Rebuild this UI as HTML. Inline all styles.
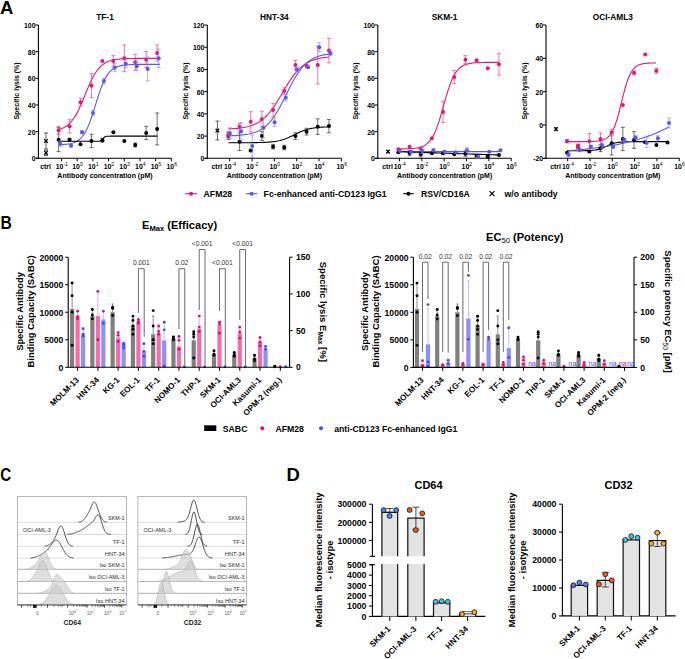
<!DOCTYPE html>
<html><head><meta charset="utf-8"><style>
html,body{margin:0;padding:0;background:#fff;}
body{width:685px;height:659px;overflow:hidden;}
svg{display:block;font-family:"Liberation Sans",sans-serif;}
</style></head><body>
<svg width="685" height="659" viewBox="0 0 685 659">
<rect x="0" y="0" width="685" height="659" fill="#fff"/>
<text x="0" y="13.5" font-size="18.5" font-weight="bold" text-anchor="start" fill="#000">A</text>
<text x="0.6" y="228.5" font-size="18.5" font-weight="bold" text-anchor="start" fill="#000" textLength="11.3" lengthAdjust="spacingAndGlyphs">B</text>
<text x="0.3" y="481" font-size="18.5" font-weight="bold" text-anchor="start" fill="#000" textLength="10.9" lengthAdjust="spacingAndGlyphs">C</text>
<text x="286.5" y="480.8" font-size="18.5" font-weight="bold" text-anchor="start" fill="#000">D</text>
<line x1="38.4" y1="25" x2="38.4" y2="158.8" stroke="#000" stroke-width="1.1"/>
<line x1="35.9" y1="158.3" x2="171.6" y2="158.3" stroke="#000" stroke-width="1.1"/>
<line x1="35.4" y1="158.3" x2="38.4" y2="158.3" stroke="#000" stroke-width="1"/>
<text x="35.5" y="161.2" font-size="6.9" font-weight="bold" text-anchor="end" fill="#000">0</text>
<line x1="35.4" y1="131.64" x2="38.4" y2="131.64" stroke="#000" stroke-width="1"/>
<text x="35.5" y="134.54" font-size="6.9" font-weight="bold" text-anchor="end" fill="#000">20</text>
<line x1="35.4" y1="104.98" x2="38.4" y2="104.98" stroke="#000" stroke-width="1"/>
<text x="35.5" y="107.88" font-size="6.9" font-weight="bold" text-anchor="end" fill="#000">40</text>
<line x1="35.4" y1="78.32" x2="38.4" y2="78.32" stroke="#000" stroke-width="1"/>
<text x="35.5" y="81.22" font-size="6.9" font-weight="bold" text-anchor="end" fill="#000">60</text>
<line x1="35.4" y1="51.66" x2="38.4" y2="51.66" stroke="#000" stroke-width="1"/>
<text x="35.5" y="54.56" font-size="6.9" font-weight="bold" text-anchor="end" fill="#000">80</text>
<line x1="35.4" y1="25" x2="38.4" y2="25" stroke="#000" stroke-width="1"/>
<text x="35.5" y="27.9" font-size="6.9" font-weight="bold" text-anchor="end" fill="#000">100</text>
<line x1="61.5" y1="158.3" x2="61.5" y2="161.3" stroke="#000" stroke-width="1"/>
<text x="61.8" y="168.6" font-size="6.9" font-weight="bold" text-anchor="middle">10<tspan font-size="5.0" dy="-2.7" font-weight="normal">-1</tspan></text>
<line x1="77.2" y1="158.3" x2="77.2" y2="161.3" stroke="#000" stroke-width="1"/>
<text x="77.5" y="168.6" font-size="6.9" font-weight="bold" text-anchor="middle">10<tspan font-size="5.0" dy="-2.7" font-weight="normal">0</tspan></text>
<line x1="92.9" y1="158.3" x2="92.9" y2="161.3" stroke="#000" stroke-width="1"/>
<text x="93.2" y="168.6" font-size="6.9" font-weight="bold" text-anchor="middle">10<tspan font-size="5.0" dy="-2.7" font-weight="normal">1</tspan></text>
<line x1="108.6" y1="158.3" x2="108.6" y2="161.3" stroke="#000" stroke-width="1"/>
<text x="108.9" y="168.6" font-size="6.9" font-weight="bold" text-anchor="middle">10<tspan font-size="5.0" dy="-2.7" font-weight="normal">2</tspan></text>
<line x1="124.3" y1="158.3" x2="124.3" y2="161.3" stroke="#000" stroke-width="1"/>
<text x="124.6" y="168.6" font-size="6.9" font-weight="bold" text-anchor="middle">10<tspan font-size="5.0" dy="-2.7" font-weight="normal">3</tspan></text>
<line x1="140" y1="158.3" x2="140" y2="161.3" stroke="#000" stroke-width="1"/>
<text x="140.3" y="168.6" font-size="6.9" font-weight="bold" text-anchor="middle">10<tspan font-size="5.0" dy="-2.7" font-weight="normal">4</tspan></text>
<line x1="155.7" y1="158.3" x2="155.7" y2="161.3" stroke="#000" stroke-width="1"/>
<text x="156" y="168.6" font-size="6.9" font-weight="bold" text-anchor="middle">10<tspan font-size="5.0" dy="-2.7" font-weight="normal">5</tspan></text>
<line x1="171.4" y1="158.3" x2="171.4" y2="161.3" stroke="#000" stroke-width="1"/>
<text x="171.7" y="168.6" font-size="6.9" font-weight="bold" text-anchor="middle">10<tspan font-size="5.0" dy="-2.7" font-weight="normal">6</tspan></text>
<text x="45.5" y="168.6" font-size="6.9" font-weight="bold" text-anchor="middle" fill="#000">ctrl</text>
<text x="105" y="177.5" font-size="7" font-weight="bold" text-anchor="middle" fill="#000">Antibody concentration (pM)</text>
<text x="18.9" y="91" font-size="7" font-weight="bold" text-anchor="middle" fill="#000" transform="rotate(-90 18.9 91)">Specific lysis (%)</text>
<text x="105" y="20.2" font-size="8.3" font-weight="bold" text-anchor="middle" fill="#000">TF-1</text>
<path d="M58.6,129.54 L59.84,129.18 L61.07,128.76 L62.31,128.26 L63.55,127.69 L64.78,127.02 L66.02,126.26 L67.25,125.37 L68.49,124.36 L69.73,123.2 L70.96,121.89 L72.2,120.41 L73.44,118.75 L74.67,116.9 L75.91,114.86 L77.14,112.62 L78.38,110.21 L79.62,107.62 L80.85,104.88 L82.09,102.02 L83.33,99.07 L84.56,96.06 L85.8,93.03 L87.03,90.03 L88.27,87.1 L89.51,84.27 L90.74,81.58 L91.98,79.04 L93.22,76.67 L94.45,74.5 L95.69,72.51 L96.92,70.72 L98.16,69.11 L99.4,67.68 L100.63,66.41 L101.87,65.3 L103.11,64.32 L104.34,63.47 L105.58,62.74 L106.81,62.1 L108.05,61.55 L109.29,61.08 L110.52,60.67 L111.76,60.33 L113,60.03 L114.23,59.77 L115.47,59.56 L116.7,59.37 L117.94,59.21 L119.18,59.08 L120.41,58.97 L121.65,58.87 L122.88,58.79 L124.12,58.72 L125.36,58.66 L126.59,58.61 L127.83,58.56 L129.07,58.53 L130.3,58.5 L131.54,58.47 L132.78,58.45 L134.01,58.43 L135.25,58.41 L136.48,58.4 L137.72,58.39 L138.96,58.38 L140.19,58.37 L141.43,58.36 L142.67,58.36 L143.9,58.35 L145.14,58.35 L146.37,58.35 L147.61,58.34 L148.85,58.34 L150.08,58.34 L151.32,58.34 L152.56,58.33 L153.79,58.33 L155.03,58.33 L156.26,58.33 L157.5,58.33" stroke="#e5157a" stroke-width="1.1" fill="none"/>
<path d="M60,144.71 L61.25,144.65 L62.5,144.58 L63.75,144.5 L65,144.39 L66.25,144.26 L67.5,144.11 L68.75,143.92 L70,143.69 L71.25,143.41 L72.5,143.07 L73.75,142.66 L75,142.16 L76.25,141.56 L77.5,140.83 L78.75,139.97 L80,138.93 L81.25,137.71 L82.5,136.26 L83.75,134.57 L85,132.6 L86.25,130.34 L87.5,127.77 L88.75,124.89 L90,121.7 L91.25,118.23 L92.5,114.52 L93.75,110.61 L95,106.6 L96.25,102.54 L97.5,98.52 L98.75,94.62 L100,90.92 L101.25,87.46 L102.5,84.28 L103.75,81.41 L105,78.85 L106.25,76.61 L107.5,74.65 L108.75,72.97 L110,71.53 L111.25,70.32 L112.5,69.29 L113.75,68.43 L115,67.71 L116.25,67.11 L117.5,66.62 L118.75,66.21 L120,65.87 L121.25,65.59 L122.5,65.37 L123.75,65.18 L125,65.02 L126.25,64.9 L127.5,64.79 L128.75,64.71 L130,64.64 L131.25,64.58 L132.5,64.53 L133.75,64.5 L135,64.46 L136.25,64.44 L137.5,64.42 L138.75,64.4 L140,64.39 L141.25,64.37 L142.5,64.37 L143.75,64.36 L145,64.35 L146.25,64.35 L147.5,64.34 L148.75,64.34 L150,64.34 L151.25,64.33 L152.5,64.33 L153.75,64.33 L155,64.33 L156.25,64.33 L157.5,64.33 L158.75,64.33 L160,64.33" stroke="#5757ee" stroke-width="1.1" fill="none"/>
<path d="M58.6,141.24 L59.84,141.24 L61.07,141.24 L62.31,141.24 L63.55,141.24 L64.78,141.24 L66.02,141.24 L67.25,141.24 L68.49,141.24 L69.73,141.24 L70.96,141.24 L72.2,141.24 L73.44,141.24 L74.67,141.24 L75.91,141.24 L77.14,141.24 L78.38,141.24 L79.62,141.24 L80.85,141.24 L82.09,141.24 L83.33,141.24 L84.56,141.24 L85.8,141.24 L87.03,141.24 L88.27,141.24 L89.51,141.24 L90.74,141.24 L91.98,141.24 L93.22,141.24 L94.45,141.24 L95.69,141.24 L96.92,141.23 L98.16,141.2 L99.4,141.12 L100.63,140.84 L101.87,140.04 L103.11,138.57 L104.34,137.18 L105.58,136.5 L106.81,136.27 L108.05,136.2 L109.29,136.18 L110.52,136.17 L111.76,136.17 L113,136.17 L114.23,136.17 L115.47,136.17 L116.7,136.17 L117.94,136.17 L119.18,136.17 L120.41,136.17 L121.65,136.17 L122.88,136.17 L124.12,136.17 L125.36,136.17 L126.59,136.17 L127.83,136.17 L129.07,136.17 L130.3,136.17 L131.54,136.17 L132.78,136.17 L134.01,136.17 L135.25,136.17 L136.48,136.17 L137.72,136.17 L138.96,136.17 L140.19,136.17 L141.43,136.17 L142.67,136.17 L143.9,136.17 L145.14,136.17 L146.37,136.17 L147.61,136.17 L148.85,136.17 L150.08,136.17 L151.32,136.17 L152.56,136.17 L153.79,136.17 L155.03,136.17 L156.26,136.17 L157.5,136.17" stroke="#000" stroke-width="1.1" fill="none"/>
<line x1="46" y1="148.97" x2="46" y2="132.97" stroke="#222" stroke-width="0.7"/>
<line x1="44" y1="148.97" x2="48" y2="148.97" stroke="#222" stroke-width="0.7"/>
<line x1="44" y1="132.97" x2="48" y2="132.97" stroke="#222" stroke-width="0.7"/>
<path d="M44.2,139.17 L47.8,142.77 M44.2,142.77 L47.8,139.17" stroke="#000" stroke-width="1.2" fill="none"/>
<line x1="46" y1="155.63" x2="46" y2="150.3" stroke="#222" stroke-width="0.7"/>
<line x1="44" y1="155.63" x2="48" y2="155.63" stroke="#222" stroke-width="0.7"/>
<line x1="44" y1="150.3" x2="48" y2="150.3" stroke="#222" stroke-width="0.7"/>
<path d="M44.2,151.17 L47.8,154.77 M44.2,154.77 L47.8,151.17" stroke="#000" stroke-width="1.2" fill="none"/>
<line x1="58.6" y1="151.64" x2="58.6" y2="127.64" stroke="#333" stroke-width="0.7"/>
<line x1="56.6" y1="151.64" x2="60.6" y2="151.64" stroke="#333" stroke-width="0.7"/>
<line x1="56.6" y1="127.64" x2="60.6" y2="127.64" stroke="#333" stroke-width="0.7"/>
<circle cx="58.6" cy="139.64" r="2" fill="#000" stroke="none" stroke-width="0"/>
<line x1="69.55" y1="140.97" x2="69.55" y2="138.31" stroke="#333" stroke-width="0.7"/>
<line x1="67.55" y1="140.97" x2="71.55" y2="140.97" stroke="#333" stroke-width="0.7"/>
<line x1="67.55" y1="138.31" x2="71.55" y2="138.31" stroke="#333" stroke-width="0.7"/>
<circle cx="69.55" cy="139.64" r="2" fill="#000" stroke="none" stroke-width="0"/>
<circle cx="80.5" cy="144.3" r="2" fill="#000" stroke="none" stroke-width="0"/>
<line x1="91.45" y1="147.64" x2="91.45" y2="134.31" stroke="#333" stroke-width="0.7"/>
<line x1="89.45" y1="147.64" x2="93.45" y2="147.64" stroke="#333" stroke-width="0.7"/>
<line x1="89.45" y1="134.31" x2="93.45" y2="134.31" stroke="#333" stroke-width="0.7"/>
<circle cx="91.45" cy="140.97" r="2" fill="#000" stroke="none" stroke-width="0"/>
<line x1="102.4" y1="142.3" x2="102.4" y2="138.31" stroke="#333" stroke-width="0.7"/>
<line x1="100.4" y1="142.3" x2="104.4" y2="142.3" stroke="#333" stroke-width="0.7"/>
<line x1="100.4" y1="138.31" x2="104.4" y2="138.31" stroke="#333" stroke-width="0.7"/>
<circle cx="102.4" cy="140.3" r="2" fill="#000" stroke="none" stroke-width="0"/>
<circle cx="113.35" cy="132.31" r="2" fill="#000" stroke="none" stroke-width="0"/>
<circle cx="124.3" cy="140.97" r="2" fill="#000" stroke="none" stroke-width="0"/>
<line x1="135.25" y1="146.97" x2="135.25" y2="142.97" stroke="#333" stroke-width="0.7"/>
<line x1="133.25" y1="146.97" x2="137.25" y2="146.97" stroke="#333" stroke-width="0.7"/>
<line x1="133.25" y1="142.97" x2="137.25" y2="142.97" stroke="#333" stroke-width="0.7"/>
<circle cx="135.25" cy="144.97" r="2" fill="#000" stroke="none" stroke-width="0"/>
<line x1="146.2" y1="139.64" x2="146.2" y2="126.31" stroke="#333" stroke-width="0.7"/>
<line x1="144.2" y1="139.64" x2="148.2" y2="139.64" stroke="#333" stroke-width="0.7"/>
<line x1="144.2" y1="126.31" x2="148.2" y2="126.31" stroke="#333" stroke-width="0.7"/>
<circle cx="146.2" cy="132.97" r="2" fill="#000" stroke="none" stroke-width="0"/>
<line x1="157.15" y1="144.97" x2="157.15" y2="112.98" stroke="#333" stroke-width="0.7"/>
<line x1="155.15" y1="144.97" x2="159.15" y2="144.97" stroke="#333" stroke-width="0.7"/>
<line x1="155.15" y1="112.98" x2="159.15" y2="112.98" stroke="#333" stroke-width="0.7"/>
<circle cx="157.15" cy="128.97" r="2" fill="#000" stroke="none" stroke-width="0"/>
<line x1="58.6" y1="134.31" x2="58.6" y2="126.31" stroke="#ec3b8c" stroke-width="0.7"/>
<line x1="56.6" y1="134.31" x2="60.6" y2="134.31" stroke="#ec3b8c" stroke-width="0.7"/>
<line x1="56.6" y1="126.31" x2="60.6" y2="126.31" stroke="#ec3b8c" stroke-width="0.7"/>
<circle cx="58.6" cy="130.31" r="2" fill="#e5157a" stroke="none" stroke-width="0"/>
<line x1="69.55" y1="132.97" x2="69.55" y2="119.64" stroke="#ec3b8c" stroke-width="0.7"/>
<line x1="67.55" y1="132.97" x2="71.55" y2="132.97" stroke="#ec3b8c" stroke-width="0.7"/>
<line x1="67.55" y1="119.64" x2="71.55" y2="119.64" stroke="#ec3b8c" stroke-width="0.7"/>
<circle cx="69.55" cy="126.31" r="2" fill="#e5157a" stroke="none" stroke-width="0"/>
<line x1="80.5" y1="106.31" x2="80.5" y2="98.31" stroke="#ec3b8c" stroke-width="0.7"/>
<line x1="78.5" y1="106.31" x2="82.5" y2="106.31" stroke="#ec3b8c" stroke-width="0.7"/>
<line x1="78.5" y1="98.31" x2="82.5" y2="98.31" stroke="#ec3b8c" stroke-width="0.7"/>
<circle cx="80.5" cy="102.31" r="2" fill="#e5157a" stroke="none" stroke-width="0"/>
<line x1="91.45" y1="97.65" x2="91.45" y2="73.65" stroke="#ec3b8c" stroke-width="0.7"/>
<line x1="89.45" y1="97.65" x2="93.45" y2="97.65" stroke="#ec3b8c" stroke-width="0.7"/>
<line x1="89.45" y1="73.65" x2="93.45" y2="73.65" stroke="#ec3b8c" stroke-width="0.7"/>
<circle cx="91.45" cy="85.65" r="2" fill="#e5157a" stroke="none" stroke-width="0"/>
<circle cx="102.4" cy="60.99" r="2" fill="#e5157a" stroke="none" stroke-width="0"/>
<line x1="113.35" y1="66.32" x2="113.35" y2="55.66" stroke="#ec3b8c" stroke-width="0.7"/>
<line x1="111.35" y1="66.32" x2="115.35" y2="66.32" stroke="#ec3b8c" stroke-width="0.7"/>
<line x1="111.35" y1="55.66" x2="115.35" y2="55.66" stroke="#ec3b8c" stroke-width="0.7"/>
<circle cx="113.35" cy="60.99" r="2" fill="#e5157a" stroke="none" stroke-width="0"/>
<line x1="124.3" y1="71.66" x2="124.3" y2="44.99" stroke="#ec3b8c" stroke-width="0.7"/>
<line x1="122.3" y1="71.66" x2="126.3" y2="71.66" stroke="#ec3b8c" stroke-width="0.7"/>
<line x1="122.3" y1="44.99" x2="126.3" y2="44.99" stroke="#ec3b8c" stroke-width="0.7"/>
<circle cx="124.3" cy="58.33" r="2" fill="#e5157a" stroke="none" stroke-width="0"/>
<line x1="135.25" y1="70.32" x2="135.25" y2="54.33" stroke="#ec3b8c" stroke-width="0.7"/>
<line x1="133.25" y1="70.32" x2="137.25" y2="70.32" stroke="#ec3b8c" stroke-width="0.7"/>
<line x1="133.25" y1="54.33" x2="137.25" y2="54.33" stroke="#ec3b8c" stroke-width="0.7"/>
<circle cx="135.25" cy="62.32" r="2" fill="#e5157a" stroke="none" stroke-width="0"/>
<line x1="146.2" y1="67.66" x2="146.2" y2="51.66" stroke="#ec3b8c" stroke-width="0.7"/>
<line x1="144.2" y1="67.66" x2="148.2" y2="67.66" stroke="#ec3b8c" stroke-width="0.7"/>
<line x1="144.2" y1="51.66" x2="148.2" y2="51.66" stroke="#ec3b8c" stroke-width="0.7"/>
<circle cx="146.2" cy="59.66" r="2" fill="#e5157a" stroke="none" stroke-width="0"/>
<line x1="157.15" y1="60.99" x2="157.15" y2="44.99" stroke="#ec3b8c" stroke-width="0.7"/>
<line x1="155.15" y1="60.99" x2="159.15" y2="60.99" stroke="#ec3b8c" stroke-width="0.7"/>
<line x1="155.15" y1="44.99" x2="159.15" y2="44.99" stroke="#ec3b8c" stroke-width="0.7"/>
<circle cx="157.15" cy="52.99" r="2" fill="#e5157a" stroke="none" stroke-width="0"/>
<line x1="60.1" y1="146.3" x2="60.1" y2="140.97" stroke="#8a8af5" stroke-width="0.7"/>
<line x1="58.1" y1="146.3" x2="62.1" y2="146.3" stroke="#8a8af5" stroke-width="0.7"/>
<line x1="58.1" y1="140.97" x2="62.1" y2="140.97" stroke="#8a8af5" stroke-width="0.7"/>
<circle cx="60.1" cy="143.64" r="2" fill="#5757ee" stroke="none" stroke-width="0"/>
<line x1="71.05" y1="146.97" x2="71.05" y2="144.3" stroke="#8a8af5" stroke-width="0.7"/>
<line x1="69.05" y1="146.97" x2="73.05" y2="146.97" stroke="#8a8af5" stroke-width="0.7"/>
<line x1="69.05" y1="144.3" x2="73.05" y2="144.3" stroke="#8a8af5" stroke-width="0.7"/>
<circle cx="71.05" cy="145.64" r="2" fill="#5757ee" stroke="none" stroke-width="0"/>
<line x1="82" y1="133.64" x2="82" y2="130.97" stroke="#8a8af5" stroke-width="0.7"/>
<line x1="80" y1="133.64" x2="84" y2="133.64" stroke="#8a8af5" stroke-width="0.7"/>
<line x1="80" y1="130.97" x2="84" y2="130.97" stroke="#8a8af5" stroke-width="0.7"/>
<circle cx="82" cy="132.31" r="2" fill="#5757ee" stroke="none" stroke-width="0"/>
<line x1="92.95" y1="115.64" x2="92.95" y2="110.31" stroke="#8a8af5" stroke-width="0.7"/>
<line x1="90.95" y1="115.64" x2="94.95" y2="115.64" stroke="#8a8af5" stroke-width="0.7"/>
<line x1="90.95" y1="110.31" x2="94.95" y2="110.31" stroke="#8a8af5" stroke-width="0.7"/>
<circle cx="92.95" cy="112.98" r="2" fill="#5757ee" stroke="none" stroke-width="0"/>
<line x1="103.9" y1="83.65" x2="103.9" y2="78.32" stroke="#8a8af5" stroke-width="0.7"/>
<line x1="101.9" y1="83.65" x2="105.9" y2="83.65" stroke="#8a8af5" stroke-width="0.7"/>
<line x1="101.9" y1="78.32" x2="105.9" y2="78.32" stroke="#8a8af5" stroke-width="0.7"/>
<circle cx="103.9" cy="80.99" r="2" fill="#5757ee" stroke="none" stroke-width="0"/>
<line x1="114.85" y1="71.66" x2="114.85" y2="63.66" stroke="#8a8af5" stroke-width="0.7"/>
<line x1="112.85" y1="71.66" x2="116.85" y2="71.66" stroke="#8a8af5" stroke-width="0.7"/>
<line x1="112.85" y1="63.66" x2="116.85" y2="63.66" stroke="#8a8af5" stroke-width="0.7"/>
<circle cx="114.85" cy="67.66" r="2" fill="#5757ee" stroke="none" stroke-width="0"/>
<line x1="125.8" y1="67.66" x2="125.8" y2="59.66" stroke="#8a8af5" stroke-width="0.7"/>
<line x1="123.8" y1="67.66" x2="127.8" y2="67.66" stroke="#8a8af5" stroke-width="0.7"/>
<line x1="123.8" y1="59.66" x2="127.8" y2="59.66" stroke="#8a8af5" stroke-width="0.7"/>
<circle cx="125.8" cy="63.66" r="2" fill="#5757ee" stroke="none" stroke-width="0"/>
<line x1="136.75" y1="70.32" x2="136.75" y2="62.32" stroke="#8a8af5" stroke-width="0.7"/>
<line x1="134.75" y1="70.32" x2="138.75" y2="70.32" stroke="#8a8af5" stroke-width="0.7"/>
<line x1="134.75" y1="62.32" x2="138.75" y2="62.32" stroke="#8a8af5" stroke-width="0.7"/>
<circle cx="136.75" cy="66.32" r="2" fill="#5757ee" stroke="none" stroke-width="0"/>
<line x1="147.7" y1="80.99" x2="147.7" y2="56.99" stroke="#8a8af5" stroke-width="0.7"/>
<line x1="145.7" y1="80.99" x2="149.7" y2="80.99" stroke="#8a8af5" stroke-width="0.7"/>
<line x1="145.7" y1="56.99" x2="149.7" y2="56.99" stroke="#8a8af5" stroke-width="0.7"/>
<circle cx="147.7" cy="68.99" r="2" fill="#5757ee" stroke="none" stroke-width="0"/>
<line x1="158.65" y1="67.66" x2="158.65" y2="48.99" stroke="#8a8af5" stroke-width="0.7"/>
<line x1="156.65" y1="67.66" x2="160.65" y2="67.66" stroke="#8a8af5" stroke-width="0.7"/>
<line x1="156.65" y1="48.99" x2="160.65" y2="48.99" stroke="#8a8af5" stroke-width="0.7"/>
<circle cx="158.65" cy="58.33" r="2" fill="#5757ee" stroke="none" stroke-width="0"/>
<line x1="207.3" y1="25" x2="207.3" y2="158.8" stroke="#000" stroke-width="1.1"/>
<line x1="204.8" y1="158.3" x2="341.4" y2="158.3" stroke="#000" stroke-width="1.1"/>
<line x1="204.3" y1="158.3" x2="207.3" y2="158.3" stroke="#000" stroke-width="1"/>
<text x="204.4" y="161.2" font-size="6.9" font-weight="bold" text-anchor="end" fill="#000">0</text>
<line x1="204.3" y1="136.08" x2="207.3" y2="136.08" stroke="#000" stroke-width="1"/>
<text x="204.4" y="138.98" font-size="6.9" font-weight="bold" text-anchor="end" fill="#000">20</text>
<line x1="204.3" y1="113.87" x2="207.3" y2="113.87" stroke="#000" stroke-width="1"/>
<text x="204.4" y="116.77" font-size="6.9" font-weight="bold" text-anchor="end" fill="#000">40</text>
<line x1="204.3" y1="91.65" x2="207.3" y2="91.65" stroke="#000" stroke-width="1"/>
<text x="204.4" y="94.55" font-size="6.9" font-weight="bold" text-anchor="end" fill="#000">60</text>
<line x1="204.3" y1="69.43" x2="207.3" y2="69.43" stroke="#000" stroke-width="1"/>
<text x="204.4" y="72.33" font-size="6.9" font-weight="bold" text-anchor="end" fill="#000">80</text>
<line x1="204.3" y1="47.22" x2="207.3" y2="47.22" stroke="#000" stroke-width="1"/>
<text x="204.4" y="50.12" font-size="6.9" font-weight="bold" text-anchor="end" fill="#000">100</text>
<line x1="204.3" y1="25" x2="207.3" y2="25" stroke="#000" stroke-width="1"/>
<text x="204.4" y="27.9" font-size="6.9" font-weight="bold" text-anchor="end" fill="#000">120</text>
<line x1="229.7" y1="158.3" x2="229.7" y2="161.3" stroke="#000" stroke-width="1"/>
<text x="230" y="168.6" font-size="6.9" font-weight="bold" text-anchor="middle">10<tspan font-size="5.0" dy="-2.7" font-weight="normal">-4</tspan></text>
<line x1="252.04" y1="158.3" x2="252.04" y2="161.3" stroke="#000" stroke-width="1"/>
<text x="252.34" y="168.6" font-size="6.9" font-weight="bold" text-anchor="middle">10<tspan font-size="5.0" dy="-2.7" font-weight="normal">-2</tspan></text>
<line x1="274.38" y1="158.3" x2="274.38" y2="161.3" stroke="#000" stroke-width="1"/>
<text x="274.68" y="168.6" font-size="6.9" font-weight="bold" text-anchor="middle">10<tspan font-size="5.0" dy="-2.7" font-weight="normal">0</tspan></text>
<line x1="296.72" y1="158.3" x2="296.72" y2="161.3" stroke="#000" stroke-width="1"/>
<text x="297.02" y="168.6" font-size="6.9" font-weight="bold" text-anchor="middle">10<tspan font-size="5.0" dy="-2.7" font-weight="normal">2</tspan></text>
<line x1="319.06" y1="158.3" x2="319.06" y2="161.3" stroke="#000" stroke-width="1"/>
<text x="319.36" y="168.6" font-size="6.9" font-weight="bold" text-anchor="middle">10<tspan font-size="5.0" dy="-2.7" font-weight="normal">4</tspan></text>
<line x1="341.4" y1="158.3" x2="341.4" y2="161.3" stroke="#000" stroke-width="1"/>
<text x="341.7" y="168.6" font-size="6.9" font-weight="bold" text-anchor="middle">10<tspan font-size="5.0" dy="-2.7" font-weight="normal">6</tspan></text>
<text x="216.9" y="168.6" font-size="6.9" font-weight="bold" text-anchor="middle" fill="#000">ctrl</text>
<text x="274.35" y="177.5" font-size="7" font-weight="bold" text-anchor="middle" fill="#000">Antibody concentration (pM)</text>
<text x="187.8" y="91" font-size="7" font-weight="bold" text-anchor="middle" fill="#000" transform="rotate(-90 187.8 91)">Specific lysis (%)</text>
<text x="274.35" y="20.2" font-size="8.3" font-weight="bold" text-anchor="middle" fill="#000">HNT-34</text>
<path d="M228.4,128.94 L229.66,128.88 L230.91,128.81 L232.17,128.74 L233.43,128.65 L234.69,128.56 L235.94,128.45 L237.2,128.34 L238.46,128.21 L239.72,128.06 L240.97,127.89 L242.23,127.71 L243.49,127.5 L244.75,127.27 L246,127.02 L247.26,126.73 L248.52,126.41 L249.78,126.06 L251.03,125.66 L252.29,125.22 L253.55,124.74 L254.81,124.2 L256.06,123.61 L257.32,122.95 L258.58,122.23 L259.84,121.44 L261.1,120.57 L262.35,119.62 L263.61,118.59 L264.87,117.46 L266.12,116.25 L267.38,114.94 L268.64,113.54 L269.9,112.04 L271.15,110.45 L272.41,108.76 L273.67,106.99 L274.93,105.13 L276.19,103.2 L277.44,101.21 L278.7,99.16 L279.96,97.06 L281.22,94.94 L282.47,92.81 L283.73,90.67 L284.99,88.55 L286.25,86.46 L287.5,84.4 L288.76,82.41 L290.02,80.47 L291.27,78.61 L292.53,76.84 L293.79,75.15 L295.05,73.55 L296.31,72.05 L297.56,70.64 L298.82,69.33 L300.08,68.11 L301.33,66.98 L302.59,65.95 L303.85,64.99 L305.11,64.12 L306.37,63.33 L307.62,62.6 L308.88,61.94 L310.14,61.35 L311.39,60.81 L312.65,60.32 L313.91,59.88 L315.17,59.48 L316.43,59.12 L317.68,58.8 L318.94,58.52 L320.2,58.26 L321.45,58.03 L322.71,57.82 L323.97,57.64 L325.23,57.47 L326.49,57.32 L327.74,57.19 L329,57.07" stroke="#e5157a" stroke-width="1.1" fill="none"/>
<path d="M229.9,135.73 L231.16,135.69 L232.41,135.64 L233.67,135.58 L234.93,135.51 L236.19,135.44 L237.44,135.36 L238.7,135.26 L239.96,135.16 L241.22,135.04 L242.47,134.91 L243.73,134.76 L244.99,134.59 L246.25,134.4 L247.5,134.19 L248.76,133.95 L250.02,133.68 L251.28,133.37 L252.53,133.04 L253.79,132.66 L255.05,132.24 L256.31,131.76 L257.56,131.24 L258.82,130.65 L260.08,130 L261.34,129.27 L262.6,128.47 L263.85,127.58 L265.11,126.61 L266.37,125.53 L267.62,124.36 L268.88,123.08 L270.14,121.68 L271.4,120.17 L272.65,118.55 L273.91,116.8 L275.17,114.94 L276.43,112.96 L277.69,110.87 L278.94,108.68 L280.2,106.39 L281.46,104.02 L282.72,101.59 L283.97,99.1 L285.23,96.58 L286.49,94.05 L287.75,91.52 L289,89 L290.26,86.53 L291.52,84.12 L292.77,81.77 L294.03,79.51 L295.29,77.35 L296.55,75.29 L297.81,73.35 L299.06,71.52 L300.32,69.81 L301.58,68.22 L302.83,66.74 L304.09,65.38 L305.35,64.13 L306.61,62.99 L307.87,61.95 L309.12,61 L310.38,60.14 L311.64,59.36 L312.89,58.66 L314.15,58.02 L315.41,57.46 L316.67,56.95 L317.93,56.49 L319.18,56.08 L320.44,55.71 L321.7,55.39 L322.95,55.09 L324.21,54.83 L325.47,54.6 L326.73,54.4 L327.99,54.21 L329.24,54.05 L330.5,53.91" stroke="#5757ee" stroke-width="1.1" fill="none"/>
<path d="M228.4,142.74 L229.66,142.74 L230.91,142.74 L232.17,142.74 L233.43,142.74 L234.69,142.74 L235.94,142.74 L237.2,142.73 L238.46,142.73 L239.72,142.73 L240.97,142.73 L242.23,142.72 L243.49,142.72 L244.75,142.71 L246,142.71 L247.26,142.7 L248.52,142.69 L249.78,142.68 L251.03,142.67 L252.29,142.66 L253.55,142.65 L254.81,142.63 L256.06,142.61 L257.32,142.59 L258.58,142.56 L259.84,142.53 L261.1,142.49 L262.35,142.45 L263.61,142.4 L264.87,142.35 L266.12,142.28 L267.38,142.2 L268.64,142.12 L269.9,142.02 L271.15,141.9 L272.41,141.76 L273.67,141.61 L274.93,141.43 L276.19,141.23 L277.44,141.01 L278.7,140.75 L279.96,140.46 L281.22,140.14 L282.47,139.78 L283.73,139.38 L284.99,138.95 L286.25,138.48 L287.5,137.98 L288.76,137.44 L290.02,136.87 L291.27,136.28 L292.53,135.67 L293.79,135.05 L295.05,134.42 L296.31,133.8 L297.56,133.19 L298.82,132.59 L300.08,132.02 L301.33,131.48 L302.59,130.97 L303.85,130.5 L305.11,130.06 L306.37,129.66 L307.62,129.3 L308.88,128.97 L310.14,128.68 L311.39,128.41 L312.65,128.18 L313.91,127.98 L315.17,127.8 L316.43,127.64 L317.68,127.51 L318.94,127.39 L320.2,127.29 L321.45,127.2 L322.71,127.12 L323.97,127.05 L325.23,126.99 L326.49,126.94 L327.74,126.9 L329,126.86" stroke="#000" stroke-width="1.1" fill="none"/>
<line x1="217.4" y1="139.97" x2="217.4" y2="121.09" stroke="#222" stroke-width="0.7"/>
<line x1="215.4" y1="139.97" x2="219.4" y2="139.97" stroke="#222" stroke-width="0.7"/>
<line x1="215.4" y1="121.09" x2="219.4" y2="121.09" stroke="#222" stroke-width="0.7"/>
<path d="M215.6,128.73 L219.2,132.33 M215.6,132.33 L219.2,128.73" stroke="#000" stroke-width="1.2" fill="none"/>
<line x1="228.4" y1="139.42" x2="228.4" y2="132.75" stroke="#333" stroke-width="0.7"/>
<line x1="226.4" y1="139.42" x2="230.4" y2="139.42" stroke="#333" stroke-width="0.7"/>
<line x1="226.4" y1="132.75" x2="230.4" y2="132.75" stroke="#333" stroke-width="0.7"/>
<circle cx="228.4" cy="136.08" r="2" fill="#000" stroke="none" stroke-width="0"/>
<line x1="239.57" y1="150.52" x2="239.57" y2="132.75" stroke="#333" stroke-width="0.7"/>
<line x1="237.57" y1="150.52" x2="241.57" y2="150.52" stroke="#333" stroke-width="0.7"/>
<line x1="237.57" y1="132.75" x2="241.57" y2="132.75" stroke="#333" stroke-width="0.7"/>
<circle cx="239.57" cy="141.64" r="2" fill="#000" stroke="none" stroke-width="0"/>
<line x1="250.74" y1="151.64" x2="250.74" y2="149.41" stroke="#333" stroke-width="0.7"/>
<line x1="248.74" y1="151.64" x2="252.74" y2="151.64" stroke="#333" stroke-width="0.7"/>
<line x1="248.74" y1="149.41" x2="252.74" y2="149.41" stroke="#333" stroke-width="0.7"/>
<circle cx="250.74" cy="150.52" r="2" fill="#000" stroke="none" stroke-width="0"/>
<line x1="261.91" y1="140.53" x2="261.91" y2="131.64" stroke="#333" stroke-width="0.7"/>
<line x1="259.91" y1="140.53" x2="263.91" y2="140.53" stroke="#333" stroke-width="0.7"/>
<line x1="259.91" y1="131.64" x2="263.91" y2="131.64" stroke="#333" stroke-width="0.7"/>
<circle cx="261.91" cy="136.08" r="2" fill="#000" stroke="none" stroke-width="0"/>
<line x1="273.08" y1="148.86" x2="273.08" y2="144.41" stroke="#333" stroke-width="0.7"/>
<line x1="271.08" y1="148.86" x2="275.08" y2="148.86" stroke="#333" stroke-width="0.7"/>
<line x1="271.08" y1="144.41" x2="275.08" y2="144.41" stroke="#333" stroke-width="0.7"/>
<circle cx="273.08" cy="146.64" r="2" fill="#000" stroke="none" stroke-width="0"/>
<line x1="284.25" y1="149.75" x2="284.25" y2="145.3" stroke="#333" stroke-width="0.7"/>
<line x1="282.25" y1="149.75" x2="286.25" y2="149.75" stroke="#333" stroke-width="0.7"/>
<line x1="282.25" y1="145.3" x2="286.25" y2="145.3" stroke="#333" stroke-width="0.7"/>
<circle cx="284.25" cy="147.52" r="2" fill="#000" stroke="none" stroke-width="0"/>
<line x1="295.42" y1="139.42" x2="295.42" y2="132.75" stroke="#333" stroke-width="0.7"/>
<line x1="293.42" y1="139.42" x2="297.42" y2="139.42" stroke="#333" stroke-width="0.7"/>
<line x1="293.42" y1="132.75" x2="297.42" y2="132.75" stroke="#333" stroke-width="0.7"/>
<circle cx="295.42" cy="136.08" r="2" fill="#000" stroke="none" stroke-width="0"/>
<line x1="306.59" y1="134.97" x2="306.59" y2="128.31" stroke="#333" stroke-width="0.7"/>
<line x1="304.59" y1="134.97" x2="308.59" y2="134.97" stroke="#333" stroke-width="0.7"/>
<line x1="304.59" y1="128.31" x2="308.59" y2="128.31" stroke="#333" stroke-width="0.7"/>
<circle cx="306.59" cy="131.64" r="2" fill="#000" stroke="none" stroke-width="0"/>
<line x1="317.76" y1="134.42" x2="317.76" y2="118.87" stroke="#333" stroke-width="0.7"/>
<line x1="315.76" y1="134.42" x2="319.76" y2="134.42" stroke="#333" stroke-width="0.7"/>
<line x1="315.76" y1="118.87" x2="319.76" y2="118.87" stroke="#333" stroke-width="0.7"/>
<circle cx="317.76" cy="126.64" r="2" fill="#000" stroke="none" stroke-width="0"/>
<line x1="328.93" y1="132.75" x2="328.93" y2="119.42" stroke="#333" stroke-width="0.7"/>
<line x1="326.93" y1="132.75" x2="330.93" y2="132.75" stroke="#333" stroke-width="0.7"/>
<line x1="326.93" y1="119.42" x2="330.93" y2="119.42" stroke="#333" stroke-width="0.7"/>
<circle cx="328.93" cy="126.09" r="2" fill="#000" stroke="none" stroke-width="0"/>
<line x1="228.4" y1="138.31" x2="228.4" y2="131.64" stroke="#ec3b8c" stroke-width="0.7"/>
<line x1="226.4" y1="138.31" x2="230.4" y2="138.31" stroke="#ec3b8c" stroke-width="0.7"/>
<line x1="226.4" y1="131.64" x2="230.4" y2="131.64" stroke="#ec3b8c" stroke-width="0.7"/>
<circle cx="228.4" cy="134.97" r="2" fill="#e5157a" stroke="none" stroke-width="0"/>
<line x1="239.57" y1="130.2" x2="239.57" y2="123.53" stroke="#ec3b8c" stroke-width="0.7"/>
<line x1="237.57" y1="130.2" x2="241.57" y2="130.2" stroke="#ec3b8c" stroke-width="0.7"/>
<line x1="237.57" y1="123.53" x2="241.57" y2="123.53" stroke="#ec3b8c" stroke-width="0.7"/>
<circle cx="239.57" cy="126.86" r="2" fill="#e5157a" stroke="none" stroke-width="0"/>
<line x1="250.74" y1="131.75" x2="250.74" y2="111.76" stroke="#ec3b8c" stroke-width="0.7"/>
<line x1="248.74" y1="131.75" x2="252.74" y2="131.75" stroke="#ec3b8c" stroke-width="0.7"/>
<line x1="248.74" y1="111.76" x2="252.74" y2="111.76" stroke="#ec3b8c" stroke-width="0.7"/>
<circle cx="250.74" cy="121.75" r="2" fill="#e5157a" stroke="none" stroke-width="0"/>
<line x1="261.91" y1="126.75" x2="261.91" y2="111.2" stroke="#ec3b8c" stroke-width="0.7"/>
<line x1="259.91" y1="126.75" x2="263.91" y2="126.75" stroke="#ec3b8c" stroke-width="0.7"/>
<line x1="259.91" y1="111.2" x2="263.91" y2="111.2" stroke="#ec3b8c" stroke-width="0.7"/>
<circle cx="261.91" cy="118.98" r="2" fill="#e5157a" stroke="none" stroke-width="0"/>
<line x1="273.08" y1="116.75" x2="273.08" y2="103.42" stroke="#ec3b8c" stroke-width="0.7"/>
<line x1="271.08" y1="116.75" x2="275.08" y2="116.75" stroke="#ec3b8c" stroke-width="0.7"/>
<line x1="271.08" y1="103.42" x2="275.08" y2="103.42" stroke="#ec3b8c" stroke-width="0.7"/>
<circle cx="273.08" cy="110.09" r="2" fill="#e5157a" stroke="none" stroke-width="0"/>
<line x1="284.25" y1="94.43" x2="284.25" y2="87.76" stroke="#ec3b8c" stroke-width="0.7"/>
<line x1="282.25" y1="94.43" x2="286.25" y2="94.43" stroke="#ec3b8c" stroke-width="0.7"/>
<line x1="282.25" y1="87.76" x2="286.25" y2="87.76" stroke="#ec3b8c" stroke-width="0.7"/>
<circle cx="284.25" cy="91.09" r="2" fill="#e5157a" stroke="none" stroke-width="0"/>
<line x1="295.42" y1="69.32" x2="295.42" y2="60.44" stroke="#ec3b8c" stroke-width="0.7"/>
<line x1="293.42" y1="69.32" x2="297.42" y2="69.32" stroke="#ec3b8c" stroke-width="0.7"/>
<line x1="293.42" y1="60.44" x2="297.42" y2="60.44" stroke="#ec3b8c" stroke-width="0.7"/>
<circle cx="295.42" cy="64.88" r="2" fill="#e5157a" stroke="none" stroke-width="0"/>
<line x1="306.59" y1="67.21" x2="306.59" y2="64.99" stroke="#ec3b8c" stroke-width="0.7"/>
<line x1="304.59" y1="67.21" x2="308.59" y2="67.21" stroke="#ec3b8c" stroke-width="0.7"/>
<line x1="304.59" y1="64.99" x2="308.59" y2="64.99" stroke="#ec3b8c" stroke-width="0.7"/>
<circle cx="306.59" cy="66.1" r="2" fill="#e5157a" stroke="none" stroke-width="0"/>
<line x1="317.76" y1="83.87" x2="317.76" y2="46.11" stroke="#ec3b8c" stroke-width="0.7"/>
<line x1="315.76" y1="83.87" x2="319.76" y2="83.87" stroke="#ec3b8c" stroke-width="0.7"/>
<line x1="315.76" y1="46.11" x2="319.76" y2="46.11" stroke="#ec3b8c" stroke-width="0.7"/>
<circle cx="317.76" cy="64.99" r="2" fill="#e5157a" stroke="none" stroke-width="0"/>
<line x1="328.93" y1="62.77" x2="328.93" y2="38.33" stroke="#ec3b8c" stroke-width="0.7"/>
<line x1="326.93" y1="62.77" x2="330.93" y2="62.77" stroke="#ec3b8c" stroke-width="0.7"/>
<line x1="326.93" y1="38.33" x2="330.93" y2="38.33" stroke="#ec3b8c" stroke-width="0.7"/>
<circle cx="328.93" cy="50.55" r="2" fill="#e5157a" stroke="none" stroke-width="0"/>
<line x1="229.9" y1="138.86" x2="229.9" y2="127.75" stroke="#8a8af5" stroke-width="0.7"/>
<line x1="227.9" y1="138.86" x2="231.9" y2="138.86" stroke="#8a8af5" stroke-width="0.7"/>
<line x1="227.9" y1="127.75" x2="231.9" y2="127.75" stroke="#8a8af5" stroke-width="0.7"/>
<circle cx="229.9" cy="133.31" r="2" fill="#5757ee" stroke="none" stroke-width="0"/>
<line x1="241.07" y1="140.19" x2="241.07" y2="122.42" stroke="#8a8af5" stroke-width="0.7"/>
<line x1="239.07" y1="140.19" x2="243.07" y2="140.19" stroke="#8a8af5" stroke-width="0.7"/>
<line x1="239.07" y1="122.42" x2="243.07" y2="122.42" stroke="#8a8af5" stroke-width="0.7"/>
<circle cx="241.07" cy="131.31" r="2" fill="#5757ee" stroke="none" stroke-width="0"/>
<line x1="252.24" y1="157.19" x2="252.24" y2="134.97" stroke="#8a8af5" stroke-width="0.7"/>
<line x1="250.24" y1="157.19" x2="254.24" y2="157.19" stroke="#8a8af5" stroke-width="0.7"/>
<line x1="250.24" y1="134.97" x2="254.24" y2="134.97" stroke="#8a8af5" stroke-width="0.7"/>
<circle cx="252.24" cy="146.08" r="2" fill="#5757ee" stroke="none" stroke-width="0"/>
<line x1="263.41" y1="137.75" x2="263.41" y2="117.75" stroke="#8a8af5" stroke-width="0.7"/>
<line x1="261.41" y1="137.75" x2="265.41" y2="137.75" stroke="#8a8af5" stroke-width="0.7"/>
<line x1="261.41" y1="117.75" x2="265.41" y2="117.75" stroke="#8a8af5" stroke-width="0.7"/>
<circle cx="263.41" cy="127.75" r="2" fill="#5757ee" stroke="none" stroke-width="0"/>
<line x1="274.58" y1="126.64" x2="274.58" y2="117.75" stroke="#8a8af5" stroke-width="0.7"/>
<line x1="272.58" y1="126.64" x2="276.58" y2="126.64" stroke="#8a8af5" stroke-width="0.7"/>
<line x1="272.58" y1="117.75" x2="276.58" y2="117.75" stroke="#8a8af5" stroke-width="0.7"/>
<circle cx="274.58" cy="122.2" r="2" fill="#5757ee" stroke="none" stroke-width="0"/>
<line x1="285.75" y1="101.09" x2="285.75" y2="94.43" stroke="#8a8af5" stroke-width="0.7"/>
<line x1="283.75" y1="101.09" x2="287.75" y2="101.09" stroke="#8a8af5" stroke-width="0.7"/>
<line x1="283.75" y1="94.43" x2="287.75" y2="94.43" stroke="#8a8af5" stroke-width="0.7"/>
<circle cx="285.75" cy="97.76" r="2" fill="#5757ee" stroke="none" stroke-width="0"/>
<line x1="296.92" y1="71.66" x2="296.92" y2="67.21" stroke="#8a8af5" stroke-width="0.7"/>
<line x1="294.92" y1="71.66" x2="298.92" y2="71.66" stroke="#8a8af5" stroke-width="0.7"/>
<line x1="294.92" y1="67.21" x2="298.92" y2="67.21" stroke="#8a8af5" stroke-width="0.7"/>
<circle cx="296.92" cy="69.43" r="2" fill="#5757ee" stroke="none" stroke-width="0"/>
<line x1="308.09" y1="68.32" x2="308.09" y2="66.1" stroke="#8a8af5" stroke-width="0.7"/>
<line x1="306.09" y1="68.32" x2="310.09" y2="68.32" stroke="#8a8af5" stroke-width="0.7"/>
<line x1="306.09" y1="66.1" x2="310.09" y2="66.1" stroke="#8a8af5" stroke-width="0.7"/>
<circle cx="308.09" cy="67.21" r="2" fill="#5757ee" stroke="none" stroke-width="0"/>
<line x1="319.26" y1="51.66" x2="319.26" y2="42.77" stroke="#8a8af5" stroke-width="0.7"/>
<line x1="317.26" y1="51.66" x2="321.26" y2="51.66" stroke="#8a8af5" stroke-width="0.7"/>
<line x1="317.26" y1="42.77" x2="321.26" y2="42.77" stroke="#8a8af5" stroke-width="0.7"/>
<circle cx="319.26" cy="47.22" r="2" fill="#5757ee" stroke="none" stroke-width="0"/>
<line x1="330.43" y1="55.55" x2="330.43" y2="51.1" stroke="#8a8af5" stroke-width="0.7"/>
<line x1="328.43" y1="55.55" x2="332.43" y2="55.55" stroke="#8a8af5" stroke-width="0.7"/>
<line x1="328.43" y1="51.1" x2="332.43" y2="51.1" stroke="#8a8af5" stroke-width="0.7"/>
<circle cx="330.43" cy="53.33" r="2" fill="#5757ee" stroke="none" stroke-width="0"/>
<line x1="377.8" y1="25" x2="377.8" y2="158.8" stroke="#000" stroke-width="1.1"/>
<line x1="375.3" y1="158.3" x2="511.4" y2="158.3" stroke="#000" stroke-width="1.1"/>
<line x1="374.8" y1="158.3" x2="377.8" y2="158.3" stroke="#000" stroke-width="1"/>
<text x="374.9" y="161.2" font-size="6.9" font-weight="bold" text-anchor="end" fill="#000">0</text>
<line x1="374.8" y1="131.64" x2="377.8" y2="131.64" stroke="#000" stroke-width="1"/>
<text x="374.9" y="134.54" font-size="6.9" font-weight="bold" text-anchor="end" fill="#000">20</text>
<line x1="374.8" y1="104.98" x2="377.8" y2="104.98" stroke="#000" stroke-width="1"/>
<text x="374.9" y="107.88" font-size="6.9" font-weight="bold" text-anchor="end" fill="#000">40</text>
<line x1="374.8" y1="78.32" x2="377.8" y2="78.32" stroke="#000" stroke-width="1"/>
<text x="374.9" y="81.22" font-size="6.9" font-weight="bold" text-anchor="end" fill="#000">60</text>
<line x1="374.8" y1="51.66" x2="377.8" y2="51.66" stroke="#000" stroke-width="1"/>
<text x="374.9" y="54.56" font-size="6.9" font-weight="bold" text-anchor="end" fill="#000">80</text>
<line x1="374.8" y1="25" x2="377.8" y2="25" stroke="#000" stroke-width="1"/>
<text x="374.9" y="27.9" font-size="6.9" font-weight="bold" text-anchor="end" fill="#000">100</text>
<line x1="399.5" y1="158.3" x2="399.5" y2="161.3" stroke="#000" stroke-width="1"/>
<text x="399.8" y="168.6" font-size="6.9" font-weight="bold" text-anchor="middle">10<tspan font-size="5.0" dy="-2.7" font-weight="normal">-4</tspan></text>
<line x1="421.84" y1="158.3" x2="421.84" y2="161.3" stroke="#000" stroke-width="1"/>
<text x="422.14" y="168.6" font-size="6.9" font-weight="bold" text-anchor="middle">10<tspan font-size="5.0" dy="-2.7" font-weight="normal">-2</tspan></text>
<line x1="444.18" y1="158.3" x2="444.18" y2="161.3" stroke="#000" stroke-width="1"/>
<text x="444.48" y="168.6" font-size="6.9" font-weight="bold" text-anchor="middle">10<tspan font-size="5.0" dy="-2.7" font-weight="normal">0</tspan></text>
<line x1="466.52" y1="158.3" x2="466.52" y2="161.3" stroke="#000" stroke-width="1"/>
<text x="466.82" y="168.6" font-size="6.9" font-weight="bold" text-anchor="middle">10<tspan font-size="5.0" dy="-2.7" font-weight="normal">2</tspan></text>
<line x1="488.86" y1="158.3" x2="488.86" y2="161.3" stroke="#000" stroke-width="1"/>
<text x="489.16" y="168.6" font-size="6.9" font-weight="bold" text-anchor="middle">10<tspan font-size="5.0" dy="-2.7" font-weight="normal">4</tspan></text>
<line x1="511.2" y1="158.3" x2="511.2" y2="161.3" stroke="#000" stroke-width="1"/>
<text x="511.5" y="168.6" font-size="6.9" font-weight="bold" text-anchor="middle">10<tspan font-size="5.0" dy="-2.7" font-weight="normal">6</tspan></text>
<text x="387.5" y="168.6" font-size="6.9" font-weight="bold" text-anchor="middle" fill="#000">ctrl</text>
<text x="444.6" y="177.5" font-size="7" font-weight="bold" text-anchor="middle" fill="#000">Antibody concentration (pM)</text>
<text x="358.3" y="91" font-size="7" font-weight="bold" text-anchor="middle" fill="#000" transform="rotate(-90 358.3 91)">Specific lysis (%)</text>
<text x="444.6" y="20.2" font-size="8.3" font-weight="bold" text-anchor="middle" fill="#000">SKM-1</text>
<path d="M398.4,148.92 L399.66,148.91 L400.91,148.89 L402.17,148.88 L403.43,148.85 L404.69,148.83 L405.94,148.8 L407.2,148.76 L408.46,148.71 L409.72,148.65 L410.97,148.57 L412.23,148.48 L413.49,148.37 L414.75,148.23 L416,148.06 L417.26,147.86 L418.52,147.61 L419.78,147.3 L421.03,146.92 L422.29,146.46 L423.55,145.91 L424.81,145.23 L426.06,144.41 L427.32,143.43 L428.58,142.26 L429.84,140.85 L431.09,139.19 L432.35,137.25 L433.61,134.98 L434.87,132.37 L436.12,129.41 L437.38,126.1 L438.64,122.44 L439.9,118.48 L441.15,114.26 L442.41,109.87 L443.67,105.4 L444.93,100.92 L446.19,96.55 L447.44,92.36 L448.7,88.43 L449.96,84.81 L451.21,81.53 L452.47,78.61 L453.73,76.04 L454.99,73.82 L456.25,71.9 L457.5,70.27 L458.76,68.9 L460.02,67.74 L461.27,66.78 L462.53,65.98 L463.79,65.32 L465.05,64.77 L466.31,64.33 L467.56,63.96 L468.82,63.66 L470.08,63.41 L471.33,63.21 L472.59,63.04 L473.85,62.91 L475.11,62.8 L476.37,62.71 L477.62,62.64 L478.88,62.58 L480.14,62.53 L481.39,62.49 L482.65,62.46 L483.91,62.44 L485.17,62.42 L486.43,62.4 L487.68,62.38 L488.94,62.37 L490.2,62.36 L491.45,62.36 L492.71,62.35 L493.97,62.35 L495.23,62.34 L496.49,62.34 L497.74,62.34 L499,62.33" stroke="#e5157a" stroke-width="1.1" fill="none"/>
<path d="M399.9,151.64 L401.16,151.64 L402.41,151.64 L403.67,151.64 L404.93,151.64 L406.19,151.64 L407.44,151.64 L408.7,151.64 L409.96,151.64 L411.22,151.64 L412.47,151.64 L413.73,151.64 L414.99,151.64 L416.25,151.64 L417.5,151.64 L418.76,151.64 L420.02,151.64 L421.28,151.64 L422.53,151.64 L423.79,151.64 L425.05,151.64 L426.31,151.64 L427.56,151.64 L428.82,151.64 L430.08,151.64 L431.34,151.64 L432.59,151.64 L433.85,151.64 L435.11,151.64 L436.37,151.64 L437.62,151.64 L438.88,151.64 L440.14,151.64 L441.4,151.64 L442.65,151.64 L443.91,151.64 L445.17,151.64 L446.43,151.64 L447.69,151.64 L448.94,151.64 L450.2,151.64 L451.46,151.64 L452.71,151.64 L453.97,151.64 L455.23,151.64 L456.49,151.64 L457.75,151.64 L459,151.64 L460.26,151.64 L461.52,151.64 L462.77,151.64 L464.03,151.64 L465.29,151.64 L466.55,151.64 L467.81,151.64 L469.06,151.64 L470.32,151.64 L471.58,151.64 L472.83,151.64 L474.09,151.64 L475.35,151.64 L476.61,151.64 L477.87,151.64 L479.12,151.64 L480.38,151.64 L481.64,151.64 L482.89,151.64 L484.15,151.64 L485.41,151.64 L486.67,151.64 L487.93,151.64 L489.18,151.64 L490.44,151.64 L491.7,151.64 L492.95,151.64 L494.21,151.64 L495.47,151.64 L496.73,151.64 L497.99,151.64 L499.24,151.64 L500.5,151.64" stroke="#5757ee" stroke-width="1.1" fill="none"/>
<path d="M398.4,151.64 L399.66,151.68 L400.91,151.72 L402.17,151.76 L403.43,151.8 L404.69,151.84 L405.94,151.88 L407.2,151.93 L408.46,151.97 L409.72,152.01 L410.97,152.05 L412.23,152.09 L413.49,152.13 L414.75,152.18 L416,152.22 L417.26,152.26 L418.52,152.3 L419.78,152.34 L421.03,152.38 L422.29,152.43 L423.55,152.47 L424.81,152.51 L426.06,152.55 L427.32,152.59 L428.58,152.63 L429.84,152.68 L431.09,152.72 L432.35,152.76 L433.61,152.8 L434.87,152.84 L436.12,152.88 L437.38,152.93 L438.64,152.97 L439.9,153.01 L441.15,153.05 L442.41,153.09 L443.67,153.13 L444.93,153.18 L446.19,153.22 L447.44,153.26 L448.7,153.3 L449.96,153.34 L451.21,153.38 L452.47,153.43 L453.73,153.47 L454.99,153.51 L456.25,153.55 L457.5,153.59 L458.76,153.63 L460.02,153.68 L461.27,153.72 L462.53,153.76 L463.79,153.8 L465.05,153.84 L466.31,153.88 L467.56,153.93 L468.82,153.97 L470.08,154.01 L471.33,154.05 L472.59,154.09 L473.85,154.13 L475.11,154.18 L476.37,154.22 L477.62,154.26 L478.88,154.3 L480.14,154.34 L481.39,154.38 L482.65,154.43 L483.91,154.47 L485.17,154.51 L486.43,154.55 L487.68,154.59 L488.94,154.63 L490.2,154.68 L491.45,154.72 L492.71,154.76 L493.97,154.8 L495.23,154.84 L496.49,154.88 L497.74,154.93 L499,154.97" stroke="#000" stroke-width="1.1" fill="none"/>
<line x1="388" y1="152.97" x2="388" y2="150.3" stroke="#222" stroke-width="0.7"/>
<line x1="386" y1="152.97" x2="390" y2="152.97" stroke="#222" stroke-width="0.7"/>
<line x1="386" y1="150.3" x2="390" y2="150.3" stroke="#222" stroke-width="0.7"/>
<path d="M386.2,149.84 L389.8,153.44 M386.2,153.44 L389.8,149.84" stroke="#000" stroke-width="1.2" fill="none"/>
<circle cx="398.4" cy="152.3" r="2" fill="#000" stroke="none" stroke-width="0"/>
<line x1="409.57" y1="155.63" x2="409.57" y2="150.3" stroke="#333" stroke-width="0.7"/>
<line x1="407.57" y1="155.63" x2="411.57" y2="155.63" stroke="#333" stroke-width="0.7"/>
<line x1="407.57" y1="150.3" x2="411.57" y2="150.3" stroke="#333" stroke-width="0.7"/>
<circle cx="409.57" cy="152.97" r="2" fill="#000" stroke="none" stroke-width="0"/>
<line x1="420.74" y1="156.97" x2="420.74" y2="151.64" stroke="#333" stroke-width="0.7"/>
<line x1="418.74" y1="156.97" x2="422.74" y2="156.97" stroke="#333" stroke-width="0.7"/>
<line x1="418.74" y1="151.64" x2="422.74" y2="151.64" stroke="#333" stroke-width="0.7"/>
<circle cx="420.74" cy="154.3" r="2" fill="#000" stroke="none" stroke-width="0"/>
<circle cx="431.91" cy="153.23" r="2" fill="#000" stroke="none" stroke-width="0"/>
<line x1="443.08" y1="154.57" x2="443.08" y2="151.9" stroke="#333" stroke-width="0.7"/>
<line x1="441.08" y1="154.57" x2="445.08" y2="154.57" stroke="#333" stroke-width="0.7"/>
<line x1="441.08" y1="151.9" x2="445.08" y2="151.9" stroke="#333" stroke-width="0.7"/>
<circle cx="443.08" cy="153.23" r="2" fill="#000" stroke="none" stroke-width="0"/>
<circle cx="454.25" cy="154.3" r="2" fill="#000" stroke="none" stroke-width="0"/>
<line x1="465.42" y1="156.3" x2="465.42" y2="150.97" stroke="#333" stroke-width="0.7"/>
<line x1="463.42" y1="156.3" x2="467.42" y2="156.3" stroke="#333" stroke-width="0.7"/>
<line x1="463.42" y1="150.97" x2="467.42" y2="150.97" stroke="#333" stroke-width="0.7"/>
<circle cx="465.42" cy="153.63" r="2" fill="#000" stroke="none" stroke-width="0"/>
<line x1="476.59" y1="156.97" x2="476.59" y2="154.3" stroke="#333" stroke-width="0.7"/>
<line x1="474.59" y1="156.97" x2="478.59" y2="156.97" stroke="#333" stroke-width="0.7"/>
<line x1="474.59" y1="154.3" x2="478.59" y2="154.3" stroke="#333" stroke-width="0.7"/>
<circle cx="476.59" cy="155.63" r="2" fill="#000" stroke="none" stroke-width="0"/>
<line x1="487.76" y1="157.63" x2="487.76" y2="154.97" stroke="#333" stroke-width="0.7"/>
<line x1="485.76" y1="157.63" x2="489.76" y2="157.63" stroke="#333" stroke-width="0.7"/>
<line x1="485.76" y1="154.97" x2="489.76" y2="154.97" stroke="#333" stroke-width="0.7"/>
<circle cx="487.76" cy="156.3" r="2" fill="#000" stroke="none" stroke-width="0"/>
<circle cx="498.93" cy="154.97" r="2" fill="#000" stroke="none" stroke-width="0"/>
<circle cx="398.4" cy="149.24" r="2" fill="#e5157a" stroke="none" stroke-width="0"/>
<circle cx="409.57" cy="146.84" r="2" fill="#e5157a" stroke="none" stroke-width="0"/>
<line x1="420.74" y1="149.9" x2="420.74" y2="147.24" stroke="#ec3b8c" stroke-width="0.7"/>
<line x1="418.74" y1="149.9" x2="422.74" y2="149.9" stroke="#ec3b8c" stroke-width="0.7"/>
<line x1="418.74" y1="147.24" x2="422.74" y2="147.24" stroke="#ec3b8c" stroke-width="0.7"/>
<circle cx="420.74" cy="148.57" r="2" fill="#e5157a" stroke="none" stroke-width="0"/>
<circle cx="431.91" cy="138.31" r="2" fill="#e5157a" stroke="none" stroke-width="0"/>
<line x1="443.08" y1="122.58" x2="443.08" y2="101.25" stroke="#ec3b8c" stroke-width="0.7"/>
<line x1="441.08" y1="122.58" x2="445.08" y2="122.58" stroke="#ec3b8c" stroke-width="0.7"/>
<line x1="441.08" y1="101.25" x2="445.08" y2="101.25" stroke="#ec3b8c" stroke-width="0.7"/>
<circle cx="443.08" cy="111.91" r="2" fill="#e5157a" stroke="none" stroke-width="0"/>
<line x1="454.25" y1="83.65" x2="454.25" y2="70.32" stroke="#ec3b8c" stroke-width="0.7"/>
<line x1="452.25" y1="83.65" x2="456.25" y2="83.65" stroke="#ec3b8c" stroke-width="0.7"/>
<line x1="452.25" y1="70.32" x2="456.25" y2="70.32" stroke="#ec3b8c" stroke-width="0.7"/>
<circle cx="454.25" cy="76.99" r="2" fill="#e5157a" stroke="none" stroke-width="0"/>
<line x1="465.42" y1="63.66" x2="465.42" y2="55.66" stroke="#ec3b8c" stroke-width="0.7"/>
<line x1="463.42" y1="63.66" x2="467.42" y2="63.66" stroke="#ec3b8c" stroke-width="0.7"/>
<line x1="463.42" y1="55.66" x2="467.42" y2="55.66" stroke="#ec3b8c" stroke-width="0.7"/>
<circle cx="465.42" cy="59.66" r="2" fill="#e5157a" stroke="none" stroke-width="0"/>
<circle cx="476.59" cy="60.32" r="2" fill="#e5157a" stroke="none" stroke-width="0"/>
<circle cx="487.76" cy="68.32" r="2" fill="#e5157a" stroke="none" stroke-width="0"/>
<line x1="498.93" y1="74.99" x2="498.93" y2="53.66" stroke="#ec3b8c" stroke-width="0.7"/>
<line x1="496.93" y1="74.99" x2="500.93" y2="74.99" stroke="#ec3b8c" stroke-width="0.7"/>
<line x1="496.93" y1="53.66" x2="500.93" y2="53.66" stroke="#ec3b8c" stroke-width="0.7"/>
<circle cx="498.93" cy="64.32" r="2" fill="#e5157a" stroke="none" stroke-width="0"/>
<circle cx="399.9" cy="150.97" r="2" fill="#5757ee" stroke="none" stroke-width="0"/>
<line x1="411.07" y1="152.97" x2="411.07" y2="150.3" stroke="#8a8af5" stroke-width="0.7"/>
<line x1="409.07" y1="152.97" x2="413.07" y2="152.97" stroke="#8a8af5" stroke-width="0.7"/>
<line x1="409.07" y1="150.3" x2="413.07" y2="150.3" stroke="#8a8af5" stroke-width="0.7"/>
<circle cx="411.07" cy="151.64" r="2" fill="#5757ee" stroke="none" stroke-width="0"/>
<line x1="422.24" y1="153.63" x2="422.24" y2="148.3" stroke="#8a8af5" stroke-width="0.7"/>
<line x1="420.24" y1="153.63" x2="424.24" y2="153.63" stroke="#8a8af5" stroke-width="0.7"/>
<line x1="420.24" y1="148.3" x2="424.24" y2="148.3" stroke="#8a8af5" stroke-width="0.7"/>
<circle cx="422.24" cy="150.97" r="2" fill="#5757ee" stroke="none" stroke-width="0"/>
<line x1="433.41" y1="151.64" x2="433.41" y2="148.97" stroke="#8a8af5" stroke-width="0.7"/>
<line x1="431.41" y1="151.64" x2="435.41" y2="151.64" stroke="#8a8af5" stroke-width="0.7"/>
<line x1="431.41" y1="148.97" x2="435.41" y2="148.97" stroke="#8a8af5" stroke-width="0.7"/>
<circle cx="433.41" cy="150.3" r="2" fill="#5757ee" stroke="none" stroke-width="0"/>
<line x1="444.58" y1="152.97" x2="444.58" y2="150.3" stroke="#8a8af5" stroke-width="0.7"/>
<line x1="442.58" y1="152.97" x2="446.58" y2="152.97" stroke="#8a8af5" stroke-width="0.7"/>
<line x1="442.58" y1="150.3" x2="446.58" y2="150.3" stroke="#8a8af5" stroke-width="0.7"/>
<circle cx="444.58" cy="151.64" r="2" fill="#5757ee" stroke="none" stroke-width="0"/>
<circle cx="455.75" cy="152.3" r="2" fill="#5757ee" stroke="none" stroke-width="0"/>
<line x1="466.92" y1="152.97" x2="466.92" y2="147.64" stroke="#8a8af5" stroke-width="0.7"/>
<line x1="464.92" y1="152.97" x2="468.92" y2="152.97" stroke="#8a8af5" stroke-width="0.7"/>
<line x1="464.92" y1="147.64" x2="468.92" y2="147.64" stroke="#8a8af5" stroke-width="0.7"/>
<circle cx="466.92" cy="150.3" r="2" fill="#5757ee" stroke="none" stroke-width="0"/>
<line x1="478.09" y1="158.3" x2="478.09" y2="155.63" stroke="#8a8af5" stroke-width="0.7"/>
<line x1="476.09" y1="158.3" x2="480.09" y2="158.3" stroke="#8a8af5" stroke-width="0.7"/>
<line x1="476.09" y1="155.63" x2="480.09" y2="155.63" stroke="#8a8af5" stroke-width="0.7"/>
<circle cx="478.09" cy="156.97" r="2" fill="#5757ee" stroke="none" stroke-width="0"/>
<circle cx="489.26" cy="151.64" r="2" fill="#5757ee" stroke="none" stroke-width="0"/>
<circle cx="500.43" cy="150.3" r="2" fill="#5757ee" stroke="none" stroke-width="0"/>
<line x1="546" y1="25" x2="546" y2="158.8" stroke="#000" stroke-width="1.1"/>
<line x1="543.5" y1="158.3" x2="679.6" y2="158.3" stroke="#000" stroke-width="1.1"/>
<line x1="543" y1="158.3" x2="546" y2="158.3" stroke="#000" stroke-width="1"/>
<text x="543.1" y="161.2" font-size="6.9" font-weight="bold" text-anchor="end" fill="#000">-20</text>
<line x1="543" y1="124.98" x2="546" y2="124.98" stroke="#000" stroke-width="1"/>
<text x="543.1" y="127.88" font-size="6.9" font-weight="bold" text-anchor="end" fill="#000">0</text>
<line x1="543" y1="91.65" x2="546" y2="91.65" stroke="#000" stroke-width="1"/>
<text x="543.1" y="94.55" font-size="6.9" font-weight="bold" text-anchor="end" fill="#000">20</text>
<line x1="543" y1="58.33" x2="546" y2="58.33" stroke="#000" stroke-width="1"/>
<text x="543.1" y="61.23" font-size="6.9" font-weight="bold" text-anchor="end" fill="#000">40</text>
<line x1="543" y1="25" x2="546" y2="25" stroke="#000" stroke-width="1"/>
<text x="543.1" y="27.9" font-size="6.9" font-weight="bold" text-anchor="end" fill="#000">60</text>
<line x1="567.7" y1="158.3" x2="567.7" y2="161.3" stroke="#000" stroke-width="1"/>
<text x="568" y="168.6" font-size="6.9" font-weight="bold" text-anchor="middle">10<tspan font-size="5.0" dy="-2.7" font-weight="normal">-4</tspan></text>
<line x1="590" y1="158.3" x2="590" y2="161.3" stroke="#000" stroke-width="1"/>
<text x="590.3" y="168.6" font-size="6.9" font-weight="bold" text-anchor="middle">10<tspan font-size="5.0" dy="-2.7" font-weight="normal">-2</tspan></text>
<line x1="612.3" y1="158.3" x2="612.3" y2="161.3" stroke="#000" stroke-width="1"/>
<text x="612.6" y="168.6" font-size="6.9" font-weight="bold" text-anchor="middle">10<tspan font-size="5.0" dy="-2.7" font-weight="normal">0</tspan></text>
<line x1="634.6" y1="158.3" x2="634.6" y2="161.3" stroke="#000" stroke-width="1"/>
<text x="634.9" y="168.6" font-size="6.9" font-weight="bold" text-anchor="middle">10<tspan font-size="5.0" dy="-2.7" font-weight="normal">2</tspan></text>
<line x1="656.9" y1="158.3" x2="656.9" y2="161.3" stroke="#000" stroke-width="1"/>
<text x="657.2" y="168.6" font-size="6.9" font-weight="bold" text-anchor="middle">10<tspan font-size="5.0" dy="-2.7" font-weight="normal">4</tspan></text>
<line x1="679.2" y1="158.3" x2="679.2" y2="161.3" stroke="#000" stroke-width="1"/>
<text x="679.5" y="168.6" font-size="6.9" font-weight="bold" text-anchor="middle">10<tspan font-size="5.0" dy="-2.7" font-weight="normal">6</tspan></text>
<text x="555.5" y="168.6" font-size="6.9" font-weight="bold" text-anchor="middle" fill="#000">ctrl</text>
<text x="612.8" y="177.5" font-size="7" font-weight="bold" text-anchor="middle" fill="#000">Antibody concentration (pM)</text>
<text x="526.5" y="91" font-size="7" font-weight="bold" text-anchor="middle" fill="#000" transform="rotate(-90 526.5 91)">Specific lysis (%)</text>
<text x="612.8" y="20.2" font-size="8.3" font-weight="bold" text-anchor="middle" fill="#000">OCI-AML3</text>
<path d="M567,141.64 L568.11,141.64 L569.22,141.64 L570.33,141.64 L571.44,141.63 L572.55,141.63 L573.66,141.63 L574.77,141.63 L575.88,141.63 L576.99,141.63 L578.1,141.63 L579.21,141.62 L580.32,141.62 L581.43,141.62 L582.54,141.61 L583.65,141.61 L584.76,141.6 L585.87,141.59 L586.98,141.57 L588.09,141.56 L589.2,141.54 L590.31,141.51 L591.42,141.48 L592.53,141.44 L593.64,141.39 L594.75,141.32 L595.86,141.24 L596.97,141.14 L598.08,141.01 L599.19,140.85 L600.3,140.65 L601.41,140.4 L602.52,140.09 L603.63,139.71 L604.74,139.22 L605.85,138.63 L606.96,137.89 L608.07,136.98 L609.18,135.87 L610.29,134.53 L611.4,132.9 L612.51,130.96 L613.62,128.66 L614.73,125.99 L615.84,122.92 L616.95,119.47 L618.06,115.65 L619.17,111.52 L620.28,107.16 L621.39,102.68 L622.5,98.18 L623.61,93.79 L624.72,89.61 L625.83,85.73 L626.94,82.19 L628.05,79.05 L629.16,76.3 L630.27,73.93 L631.38,71.92 L632.49,70.23 L633.6,68.83 L634.71,67.68 L635.82,66.74 L636.93,65.97 L638.04,65.35 L639.15,64.84 L640.26,64.44 L641.37,64.11 L642.48,63.85 L643.59,63.65 L644.7,63.48 L645.81,63.35 L646.92,63.24 L648.03,63.15 L649.14,63.09 L650.25,63.03 L651.36,62.99 L652.47,62.96 L653.58,62.93 L654.69,62.91 L655.8,62.89" stroke="#e5157a" stroke-width="1.1" fill="none"/>
<path d="M567,150.8 L568.26,150.8 L569.51,150.8 L570.77,150.8 L572.02,150.79 L573.28,150.79 L574.54,150.79 L575.79,150.79 L577.05,150.78 L578.31,150.77 L579.56,150.77 L580.82,150.76 L582.08,150.74 L583.33,150.73 L584.59,150.7 L585.84,150.67 L587.1,150.64 L588.36,150.59 L589.61,150.53 L590.87,150.45 L592.12,150.35 L593.38,150.23 L594.64,150.07 L595.89,149.88 L597.15,149.64 L598.41,149.35 L599.66,149 L600.92,148.6 L602.17,148.14 L603.43,147.62 L604.69,147.07 L605.94,146.48 L607.2,145.89 L608.46,145.31 L609.71,144.76 L610.97,144.25 L612.23,143.79 L613.48,143.39 L614.74,143.06 L615.99,142.77 L617.25,142.54 L618.51,142.35 L619.76,142.2 L621.02,142.08 L622.27,141.98 L623.53,141.9 L624.79,141.84 L626.04,141.8 L627.3,141.76 L628.56,141.73 L629.81,141.71 L631.07,141.7 L632.33,141.68 L633.58,141.67 L634.84,141.66 L636.09,141.66 L637.35,141.65 L638.61,141.65 L639.86,141.65 L641.12,141.64 L642.38,141.64 L643.63,141.64 L644.89,141.64 L646.14,141.64 L647.4,141.64 L648.66,141.64 L649.91,141.64 L651.17,141.64 L652.42,141.64 L653.68,141.64 L654.94,141.64 L656.19,141.64 L657.45,141.64 L658.71,141.64 L659.96,141.64 L661.22,141.64 L662.48,141.64 L663.73,141.64 L664.99,141.64 L666.24,141.64 L667.5,141.64" stroke="#000" stroke-width="1.1" fill="none"/>
<path d="M568.5,150.69 L569.76,150.59 L571.01,150.49 L572.27,150.39 L573.52,150.28 L574.78,150.18 L576.04,150.07 L577.29,149.95 L578.55,149.84 L579.81,149.72 L581.06,149.6 L582.32,149.48 L583.58,149.35 L584.83,149.22 L586.09,149.08 L587.34,148.95 L588.6,148.81 L589.86,148.66 L591.11,148.52 L592.37,148.37 L593.62,148.21 L594.88,148.05 L596.14,147.89 L597.39,147.72 L598.65,147.55 L599.91,147.38 L601.16,147.2 L602.42,147.02 L603.67,146.83 L604.93,146.63 L606.19,146.44 L607.44,146.24 L608.7,146.03 L609.96,145.82 L611.21,145.6 L612.47,145.38 L613.73,145.15 L614.98,144.91 L616.24,144.67 L617.49,144.43 L618.75,144.18 L620.01,143.92 L621.26,143.65 L622.52,143.38 L623.77,143.1 L625.03,142.82 L626.29,142.53 L627.54,142.23 L628.8,141.92 L630.06,141.61 L631.31,141.29 L632.57,140.96 L633.83,140.62 L635.08,140.28 L636.34,139.92 L637.59,139.56 L638.85,139.19 L640.11,138.81 L641.36,138.42 L642.62,138.02 L643.88,137.61 L645.13,137.19 L646.39,136.76 L647.64,136.31 L648.9,135.86 L650.16,135.4 L651.41,134.93 L652.67,134.44 L653.92,133.94 L655.18,133.43 L656.44,132.91 L657.69,132.37 L658.95,131.82 L660.21,131.26 L661.46,130.68 L662.72,130.09 L663.98,129.49 L665.23,128.87 L666.49,128.23 L667.74,127.58 L669,126.91" stroke="#5757ee" stroke-width="1.1" fill="none"/>
<line x1="556" y1="130.81" x2="556" y2="127.47" stroke="#222" stroke-width="0.7"/>
<line x1="554" y1="130.81" x2="558" y2="130.81" stroke="#222" stroke-width="0.7"/>
<line x1="554" y1="127.47" x2="558" y2="127.47" stroke="#222" stroke-width="0.7"/>
<path d="M554.2,127.34 L557.8,130.94 M554.2,130.94 L557.8,127.34" stroke="#000" stroke-width="1.2" fill="none"/>
<circle cx="567" cy="152.63" r="2" fill="#000" stroke="none" stroke-width="0"/>
<line x1="578.17" y1="148.3" x2="578.17" y2="144.97" stroke="#333" stroke-width="0.7"/>
<line x1="576.17" y1="148.3" x2="580.17" y2="148.3" stroke="#333" stroke-width="0.7"/>
<line x1="576.17" y1="144.97" x2="580.17" y2="144.97" stroke="#333" stroke-width="0.7"/>
<circle cx="578.17" cy="146.64" r="2" fill="#000" stroke="none" stroke-width="0"/>
<circle cx="589.34" cy="151.47" r="2" fill="#000" stroke="none" stroke-width="0"/>
<line x1="600.51" y1="151.64" x2="600.51" y2="144.97" stroke="#333" stroke-width="0.7"/>
<line x1="598.51" y1="151.64" x2="602.51" y2="151.64" stroke="#333" stroke-width="0.7"/>
<line x1="598.51" y1="144.97" x2="602.51" y2="144.97" stroke="#333" stroke-width="0.7"/>
<circle cx="600.51" cy="148.3" r="2" fill="#000" stroke="none" stroke-width="0"/>
<line x1="611.68" y1="154.97" x2="611.68" y2="131.64" stroke="#333" stroke-width="0.7"/>
<line x1="609.68" y1="154.97" x2="613.68" y2="154.97" stroke="#333" stroke-width="0.7"/>
<line x1="609.68" y1="131.64" x2="613.68" y2="131.64" stroke="#333" stroke-width="0.7"/>
<circle cx="611.68" cy="143.3" r="2" fill="#000" stroke="none" stroke-width="0"/>
<line x1="622.85" y1="150.64" x2="622.85" y2="127.31" stroke="#333" stroke-width="0.7"/>
<line x1="620.85" y1="150.64" x2="624.85" y2="150.64" stroke="#333" stroke-width="0.7"/>
<line x1="620.85" y1="127.31" x2="624.85" y2="127.31" stroke="#333" stroke-width="0.7"/>
<circle cx="622.85" cy="138.97" r="2" fill="#000" stroke="none" stroke-width="0"/>
<line x1="634.02" y1="148.3" x2="634.02" y2="131.64" stroke="#333" stroke-width="0.7"/>
<line x1="632.02" y1="148.3" x2="636.02" y2="148.3" stroke="#333" stroke-width="0.7"/>
<line x1="632.02" y1="131.64" x2="636.02" y2="131.64" stroke="#333" stroke-width="0.7"/>
<circle cx="634.02" cy="139.97" r="2" fill="#000" stroke="none" stroke-width="0"/>
<circle cx="645.19" cy="142.14" r="2" fill="#000" stroke="none" stroke-width="0"/>
<circle cx="656.36" cy="144.97" r="2" fill="#000" stroke="none" stroke-width="0"/>
<circle cx="667.53" cy="142.47" r="2" fill="#000" stroke="none" stroke-width="0"/>
<line x1="567" y1="142.8" x2="567" y2="139.47" stroke="#ec3b8c" stroke-width="0.7"/>
<line x1="565" y1="142.8" x2="569" y2="142.8" stroke="#ec3b8c" stroke-width="0.7"/>
<line x1="565" y1="139.47" x2="569" y2="139.47" stroke="#ec3b8c" stroke-width="0.7"/>
<circle cx="567" cy="141.14" r="2" fill="#e5157a" stroke="none" stroke-width="0"/>
<line x1="578.17" y1="147.3" x2="578.17" y2="143.97" stroke="#ec3b8c" stroke-width="0.7"/>
<line x1="576.17" y1="147.3" x2="580.17" y2="147.3" stroke="#ec3b8c" stroke-width="0.7"/>
<line x1="576.17" y1="143.97" x2="580.17" y2="143.97" stroke="#ec3b8c" stroke-width="0.7"/>
<circle cx="578.17" cy="145.64" r="2" fill="#e5157a" stroke="none" stroke-width="0"/>
<line x1="589.34" y1="148.64" x2="589.34" y2="133.64" stroke="#ec3b8c" stroke-width="0.7"/>
<line x1="587.34" y1="148.64" x2="591.34" y2="148.64" stroke="#ec3b8c" stroke-width="0.7"/>
<line x1="587.34" y1="133.64" x2="591.34" y2="133.64" stroke="#ec3b8c" stroke-width="0.7"/>
<circle cx="589.34" cy="141.14" r="2" fill="#e5157a" stroke="none" stroke-width="0"/>
<line x1="600.51" y1="144.8" x2="600.51" y2="133.14" stroke="#ec3b8c" stroke-width="0.7"/>
<line x1="598.51" y1="144.8" x2="602.51" y2="144.8" stroke="#ec3b8c" stroke-width="0.7"/>
<line x1="598.51" y1="133.14" x2="602.51" y2="133.14" stroke="#ec3b8c" stroke-width="0.7"/>
<circle cx="600.51" cy="138.97" r="2" fill="#e5157a" stroke="none" stroke-width="0"/>
<line x1="611.68" y1="135.81" x2="611.68" y2="129.14" stroke="#ec3b8c" stroke-width="0.7"/>
<line x1="609.68" y1="135.81" x2="613.68" y2="135.81" stroke="#ec3b8c" stroke-width="0.7"/>
<line x1="609.68" y1="129.14" x2="613.68" y2="129.14" stroke="#ec3b8c" stroke-width="0.7"/>
<circle cx="611.68" cy="132.47" r="2" fill="#e5157a" stroke="none" stroke-width="0"/>
<circle cx="622.85" cy="104.98" r="2" fill="#e5157a" stroke="none" stroke-width="0"/>
<line x1="634.02" y1="74.32" x2="634.02" y2="70.99" stroke="#ec3b8c" stroke-width="0.7"/>
<line x1="632.02" y1="74.32" x2="636.02" y2="74.32" stroke="#ec3b8c" stroke-width="0.7"/>
<line x1="632.02" y1="70.99" x2="636.02" y2="70.99" stroke="#ec3b8c" stroke-width="0.7"/>
<circle cx="634.02" cy="72.65" r="2" fill="#e5157a" stroke="none" stroke-width="0"/>
<circle cx="645.19" cy="54.49" r="2" fill="#e5157a" stroke="none" stroke-width="0"/>
<line x1="656.36" y1="73.15" x2="656.36" y2="68.16" stroke="#ec3b8c" stroke-width="0.7"/>
<line x1="654.36" y1="73.15" x2="658.36" y2="73.15" stroke="#ec3b8c" stroke-width="0.7"/>
<line x1="654.36" y1="68.16" x2="658.36" y2="68.16" stroke="#ec3b8c" stroke-width="0.7"/>
<circle cx="656.36" cy="70.66" r="2" fill="#e5157a" stroke="none" stroke-width="0"/>
<line x1="568.5" y1="156.3" x2="568.5" y2="152.97" stroke="#8a8af5" stroke-width="0.7"/>
<line x1="566.5" y1="156.3" x2="570.5" y2="156.3" stroke="#8a8af5" stroke-width="0.7"/>
<line x1="566.5" y1="152.97" x2="570.5" y2="152.97" stroke="#8a8af5" stroke-width="0.7"/>
<circle cx="568.5" cy="154.63" r="2" fill="#5757ee" stroke="none" stroke-width="0"/>
<line x1="579.67" y1="151.64" x2="579.67" y2="148.3" stroke="#8a8af5" stroke-width="0.7"/>
<line x1="577.67" y1="151.64" x2="581.67" y2="151.64" stroke="#8a8af5" stroke-width="0.7"/>
<line x1="577.67" y1="148.3" x2="581.67" y2="148.3" stroke="#8a8af5" stroke-width="0.7"/>
<circle cx="579.67" cy="149.97" r="2" fill="#5757ee" stroke="none" stroke-width="0"/>
<line x1="590.84" y1="148.3" x2="590.84" y2="144.97" stroke="#8a8af5" stroke-width="0.7"/>
<line x1="588.84" y1="148.3" x2="592.84" y2="148.3" stroke="#8a8af5" stroke-width="0.7"/>
<line x1="588.84" y1="144.97" x2="592.84" y2="144.97" stroke="#8a8af5" stroke-width="0.7"/>
<circle cx="590.84" cy="146.64" r="2" fill="#5757ee" stroke="none" stroke-width="0"/>
<line x1="602.01" y1="148.3" x2="602.01" y2="141.64" stroke="#8a8af5" stroke-width="0.7"/>
<line x1="600.01" y1="148.3" x2="604.01" y2="148.3" stroke="#8a8af5" stroke-width="0.7"/>
<line x1="600.01" y1="141.64" x2="604.01" y2="141.64" stroke="#8a8af5" stroke-width="0.7"/>
<circle cx="602.01" cy="144.97" r="2" fill="#5757ee" stroke="none" stroke-width="0"/>
<line x1="613.18" y1="148.3" x2="613.18" y2="144.97" stroke="#8a8af5" stroke-width="0.7"/>
<line x1="611.18" y1="148.3" x2="615.18" y2="148.3" stroke="#8a8af5" stroke-width="0.7"/>
<line x1="611.18" y1="144.97" x2="615.18" y2="144.97" stroke="#8a8af5" stroke-width="0.7"/>
<circle cx="613.18" cy="146.64" r="2" fill="#5757ee" stroke="none" stroke-width="0"/>
<line x1="624.35" y1="141.64" x2="624.35" y2="138.31" stroke="#8a8af5" stroke-width="0.7"/>
<line x1="622.35" y1="141.64" x2="626.35" y2="141.64" stroke="#8a8af5" stroke-width="0.7"/>
<line x1="622.35" y1="138.31" x2="626.35" y2="138.31" stroke="#8a8af5" stroke-width="0.7"/>
<circle cx="624.35" cy="139.97" r="2" fill="#5757ee" stroke="none" stroke-width="0"/>
<line x1="635.52" y1="139.14" x2="635.52" y2="135.81" stroke="#8a8af5" stroke-width="0.7"/>
<line x1="633.52" y1="139.14" x2="637.52" y2="139.14" stroke="#8a8af5" stroke-width="0.7"/>
<line x1="633.52" y1="135.81" x2="637.52" y2="135.81" stroke="#8a8af5" stroke-width="0.7"/>
<circle cx="635.52" cy="137.47" r="2" fill="#5757ee" stroke="none" stroke-width="0"/>
<line x1="646.69" y1="147.64" x2="646.69" y2="137.64" stroke="#8a8af5" stroke-width="0.7"/>
<line x1="644.69" y1="147.64" x2="648.69" y2="147.64" stroke="#8a8af5" stroke-width="0.7"/>
<line x1="644.69" y1="137.64" x2="648.69" y2="137.64" stroke="#8a8af5" stroke-width="0.7"/>
<circle cx="646.69" cy="142.64" r="2" fill="#5757ee" stroke="none" stroke-width="0"/>
<line x1="657.86" y1="140.8" x2="657.86" y2="135.81" stroke="#8a8af5" stroke-width="0.7"/>
<line x1="655.86" y1="140.8" x2="659.86" y2="140.8" stroke="#8a8af5" stroke-width="0.7"/>
<line x1="655.86" y1="135.81" x2="659.86" y2="135.81" stroke="#8a8af5" stroke-width="0.7"/>
<circle cx="657.86" cy="138.31" r="2" fill="#5757ee" stroke="none" stroke-width="0"/>
<line x1="669.03" y1="127.97" x2="669.03" y2="117.98" stroke="#8a8af5" stroke-width="0.7"/>
<line x1="667.03" y1="127.97" x2="671.03" y2="127.97" stroke="#8a8af5" stroke-width="0.7"/>
<line x1="667.03" y1="117.98" x2="671.03" y2="117.98" stroke="#8a8af5" stroke-width="0.7"/>
<circle cx="669.03" cy="122.98" r="2" fill="#5757ee" stroke="none" stroke-width="0"/>
<line x1="185.2" y1="193.7" x2="197" y2="193.7" stroke="#e5157a" stroke-width="1.1"/>
<circle cx="191.1" cy="193.7" r="2" fill="#e5157a" stroke="none" stroke-width="0"/>
<text x="203.6" y="197" font-size="8.7" font-weight="bold" text-anchor="start" fill="#000">AFM28</text>
<line x1="245.9" y1="193.7" x2="257.3" y2="193.7" stroke="#5757ee" stroke-width="1.1"/>
<circle cx="251.6" cy="193.7" r="2" fill="#5757ee" stroke="none" stroke-width="0"/>
<text x="263.6" y="197" font-size="8.7" font-weight="bold" text-anchor="start" fill="#000">Fc-enhanced anti-CD123 IgG1</text>
<line x1="403.3" y1="193.7" x2="413.6" y2="193.7" stroke="#000" stroke-width="1.1"/>
<circle cx="408.45" cy="193.7" r="2" fill="#000" stroke="none" stroke-width="0"/>
<text x="421" y="197" font-size="8.7" font-weight="bold" text-anchor="start" fill="#000">RSV/CD16A</text>
<path d="M489.5,191.2 L494.5,196.2 M489.5,196.2 L494.5,191.2" stroke="#000" stroke-width="1.2" fill="none"/>
<text x="504.6" y="197" font-size="8.7" font-weight="bold" text-anchor="start" fill="#000">w/o antibody</text>
<rect x="70" y="308.95" width="4.2" height="58.35" fill="#7f7f7f" stroke="none" stroke-width="0"/>
<line x1="72.1" y1="282.52" x2="72.1" y2="308.95" stroke="#444" stroke-width="0.6"/>
<line x1="70.9" y1="282.52" x2="73.3" y2="282.52" stroke="#444" stroke-width="0.6"/>
<circle cx="72.1" cy="283.07" r="1.45" fill="#000" stroke="none" stroke-width="0"/>
<circle cx="72.1" cy="295.74" r="1.45" fill="#000" stroke="none" stroke-width="0"/>
<circle cx="72.1" cy="312.25" r="1.45" fill="#000" stroke="none" stroke-width="0"/>
<circle cx="72.1" cy="345.28" r="1.45" fill="#000" stroke="none" stroke-width="0"/>
<rect x="75.5" y="316.1" width="4.2" height="51.2" fill="#f76aae" stroke="none" stroke-width="0"/>
<line x1="77.6" y1="311.15" x2="77.6" y2="316.1" stroke="#f76aae" stroke-width="0.6"/>
<line x1="76.4" y1="311.15" x2="78.8" y2="311.15" stroke="#f76aae" stroke-width="0.6"/>
<circle cx="77.6" cy="311.15" r="1.45" fill="#e8097a" stroke="none" stroke-width="0"/>
<circle cx="77.6" cy="316.65" r="1.45" fill="#e8097a" stroke="none" stroke-width="0"/>
<circle cx="77.6" cy="318.86" r="1.45" fill="#e8097a" stroke="none" stroke-width="0"/>
<rect x="81" y="334.82" width="4.2" height="32.48" fill="#8f8ff7" stroke="none" stroke-width="0"/>
<line x1="83.1" y1="328.76" x2="83.1" y2="334.82" stroke="#8f8ff7" stroke-width="0.6"/>
<line x1="81.9" y1="328.76" x2="84.3" y2="328.76" stroke="#8f8ff7" stroke-width="0.6"/>
<circle cx="83.1" cy="328.76" r="1.45" fill="#4a4af2" stroke="none" stroke-width="0"/>
<circle cx="83.1" cy="334.27" r="1.45" fill="#4a4af2" stroke="none" stroke-width="0"/>
<circle cx="83.1" cy="335.92" r="1.45" fill="#4a4af2" stroke="none" stroke-width="0"/>
<line x1="77.6" y1="367.3" x2="77.6" y2="370.8" stroke="#000" stroke-width="1"/>
<text x="79.4" y="380.5" font-size="8.2" font-weight="bold" text-anchor="end" fill="#000" transform="rotate(-45 79.4 380.5)">MOLM-13</text>
<rect x="90.27" y="316.1" width="4.2" height="51.2" fill="#7f7f7f" stroke="none" stroke-width="0"/>
<line x1="92.37" y1="309.5" x2="92.37" y2="316.1" stroke="#444" stroke-width="0.6"/>
<line x1="91.17" y1="309.5" x2="93.57" y2="309.5" stroke="#444" stroke-width="0.6"/>
<circle cx="92.37" cy="309.5" r="1.45" fill="#000" stroke="none" stroke-width="0"/>
<circle cx="92.37" cy="315" r="1.45" fill="#000" stroke="none" stroke-width="0"/>
<circle cx="92.37" cy="318.86" r="1.45" fill="#000" stroke="none" stroke-width="0"/>
<rect x="95.77" y="316.1" width="4.2" height="51.2" fill="#f76aae" stroke="none" stroke-width="0"/>
<line x1="97.87" y1="291.33" x2="97.87" y2="316.1" stroke="#f76aae" stroke-width="0.6"/>
<line x1="96.67" y1="291.33" x2="99.07" y2="291.33" stroke="#f76aae" stroke-width="0.6"/>
<circle cx="97.87" cy="291.33" r="1.45" fill="#e8097a" stroke="none" stroke-width="0"/>
<circle cx="97.87" cy="339.77" r="1.45" fill="#e8097a" stroke="none" stroke-width="0"/>
<rect x="101.27" y="319.41" width="4.2" height="47.89" fill="#8f8ff7" stroke="none" stroke-width="0"/>
<line x1="103.37" y1="311.15" x2="103.37" y2="319.41" stroke="#8f8ff7" stroke-width="0.6"/>
<line x1="102.17" y1="311.15" x2="104.57" y2="311.15" stroke="#8f8ff7" stroke-width="0.6"/>
<circle cx="103.37" cy="311.15" r="1.45" fill="#4a4af2" stroke="none" stroke-width="0"/>
<circle cx="103.37" cy="323.26" r="1.45" fill="#4a4af2" stroke="none" stroke-width="0"/>
<line x1="97.87" y1="367.3" x2="97.87" y2="370.8" stroke="#000" stroke-width="1"/>
<text x="99.67" y="380.5" font-size="8.2" font-weight="bold" text-anchor="end" fill="#000" transform="rotate(-45 99.67 380.5)">HNT-34</text>
<rect x="110.54" y="312.25" width="4.2" height="55.05" fill="#7f7f7f" stroke="none" stroke-width="0"/>
<line x1="112.64" y1="303.99" x2="112.64" y2="312.25" stroke="#444" stroke-width="0.6"/>
<line x1="111.44" y1="303.99" x2="113.84" y2="303.99" stroke="#444" stroke-width="0.6"/>
<circle cx="112.64" cy="307.3" r="1.45" fill="#000" stroke="none" stroke-width="0"/>
<circle cx="112.64" cy="308.4" r="1.45" fill="#000" stroke="none" stroke-width="0"/>
<circle cx="112.64" cy="315.55" r="1.45" fill="#000" stroke="none" stroke-width="0"/>
<rect x="116.04" y="337.57" width="4.2" height="29.73" fill="#f76aae" stroke="none" stroke-width="0"/>
<line x1="118.14" y1="333.17" x2="118.14" y2="337.57" stroke="#f76aae" stroke-width="0.6"/>
<line x1="116.94" y1="333.17" x2="119.34" y2="333.17" stroke="#f76aae" stroke-width="0.6"/>
<circle cx="118.14" cy="332.62" r="1.45" fill="#e8097a" stroke="none" stroke-width="0"/>
<circle cx="118.14" cy="335.37" r="1.45" fill="#e8097a" stroke="none" stroke-width="0"/>
<circle cx="118.14" cy="341.43" r="1.45" fill="#e8097a" stroke="none" stroke-width="0"/>
<rect x="121.54" y="343.08" width="4.2" height="24.22" fill="#8f8ff7" stroke="none" stroke-width="0"/>
<circle cx="123.64" cy="343.08" r="1.45" fill="#4a4af2" stroke="none" stroke-width="0"/>
<circle cx="123.64" cy="345.28" r="1.45" fill="#4a4af2" stroke="none" stroke-width="0"/>
<circle cx="123.64" cy="348.03" r="1.45" fill="#4a4af2" stroke="none" stroke-width="0"/>
<line x1="118.14" y1="367.3" x2="118.14" y2="370.8" stroke="#000" stroke-width="1"/>
<text x="119.94" y="380.5" font-size="8.2" font-weight="bold" text-anchor="end" fill="#000" transform="rotate(-45 119.94 380.5)">KG-1</text>
<rect x="130.81" y="325.46" width="4.2" height="41.84" fill="#7f7f7f" stroke="none" stroke-width="0"/>
<line x1="132.91" y1="317.75" x2="132.91" y2="325.46" stroke="#444" stroke-width="0.6"/>
<line x1="131.71" y1="317.75" x2="134.11" y2="317.75" stroke="#444" stroke-width="0.6"/>
<circle cx="132.91" cy="316.1" r="1.45" fill="#000" stroke="none" stroke-width="0"/>
<circle cx="132.91" cy="320.51" r="1.45" fill="#000" stroke="none" stroke-width="0"/>
<circle cx="132.91" cy="326.01" r="1.45" fill="#000" stroke="none" stroke-width="0"/>
<circle cx="132.91" cy="329.32" r="1.45" fill="#000" stroke="none" stroke-width="0"/>
<circle cx="132.91" cy="334.27" r="1.45" fill="#000" stroke="none" stroke-width="0"/>
<rect x="136.31" y="321.61" width="4.2" height="45.69" fill="#f76aae" stroke="none" stroke-width="0"/>
<line x1="138.41" y1="319.96" x2="138.41" y2="321.61" stroke="#f76aae" stroke-width="0.6"/>
<line x1="137.21" y1="319.96" x2="139.61" y2="319.96" stroke="#f76aae" stroke-width="0.6"/>
<circle cx="138.41" cy="319.41" r="1.45" fill="#e8097a" stroke="none" stroke-width="0"/>
<circle cx="138.41" cy="321.61" r="1.45" fill="#e8097a" stroke="none" stroke-width="0"/>
<circle cx="138.41" cy="323.26" r="1.45" fill="#e8097a" stroke="none" stroke-width="0"/>
<rect x="141.81" y="351.34" width="4.2" height="15.96" fill="#8f8ff7" stroke="none" stroke-width="0"/>
<line x1="143.91" y1="343.08" x2="143.91" y2="351.34" stroke="#8f8ff7" stroke-width="0.6"/>
<line x1="142.71" y1="343.08" x2="145.11" y2="343.08" stroke="#8f8ff7" stroke-width="0.6"/>
<circle cx="143.91" cy="343.63" r="1.45" fill="#4a4af2" stroke="none" stroke-width="0"/>
<circle cx="143.91" cy="351.34" r="1.45" fill="#4a4af2" stroke="none" stroke-width="0"/>
<circle cx="143.91" cy="356.29" r="1.45" fill="#4a4af2" stroke="none" stroke-width="0"/>
<line x1="138.41" y1="367.3" x2="138.41" y2="370.8" stroke="#000" stroke-width="1"/>
<text x="140.21" y="380.5" font-size="8.2" font-weight="bold" text-anchor="end" fill="#000" transform="rotate(-45 140.21 380.5)">EOL-1</text>
<rect x="151.08" y="334.27" width="4.2" height="33.03" fill="#7f7f7f" stroke="none" stroke-width="0"/>
<line x1="153.18" y1="316.1" x2="153.18" y2="334.27" stroke="#444" stroke-width="0.6"/>
<line x1="151.98" y1="316.1" x2="154.38" y2="316.1" stroke="#444" stroke-width="0.6"/>
<circle cx="153.18" cy="310.6" r="1.45" fill="#000" stroke="none" stroke-width="0"/>
<circle cx="153.18" cy="326.01" r="1.45" fill="#000" stroke="none" stroke-width="0"/>
<circle cx="153.18" cy="339.77" r="1.45" fill="#000" stroke="none" stroke-width="0"/>
<circle cx="153.18" cy="343.63" r="1.45" fill="#000" stroke="none" stroke-width="0"/>
<rect x="156.58" y="333.17" width="4.2" height="34.13" fill="#f76aae" stroke="none" stroke-width="0"/>
<line x1="158.68" y1="327.66" x2="158.68" y2="333.17" stroke="#f76aae" stroke-width="0.6"/>
<line x1="157.48" y1="327.66" x2="159.88" y2="327.66" stroke="#f76aae" stroke-width="0.6"/>
<circle cx="158.68" cy="326.01" r="1.45" fill="#e8097a" stroke="none" stroke-width="0"/>
<circle cx="158.68" cy="331.52" r="1.45" fill="#e8097a" stroke="none" stroke-width="0"/>
<circle cx="158.68" cy="334.27" r="1.45" fill="#e8097a" stroke="none" stroke-width="0"/>
<rect x="162.08" y="340.33" width="4.2" height="26.97" fill="#8f8ff7" stroke="none" stroke-width="0"/>
<line x1="164.18" y1="322.16" x2="164.18" y2="340.33" stroke="#8f8ff7" stroke-width="0.6"/>
<line x1="162.98" y1="322.16" x2="165.38" y2="322.16" stroke="#8f8ff7" stroke-width="0.6"/>
<circle cx="164.18" cy="322.16" r="1.45" fill="#4a4af2" stroke="none" stroke-width="0"/>
<circle cx="164.18" cy="329.87" r="1.45" fill="#4a4af2" stroke="none" stroke-width="0"/>
<circle cx="164.18" cy="366.2" r="1.45" fill="#4a4af2" stroke="none" stroke-width="0"/>
<line x1="158.68" y1="367.3" x2="158.68" y2="370.8" stroke="#000" stroke-width="1"/>
<text x="160.48" y="380.5" font-size="8.2" font-weight="bold" text-anchor="end" fill="#000" transform="rotate(-45 160.48 380.5)">TF-1</text>
<rect x="171.35" y="338.67" width="4.2" height="28.63" fill="#7f7f7f" stroke="none" stroke-width="0"/>
<line x1="173.45" y1="336.47" x2="173.45" y2="338.67" stroke="#444" stroke-width="0.6"/>
<line x1="172.25" y1="336.47" x2="174.65" y2="336.47" stroke="#444" stroke-width="0.6"/>
<circle cx="173.45" cy="337.02" r="1.45" fill="#000" stroke="none" stroke-width="0"/>
<circle cx="173.45" cy="338.67" r="1.45" fill="#000" stroke="none" stroke-width="0"/>
<circle cx="173.45" cy="339.77" r="1.45" fill="#000" stroke="none" stroke-width="0"/>
<rect x="176.85" y="346.38" width="4.2" height="20.92" fill="#f76aae" stroke="none" stroke-width="0"/>
<line x1="178.95" y1="338.12" x2="178.95" y2="346.38" stroke="#f76aae" stroke-width="0.6"/>
<line x1="177.75" y1="338.12" x2="180.15" y2="338.12" stroke="#f76aae" stroke-width="0.6"/>
<circle cx="178.95" cy="336.47" r="1.45" fill="#e8097a" stroke="none" stroke-width="0"/>
<circle cx="178.95" cy="340.33" r="1.45" fill="#e8097a" stroke="none" stroke-width="0"/>
<circle cx="178.95" cy="349.13" r="1.45" fill="#e8097a" stroke="none" stroke-width="0"/>
<circle cx="184.45" cy="366.75" r="1.45" fill="#4a4af2" stroke="none" stroke-width="0"/>
<line x1="178.95" y1="367.3" x2="178.95" y2="370.8" stroke="#000" stroke-width="1"/>
<text x="180.75" y="380.5" font-size="8.2" font-weight="bold" text-anchor="end" fill="#000" transform="rotate(-45 180.75 380.5)">NOMO-1</text>
<rect x="191.62" y="340.33" width="4.2" height="26.97" fill="#7f7f7f" stroke="none" stroke-width="0"/>
<line x1="193.72" y1="330.42" x2="193.72" y2="340.33" stroke="#444" stroke-width="0.6"/>
<line x1="192.52" y1="330.42" x2="194.92" y2="330.42" stroke="#444" stroke-width="0.6"/>
<circle cx="193.72" cy="332.07" r="1.45" fill="#000" stroke="none" stroke-width="0"/>
<circle cx="193.72" cy="334.27" r="1.45" fill="#000" stroke="none" stroke-width="0"/>
<circle cx="193.72" cy="337.02" r="1.45" fill="#000" stroke="none" stroke-width="0"/>
<circle cx="193.72" cy="357.94" r="1.45" fill="#000" stroke="none" stroke-width="0"/>
<rect x="197.12" y="328.76" width="4.2" height="38.54" fill="#f76aae" stroke="none" stroke-width="0"/>
<line x1="199.22" y1="316.65" x2="199.22" y2="328.76" stroke="#f76aae" stroke-width="0.6"/>
<line x1="198.02" y1="316.65" x2="200.42" y2="316.65" stroke="#f76aae" stroke-width="0.6"/>
<circle cx="199.22" cy="316.1" r="1.45" fill="#e8097a" stroke="none" stroke-width="0"/>
<circle cx="199.22" cy="327.11" r="1.45" fill="#e8097a" stroke="none" stroke-width="0"/>
<circle cx="199.22" cy="331.52" r="1.45" fill="#e8097a" stroke="none" stroke-width="0"/>
<circle cx="204.72" cy="366.75" r="1.45" fill="#4a4af2" stroke="none" stroke-width="0"/>
<line x1="199.22" y1="367.3" x2="199.22" y2="370.8" stroke="#000" stroke-width="1"/>
<text x="201.02" y="380.5" font-size="8.2" font-weight="bold" text-anchor="end" fill="#000" transform="rotate(-45 201.02 380.5)">THP-1</text>
<rect x="211.89" y="354.09" width="4.2" height="13.21" fill="#7f7f7f" stroke="none" stroke-width="0"/>
<line x1="213.99" y1="351.34" x2="213.99" y2="354.09" stroke="#444" stroke-width="0.6"/>
<line x1="212.79" y1="351.34" x2="215.19" y2="351.34" stroke="#444" stroke-width="0.6"/>
<circle cx="213.99" cy="350.79" r="1.45" fill="#000" stroke="none" stroke-width="0"/>
<circle cx="213.99" cy="354.09" r="1.45" fill="#000" stroke="none" stroke-width="0"/>
<circle cx="213.99" cy="355.19" r="1.45" fill="#000" stroke="none" stroke-width="0"/>
<rect x="217.39" y="325.46" width="4.2" height="41.84" fill="#f76aae" stroke="none" stroke-width="0"/>
<line x1="219.49" y1="321.61" x2="219.49" y2="325.46" stroke="#f76aae" stroke-width="0.6"/>
<line x1="218.29" y1="321.61" x2="220.69" y2="321.61" stroke="#f76aae" stroke-width="0.6"/>
<circle cx="219.49" cy="322.16" r="1.45" fill="#e8097a" stroke="none" stroke-width="0"/>
<circle cx="219.49" cy="324.36" r="1.45" fill="#e8097a" stroke="none" stroke-width="0"/>
<circle cx="219.49" cy="333.17" r="1.45" fill="#e8097a" stroke="none" stroke-width="0"/>
<circle cx="224.99" cy="366.75" r="1.45" fill="#4a4af2" stroke="none" stroke-width="0"/>
<line x1="219.49" y1="367.3" x2="219.49" y2="370.8" stroke="#000" stroke-width="1"/>
<text x="221.29" y="380.5" font-size="8.2" font-weight="bold" text-anchor="end" fill="#000" transform="rotate(-45 221.29 380.5)">SKM-1</text>
<rect x="232.16" y="354.64" width="4.2" height="12.66" fill="#7f7f7f" stroke="none" stroke-width="0"/>
<line x1="234.26" y1="352.99" x2="234.26" y2="354.64" stroke="#444" stroke-width="0.6"/>
<line x1="233.06" y1="352.99" x2="235.46" y2="352.99" stroke="#444" stroke-width="0.6"/>
<circle cx="234.26" cy="352.44" r="1.45" fill="#000" stroke="none" stroke-width="0"/>
<circle cx="234.26" cy="354.64" r="1.45" fill="#000" stroke="none" stroke-width="0"/>
<circle cx="234.26" cy="356.29" r="1.45" fill="#000" stroke="none" stroke-width="0"/>
<rect x="237.66" y="333.17" width="4.2" height="34.13" fill="#f76aae" stroke="none" stroke-width="0"/>
<line x1="239.76" y1="326.56" x2="239.76" y2="333.17" stroke="#f76aae" stroke-width="0.6"/>
<line x1="238.56" y1="326.56" x2="240.96" y2="326.56" stroke="#f76aae" stroke-width="0.6"/>
<circle cx="239.76" cy="327.11" r="1.45" fill="#e8097a" stroke="none" stroke-width="0"/>
<circle cx="239.76" cy="332.07" r="1.45" fill="#e8097a" stroke="none" stroke-width="0"/>
<circle cx="239.76" cy="338.12" r="1.45" fill="#e8097a" stroke="none" stroke-width="0"/>
<circle cx="245.26" cy="366.75" r="1.45" fill="#4a4af2" stroke="none" stroke-width="0"/>
<line x1="239.76" y1="367.3" x2="239.76" y2="370.8" stroke="#000" stroke-width="1"/>
<text x="241.56" y="380.5" font-size="8.2" font-weight="bold" text-anchor="end" fill="#000" transform="rotate(-45 241.56 380.5)">OCI-AML3</text>
<rect x="252.43" y="358.22" width="4.2" height="9.08" fill="#7f7f7f" stroke="none" stroke-width="0"/>
<line x1="254.53" y1="356.29" x2="254.53" y2="358.22" stroke="#444" stroke-width="0.6"/>
<line x1="253.33" y1="356.29" x2="255.73" y2="356.29" stroke="#444" stroke-width="0.6"/>
<circle cx="254.53" cy="355.19" r="1.45" fill="#000" stroke="none" stroke-width="0"/>
<circle cx="254.53" cy="359.04" r="1.45" fill="#000" stroke="none" stroke-width="0"/>
<circle cx="254.53" cy="360.69" r="1.45" fill="#000" stroke="none" stroke-width="0"/>
<rect x="257.93" y="341.98" width="4.2" height="25.32" fill="#f76aae" stroke="none" stroke-width="0"/>
<line x1="260.03" y1="338.12" x2="260.03" y2="341.98" stroke="#f76aae" stroke-width="0.6"/>
<line x1="258.83" y1="338.12" x2="261.23" y2="338.12" stroke="#f76aae" stroke-width="0.6"/>
<circle cx="260.03" cy="337.57" r="1.45" fill="#e8097a" stroke="none" stroke-width="0"/>
<circle cx="260.03" cy="341.98" r="1.45" fill="#e8097a" stroke="none" stroke-width="0"/>
<circle cx="260.03" cy="345.83" r="1.45" fill="#e8097a" stroke="none" stroke-width="0"/>
<rect x="263.43" y="349.13" width="4.2" height="18.17" fill="#8f8ff7" stroke="none" stroke-width="0"/>
<line x1="265.53" y1="346.38" x2="265.53" y2="349.13" stroke="#8f8ff7" stroke-width="0.6"/>
<line x1="264.33" y1="346.38" x2="266.73" y2="346.38" stroke="#8f8ff7" stroke-width="0.6"/>
<circle cx="265.53" cy="346.38" r="1.45" fill="#4a4af2" stroke="none" stroke-width="0"/>
<circle cx="265.53" cy="349.13" r="1.45" fill="#4a4af2" stroke="none" stroke-width="0"/>
<line x1="260.03" y1="367.3" x2="260.03" y2="370.8" stroke="#000" stroke-width="1"/>
<text x="261.83" y="380.5" font-size="8.2" font-weight="bold" text-anchor="end" fill="#000" transform="rotate(-45 261.83 380.5)">Kasumi-1</text>
<rect x="272.7" y="366.75" width="4.2" height="0.55" fill="#7f7f7f" stroke="none" stroke-width="0"/>
<line x1="274.8" y1="366.2" x2="274.8" y2="366.75" stroke="#444" stroke-width="0.6"/>
<line x1="273.6" y1="366.2" x2="276" y2="366.2" stroke="#444" stroke-width="0.6"/>
<circle cx="274.8" cy="366.2" r="1.45" fill="#000" stroke="none" stroke-width="0"/>
<circle cx="274.8" cy="366.75" r="1.45" fill="#000" stroke="none" stroke-width="0"/>
<rect x="278.2" y="367.02" width="4.2" height="0.28" fill="#f76aae" stroke="none" stroke-width="0"/>
<circle cx="280.3" cy="366.75" r="1.45" fill="#e8097a" stroke="none" stroke-width="0"/>
<circle cx="285.8" cy="366.75" r="1.45" fill="#4a4af2" stroke="none" stroke-width="0"/>
<line x1="280.3" y1="367.3" x2="280.3" y2="370.8" stroke="#000" stroke-width="1"/>
<text x="282.1" y="380.5" font-size="8.2" font-weight="bold" text-anchor="end" fill="#000" transform="rotate(-45 282.1 380.5)">OPM-2 (neg.)</text>
<line x1="68.2" y1="257.2" x2="68.2" y2="367.85" stroke="#000" stroke-width="1.1"/>
<line x1="68.2" y1="367.3" x2="289.6" y2="367.3" stroke="#000" stroke-width="1.1"/>
<line x1="289.6" y1="257.2" x2="289.6" y2="367.85" stroke="#000" stroke-width="1.1"/>
<line x1="65.2" y1="367.3" x2="68.2" y2="367.3" stroke="#000" stroke-width="1"/>
<text x="63.3" y="370.6" font-size="8.6" font-weight="bold" text-anchor="end" fill="#000">0</text>
<line x1="65.2" y1="339.77" x2="68.2" y2="339.77" stroke="#000" stroke-width="1"/>
<text x="63.3" y="343.07" font-size="8.6" font-weight="bold" text-anchor="end" fill="#000">5000</text>
<line x1="65.2" y1="312.25" x2="68.2" y2="312.25" stroke="#000" stroke-width="1"/>
<text x="63.3" y="315.55" font-size="8.6" font-weight="bold" text-anchor="end" fill="#000">10000</text>
<line x1="65.2" y1="284.73" x2="68.2" y2="284.73" stroke="#000" stroke-width="1"/>
<text x="63.3" y="288.03" font-size="8.6" font-weight="bold" text-anchor="end" fill="#000">15000</text>
<line x1="65.2" y1="257.2" x2="68.2" y2="257.2" stroke="#000" stroke-width="1"/>
<text x="63.3" y="260.5" font-size="8.6" font-weight="bold" text-anchor="end" fill="#000">20000</text>
<line x1="289.6" y1="367.3" x2="292.6" y2="367.3" stroke="#000" stroke-width="1"/>
<text x="295.9" y="370.4" font-size="8.6" font-weight="bold" text-anchor="start" fill="#000">0</text>
<line x1="289.6" y1="330.6" x2="292.6" y2="330.6" stroke="#000" stroke-width="1"/>
<text x="295.9" y="333.7" font-size="8.6" font-weight="bold" text-anchor="start" fill="#000">50</text>
<line x1="289.6" y1="293.9" x2="292.6" y2="293.9" stroke="#000" stroke-width="1"/>
<text x="295.9" y="297" font-size="8.6" font-weight="bold" text-anchor="start" fill="#000">100</text>
<line x1="289.6" y1="257.2" x2="292.6" y2="257.2" stroke="#000" stroke-width="1"/>
<text x="295.9" y="260.3" font-size="8.6" font-weight="bold" text-anchor="start" fill="#000">150</text>
<path d="M138.41,313 L138.41,268.7 L144.21,268.7 L144.21,336.8" stroke="#3a3a3a" stroke-width="0.75" fill="none"/>
<text x="141.31" y="265.4" font-size="6.7" font-weight="normal" text-anchor="middle" fill="#333">0.001</text>
<path d="M178.95,329 L178.95,268.7 L184.75,268.7 L184.75,365" stroke="#3a3a3a" stroke-width="0.75" fill="none"/>
<text x="181.85" y="265.4" font-size="6.7" font-weight="normal" text-anchor="middle" fill="#333">0.02</text>
<path d="M199.22,310 L199.22,249.5 L205.02,249.5 L205.02,365" stroke="#3a3a3a" stroke-width="0.75" fill="none"/>
<text x="202.12" y="246" font-size="6.7" font-weight="normal" text-anchor="middle" fill="#333">&lt;0.001</text>
<path d="M219.49,311 L219.49,268.7 L225.29,268.7 L225.29,365" stroke="#3a3a3a" stroke-width="0.75" fill="none"/>
<text x="222.39" y="265.4" font-size="6.7" font-weight="normal" text-anchor="middle" fill="#333">&lt;0.001</text>
<path d="M239.76,320 L239.76,249.5 L245.56,249.5 L245.56,365" stroke="#3a3a3a" stroke-width="0.75" fill="none"/>
<text x="242.66" y="246" font-size="6.7" font-weight="normal" text-anchor="middle" fill="#333">&lt;0.001</text>
<text font-size="9.4" font-weight="bold" text-anchor="middle" transform="translate(23 311.45) rotate(-90)"><tspan x="0" y="0">Specific Antibody</tspan><tspan x="0" y="10.5">Binding Capacity (SABC)</tspan></text>
<text x="142" y="229" font-size="11.1" font-weight="bold">E<tspan font-size="7.6" dy="2.2">Max</tspan><tspan dy="-2.2"> (Efficacy)</tspan></text>
<text font-size="9.6" font-weight="bold" transform="translate(320.2 311.8) rotate(90)" text-anchor="middle">Specific lysis E<tspan font-size="6.6" dy="1.8">Max</tspan><tspan dy="-1.8"> [%]</tspan></text>
<rect x="414.9" y="308.99" width="4.2" height="58.41" fill="#7f7f7f" stroke="none" stroke-width="0"/>
<line x1="417" y1="282.55" x2="417" y2="308.99" stroke="#444" stroke-width="0.6"/>
<line x1="415.8" y1="282.55" x2="418.2" y2="282.55" stroke="#444" stroke-width="0.6"/>
<circle cx="417" cy="283.1" r="1.45" fill="#000" stroke="none" stroke-width="0"/>
<circle cx="417" cy="295.77" r="1.45" fill="#000" stroke="none" stroke-width="0"/>
<circle cx="417" cy="312.3" r="1.45" fill="#000" stroke="none" stroke-width="0"/>
<circle cx="417" cy="345.36" r="1.45" fill="#000" stroke="none" stroke-width="0"/>
<rect x="420.4" y="364.09" width="4.2" height="3.31" fill="#f76aae" stroke="none" stroke-width="0"/>
<circle cx="422.5" cy="360.79" r="1.45" fill="#e8097a" stroke="none" stroke-width="0"/>
<circle cx="422.5" cy="365.75" r="1.45" fill="#e8097a" stroke="none" stroke-width="0"/>
<circle cx="422.5" cy="366.3" r="1.45" fill="#e8097a" stroke="none" stroke-width="0"/>
<rect x="425.9" y="344.26" width="4.2" height="23.14" fill="#8f8ff7" stroke="none" stroke-width="0"/>
<line x1="428" y1="308.99" x2="428" y2="344.26" stroke="#8f8ff7" stroke-width="0.6"/>
<line x1="426.8" y1="308.99" x2="429.2" y2="308.99" stroke="#8f8ff7" stroke-width="0.6"/>
<circle cx="428" cy="304.59" r="1.45" fill="#4a4af2" stroke="none" stroke-width="0"/>
<circle cx="428" cy="361.89" r="1.45" fill="#4a4af2" stroke="none" stroke-width="0"/>
<circle cx="428" cy="366.3" r="1.45" fill="#4a4af2" stroke="none" stroke-width="0"/>
<line x1="422.5" y1="367.4" x2="422.5" y2="370.9" stroke="#000" stroke-width="1"/>
<text x="424.3" y="380.6" font-size="8.2" font-weight="bold" text-anchor="end" fill="#000" transform="rotate(-45 424.3 380.6)">MOLM-13</text>
<rect x="435.1" y="316.16" width="4.2" height="51.24" fill="#7f7f7f" stroke="none" stroke-width="0"/>
<line x1="437.2" y1="309.54" x2="437.2" y2="316.16" stroke="#444" stroke-width="0.6"/>
<line x1="436" y1="309.54" x2="438.4" y2="309.54" stroke="#444" stroke-width="0.6"/>
<circle cx="437.2" cy="309.54" r="1.45" fill="#000" stroke="none" stroke-width="0"/>
<circle cx="437.2" cy="315.06" r="1.45" fill="#000" stroke="none" stroke-width="0"/>
<circle cx="437.2" cy="318.91" r="1.45" fill="#000" stroke="none" stroke-width="0"/>
<rect x="440.6" y="364.64" width="4.2" height="2.75" fill="#f76aae" stroke="none" stroke-width="0"/>
<circle cx="442.7" cy="364.64" r="1.45" fill="#e8097a" stroke="none" stroke-width="0"/>
<circle cx="442.7" cy="365.2" r="1.45" fill="#e8097a" stroke="none" stroke-width="0"/>
<rect x="446.1" y="362.99" width="4.2" height="4.41" fill="#8f8ff7" stroke="none" stroke-width="0"/>
<line x1="448.2" y1="360.24" x2="448.2" y2="362.99" stroke="#8f8ff7" stroke-width="0.6"/>
<line x1="447" y1="360.24" x2="449.4" y2="360.24" stroke="#8f8ff7" stroke-width="0.6"/>
<circle cx="448.2" cy="360.24" r="1.45" fill="#4a4af2" stroke="none" stroke-width="0"/>
<circle cx="448.2" cy="363.54" r="1.45" fill="#4a4af2" stroke="none" stroke-width="0"/>
<line x1="442.7" y1="367.4" x2="442.7" y2="370.9" stroke="#000" stroke-width="1"/>
<text x="444.5" y="380.6" font-size="8.2" font-weight="bold" text-anchor="end" fill="#000" transform="rotate(-45 444.5 380.6)">HNT-34</text>
<rect x="455.3" y="312.3" width="4.2" height="55.1" fill="#7f7f7f" stroke="none" stroke-width="0"/>
<line x1="457.4" y1="304.03" x2="457.4" y2="312.3" stroke="#444" stroke-width="0.6"/>
<line x1="456.2" y1="304.03" x2="458.6" y2="304.03" stroke="#444" stroke-width="0.6"/>
<circle cx="457.4" cy="307.34" r="1.45" fill="#000" stroke="none" stroke-width="0"/>
<circle cx="457.4" cy="308.44" r="1.45" fill="#000" stroke="none" stroke-width="0"/>
<circle cx="457.4" cy="315.61" r="1.45" fill="#000" stroke="none" stroke-width="0"/>
<rect x="460.8" y="364.64" width="4.2" height="2.75" fill="#f76aae" stroke="none" stroke-width="0"/>
<circle cx="462.9" cy="363.54" r="1.45" fill="#e8097a" stroke="none" stroke-width="0"/>
<circle cx="462.9" cy="364.64" r="1.45" fill="#e8097a" stroke="none" stroke-width="0"/>
<rect x="466.3" y="318.36" width="4.2" height="49.04" fill="#8f8ff7" stroke="none" stroke-width="0"/>
<line x1="468.4" y1="280.89" x2="468.4" y2="318.36" stroke="#8f8ff7" stroke-width="0.6"/>
<line x1="467.2" y1="280.89" x2="469.6" y2="280.89" stroke="#8f8ff7" stroke-width="0.6"/>
<circle cx="468.4" cy="275.38" r="1.45" fill="#4a4af2" stroke="none" stroke-width="0"/>
<circle cx="468.4" cy="339.3" r="1.45" fill="#4a4af2" stroke="none" stroke-width="0"/>
<line x1="462.9" y1="367.4" x2="462.9" y2="370.9" stroke="#000" stroke-width="1"/>
<text x="464.7" y="380.6" font-size="8.2" font-weight="bold" text-anchor="end" fill="#000" transform="rotate(-45 464.7 380.6)">KG-1</text>
<rect x="475.5" y="325.52" width="4.2" height="41.88" fill="#7f7f7f" stroke="none" stroke-width="0"/>
<line x1="477.6" y1="317.81" x2="477.6" y2="325.52" stroke="#444" stroke-width="0.6"/>
<line x1="476.4" y1="317.81" x2="478.8" y2="317.81" stroke="#444" stroke-width="0.6"/>
<circle cx="477.6" cy="316.16" r="1.45" fill="#000" stroke="none" stroke-width="0"/>
<circle cx="477.6" cy="320.56" r="1.45" fill="#000" stroke="none" stroke-width="0"/>
<circle cx="477.6" cy="326.07" r="1.45" fill="#000" stroke="none" stroke-width="0"/>
<circle cx="477.6" cy="329.38" r="1.45" fill="#000" stroke="none" stroke-width="0"/>
<circle cx="477.6" cy="334.34" r="1.45" fill="#000" stroke="none" stroke-width="0"/>
<rect x="481" y="364.64" width="4.2" height="2.75" fill="#f76aae" stroke="none" stroke-width="0"/>
<circle cx="483.1" cy="364.09" r="1.45" fill="#e8097a" stroke="none" stroke-width="0"/>
<circle cx="483.1" cy="364.64" r="1.45" fill="#e8097a" stroke="none" stroke-width="0"/>
<rect x="486.5" y="339.85" width="4.2" height="27.55" fill="#8f8ff7" stroke="none" stroke-width="0"/>
<line x1="488.6" y1="337.09" x2="488.6" y2="339.85" stroke="#8f8ff7" stroke-width="0.6"/>
<line x1="487.4" y1="337.09" x2="489.8" y2="337.09" stroke="#8f8ff7" stroke-width="0.6"/>
<circle cx="488.6" cy="337.09" r="1.45" fill="#4a4af2" stroke="none" stroke-width="0"/>
<circle cx="488.6" cy="339.3" r="1.45" fill="#4a4af2" stroke="none" stroke-width="0"/>
<line x1="483.1" y1="367.4" x2="483.1" y2="370.9" stroke="#000" stroke-width="1"/>
<text x="484.9" y="380.6" font-size="8.2" font-weight="bold" text-anchor="end" fill="#000" transform="rotate(-45 484.9 380.6)">EOL-1</text>
<rect x="495.7" y="334.34" width="4.2" height="33.06" fill="#7f7f7f" stroke="none" stroke-width="0"/>
<line x1="497.8" y1="316.16" x2="497.8" y2="334.34" stroke="#444" stroke-width="0.6"/>
<line x1="496.6" y1="316.16" x2="499" y2="316.16" stroke="#444" stroke-width="0.6"/>
<circle cx="497.8" cy="310.65" r="1.45" fill="#000" stroke="none" stroke-width="0"/>
<circle cx="497.8" cy="326.07" r="1.45" fill="#000" stroke="none" stroke-width="0"/>
<circle cx="497.8" cy="339.85" r="1.45" fill="#000" stroke="none" stroke-width="0"/>
<circle cx="497.8" cy="343.71" r="1.45" fill="#000" stroke="none" stroke-width="0"/>
<rect x="501.2" y="364.09" width="4.2" height="3.31" fill="#f76aae" stroke="none" stroke-width="0"/>
<circle cx="503.3" cy="362.44" r="1.45" fill="#e8097a" stroke="none" stroke-width="0"/>
<circle cx="503.3" cy="364.64" r="1.45" fill="#e8097a" stroke="none" stroke-width="0"/>
<rect x="506.7" y="348.12" width="4.2" height="19.28" fill="#8f8ff7" stroke="none" stroke-width="0"/>
<line x1="508.8" y1="328.83" x2="508.8" y2="348.12" stroke="#8f8ff7" stroke-width="0.6"/>
<line x1="507.6" y1="328.83" x2="510" y2="328.83" stroke="#8f8ff7" stroke-width="0.6"/>
<circle cx="508.8" cy="327.73" r="1.45" fill="#4a4af2" stroke="none" stroke-width="0"/>
<circle cx="508.8" cy="357.48" r="1.45" fill="#4a4af2" stroke="none" stroke-width="0"/>
<line x1="503.3" y1="367.4" x2="503.3" y2="370.9" stroke="#000" stroke-width="1"/>
<text x="505.1" y="380.6" font-size="8.2" font-weight="bold" text-anchor="end" fill="#000" transform="rotate(-45 505.1 380.6)">TF-1</text>
<rect x="515.9" y="338.75" width="4.2" height="28.65" fill="#7f7f7f" stroke="none" stroke-width="0"/>
<line x1="518" y1="336.54" x2="518" y2="338.75" stroke="#444" stroke-width="0.6"/>
<line x1="516.8" y1="336.54" x2="519.2" y2="336.54" stroke="#444" stroke-width="0.6"/>
<circle cx="518" cy="337.09" r="1.45" fill="#000" stroke="none" stroke-width="0"/>
<circle cx="518" cy="338.75" r="1.45" fill="#000" stroke="none" stroke-width="0"/>
<circle cx="518" cy="339.85" r="1.45" fill="#000" stroke="none" stroke-width="0"/>
<rect x="521.4" y="362.44" width="4.2" height="4.96" fill="#f76aae" stroke="none" stroke-width="0"/>
<line x1="523.5" y1="358.58" x2="523.5" y2="362.44" stroke="#f76aae" stroke-width="0.6"/>
<line x1="522.3" y1="358.58" x2="524.7" y2="358.58" stroke="#f76aae" stroke-width="0.6"/>
<circle cx="523.5" cy="356.93" r="1.45" fill="#e8097a" stroke="none" stroke-width="0"/>
<circle cx="523.5" cy="360.24" r="1.45" fill="#e8097a" stroke="none" stroke-width="0"/>
<circle cx="523.5" cy="364.09" r="1.45" fill="#e8097a" stroke="none" stroke-width="0"/>
<line x1="523.5" y1="367.4" x2="523.5" y2="370.9" stroke="#000" stroke-width="1"/>
<text x="525.3" y="380.6" font-size="8.2" font-weight="bold" text-anchor="end" fill="#000" transform="rotate(-45 525.3 380.6)">NOMO-1</text>
<rect x="536.1" y="340.4" width="4.2" height="27" fill="#7f7f7f" stroke="none" stroke-width="0"/>
<line x1="538.2" y1="330.48" x2="538.2" y2="340.4" stroke="#444" stroke-width="0.6"/>
<line x1="537" y1="330.48" x2="539.4" y2="330.48" stroke="#444" stroke-width="0.6"/>
<circle cx="538.2" cy="332.14" r="1.45" fill="#000" stroke="none" stroke-width="0"/>
<circle cx="538.2" cy="334.34" r="1.45" fill="#000" stroke="none" stroke-width="0"/>
<circle cx="538.2" cy="337.09" r="1.45" fill="#000" stroke="none" stroke-width="0"/>
<circle cx="538.2" cy="358.03" r="1.45" fill="#000" stroke="none" stroke-width="0"/>
<rect x="541.6" y="362.99" width="4.2" height="4.41" fill="#f76aae" stroke="none" stroke-width="0"/>
<line x1="543.7" y1="360.79" x2="543.7" y2="362.99" stroke="#f76aae" stroke-width="0.6"/>
<line x1="542.5" y1="360.79" x2="544.9" y2="360.79" stroke="#f76aae" stroke-width="0.6"/>
<circle cx="543.7" cy="360.24" r="1.45" fill="#e8097a" stroke="none" stroke-width="0"/>
<circle cx="543.7" cy="363.54" r="1.45" fill="#e8097a" stroke="none" stroke-width="0"/>
<line x1="543.7" y1="367.4" x2="543.7" y2="370.9" stroke="#000" stroke-width="1"/>
<text x="545.5" y="380.6" font-size="8.2" font-weight="bold" text-anchor="end" fill="#000" transform="rotate(-45 545.5 380.6)">THP-1</text>
<rect x="556.3" y="354.18" width="4.2" height="13.22" fill="#7f7f7f" stroke="none" stroke-width="0"/>
<line x1="558.4" y1="351.42" x2="558.4" y2="354.18" stroke="#444" stroke-width="0.6"/>
<line x1="557.2" y1="351.42" x2="559.6" y2="351.42" stroke="#444" stroke-width="0.6"/>
<circle cx="558.4" cy="350.87" r="1.45" fill="#000" stroke="none" stroke-width="0"/>
<circle cx="558.4" cy="354.18" r="1.45" fill="#000" stroke="none" stroke-width="0"/>
<circle cx="558.4" cy="355.28" r="1.45" fill="#000" stroke="none" stroke-width="0"/>
<rect x="561.8" y="366.57" width="4.2" height="0.83" fill="#f76aae" stroke="none" stroke-width="0"/>
<circle cx="563.9" cy="366.3" r="1.45" fill="#e8097a" stroke="none" stroke-width="0"/>
<line x1="563.9" y1="367.4" x2="563.9" y2="370.9" stroke="#000" stroke-width="1"/>
<text x="565.7" y="380.6" font-size="8.2" font-weight="bold" text-anchor="end" fill="#000" transform="rotate(-45 565.7 380.6)">SKM-1</text>
<rect x="576.5" y="354.73" width="4.2" height="12.67" fill="#7f7f7f" stroke="none" stroke-width="0"/>
<line x1="578.6" y1="353.07" x2="578.6" y2="354.73" stroke="#444" stroke-width="0.6"/>
<line x1="577.4" y1="353.07" x2="579.8" y2="353.07" stroke="#444" stroke-width="0.6"/>
<circle cx="578.6" cy="352.52" r="1.45" fill="#000" stroke="none" stroke-width="0"/>
<circle cx="578.6" cy="354.73" r="1.45" fill="#000" stroke="none" stroke-width="0"/>
<circle cx="578.6" cy="356.38" r="1.45" fill="#000" stroke="none" stroke-width="0"/>
<rect x="582" y="364.09" width="4.2" height="3.31" fill="#f76aae" stroke="none" stroke-width="0"/>
<circle cx="584.1" cy="362.44" r="1.45" fill="#e8097a" stroke="none" stroke-width="0"/>
<circle cx="584.1" cy="364.64" r="1.45" fill="#e8097a" stroke="none" stroke-width="0"/>
<line x1="584.1" y1="367.4" x2="584.1" y2="370.9" stroke="#000" stroke-width="1"/>
<text x="585.9" y="380.6" font-size="8.2" font-weight="bold" text-anchor="end" fill="#000" transform="rotate(-45 585.9 380.6)">OCI-AML3</text>
<rect x="596.7" y="358.31" width="4.2" height="9.09" fill="#7f7f7f" stroke="none" stroke-width="0"/>
<line x1="598.8" y1="356.38" x2="598.8" y2="358.31" stroke="#444" stroke-width="0.6"/>
<line x1="597.6" y1="356.38" x2="600" y2="356.38" stroke="#444" stroke-width="0.6"/>
<circle cx="598.8" cy="355.28" r="1.45" fill="#000" stroke="none" stroke-width="0"/>
<circle cx="598.8" cy="359.13" r="1.45" fill="#000" stroke="none" stroke-width="0"/>
<circle cx="598.8" cy="360.79" r="1.45" fill="#000" stroke="none" stroke-width="0"/>
<rect x="602.2" y="362.99" width="4.2" height="4.41" fill="#f76aae" stroke="none" stroke-width="0"/>
<circle cx="604.3" cy="360.79" r="1.45" fill="#e8097a" stroke="none" stroke-width="0"/>
<circle cx="604.3" cy="364.09" r="1.45" fill="#e8097a" stroke="none" stroke-width="0"/>
<line x1="604.3" y1="367.4" x2="604.3" y2="370.9" stroke="#000" stroke-width="1"/>
<text x="606.1" y="380.6" font-size="8.2" font-weight="bold" text-anchor="end" fill="#000" transform="rotate(-45 606.1 380.6)">Kasumi-1</text>
<rect x="616.9" y="366.85" width="4.2" height="0.55" fill="#7f7f7f" stroke="none" stroke-width="0"/>
<line x1="619" y1="366.3" x2="619" y2="366.85" stroke="#444" stroke-width="0.6"/>
<line x1="617.8" y1="366.3" x2="620.2" y2="366.3" stroke="#444" stroke-width="0.6"/>
<circle cx="619" cy="366.3" r="1.45" fill="#000" stroke="none" stroke-width="0"/>
<circle cx="619" cy="366.85" r="1.45" fill="#000" stroke="none" stroke-width="0"/>
<rect x="622.4" y="367.12" width="4.2" height="0.28" fill="#f76aae" stroke="none" stroke-width="0"/>
<line x1="624.5" y1="367.4" x2="624.5" y2="370.9" stroke="#000" stroke-width="1"/>
<text x="626.3" y="380.6" font-size="8.2" font-weight="bold" text-anchor="end" fill="#000" transform="rotate(-45 626.3 380.6)">OPM-2 (neg.)</text>
<line x1="413.4" y1="257.2" x2="413.4" y2="367.95" stroke="#000" stroke-width="1.1"/>
<line x1="413.4" y1="367.4" x2="634" y2="367.4" stroke="#000" stroke-width="1.1"/>
<line x1="634" y1="257.2" x2="634" y2="367.95" stroke="#000" stroke-width="1.1"/>
<line x1="410.4" y1="367.4" x2="413.4" y2="367.4" stroke="#000" stroke-width="1"/>
<text x="408.5" y="370.7" font-size="8.6" font-weight="bold" text-anchor="end" fill="#000">0</text>
<line x1="410.4" y1="339.85" x2="413.4" y2="339.85" stroke="#000" stroke-width="1"/>
<text x="408.5" y="343.15" font-size="8.6" font-weight="bold" text-anchor="end" fill="#000">5000</text>
<line x1="410.4" y1="312.3" x2="413.4" y2="312.3" stroke="#000" stroke-width="1"/>
<text x="408.5" y="315.6" font-size="8.6" font-weight="bold" text-anchor="end" fill="#000">10000</text>
<line x1="410.4" y1="284.75" x2="413.4" y2="284.75" stroke="#000" stroke-width="1"/>
<text x="408.5" y="288.05" font-size="8.6" font-weight="bold" text-anchor="end" fill="#000">15000</text>
<line x1="410.4" y1="257.2" x2="413.4" y2="257.2" stroke="#000" stroke-width="1"/>
<text x="408.5" y="260.5" font-size="8.6" font-weight="bold" text-anchor="end" fill="#000">20000</text>
<line x1="634" y1="367.4" x2="637" y2="367.4" stroke="#000" stroke-width="1"/>
<text x="640.3" y="370.5" font-size="8.6" font-weight="bold" text-anchor="start" fill="#000">0</text>
<line x1="634" y1="339.85" x2="637" y2="339.85" stroke="#000" stroke-width="1"/>
<text x="640.3" y="342.95" font-size="8.6" font-weight="bold" text-anchor="start" fill="#000">50</text>
<line x1="634" y1="312.3" x2="637" y2="312.3" stroke="#000" stroke-width="1"/>
<text x="640.3" y="315.4" font-size="8.6" font-weight="bold" text-anchor="start" fill="#000">100</text>
<line x1="634" y1="284.75" x2="637" y2="284.75" stroke="#000" stroke-width="1"/>
<text x="640.3" y="287.85" font-size="8.6" font-weight="bold" text-anchor="start" fill="#000">150</text>
<line x1="634" y1="257.2" x2="637" y2="257.2" stroke="#000" stroke-width="1"/>
<text x="640.3" y="260.3" font-size="8.6" font-weight="bold" text-anchor="start" fill="#000">200</text>
<path d="M422.5,352 L422.5,262.2 L428,262.2 L428,299" stroke="#3a3a3a" stroke-width="0.75" fill="none"/>
<text x="425.25" y="258.8" font-size="6.7" font-weight="normal" text-anchor="middle" fill="#333">0.02</text>
<path d="M442.7,352 L442.7,262.2 L448.2,262.2 L448.2,352.6" stroke="#3a3a3a" stroke-width="0.75" fill="none"/>
<text x="445.45" y="258.8" font-size="6.7" font-weight="normal" text-anchor="middle" fill="#333">0.02</text>
<path d="M462.9,352 L462.9,262.2 L468.4,262.2 L468.4,271.7" stroke="#3a3a3a" stroke-width="0.75" fill="none"/>
<text x="465.65" y="258.8" font-size="6.7" font-weight="normal" text-anchor="middle" fill="#333">0.02</text>
<path d="M483.1,352 L483.1,262.2 L488.6,262.2 L488.6,330" stroke="#3a3a3a" stroke-width="0.75" fill="none"/>
<text x="485.85" y="258.8" font-size="6.7" font-weight="normal" text-anchor="middle" fill="#333">0.02</text>
<path d="M503.3,352 L503.3,262.2 L508.8,262.2 L508.8,319.8" stroke="#3a3a3a" stroke-width="0.75" fill="none"/>
<text x="506.05" y="258.8" font-size="6.7" font-weight="normal" text-anchor="middle" fill="#333">0.02</text>
<text font-size="9.4" font-weight="bold" text-anchor="middle" transform="translate(368.2 311.5) rotate(-90)"><tspan x="0" y="0">Specific Antibody</tspan><tspan x="0" y="10.5">Binding Capacity (SABC)</tspan></text>
<text x="532" y="365.9" font-size="6.8" font-weight="normal" text-anchor="middle" fill="#4a4af2">na</text>
<text x="552.2" y="365.9" font-size="6.8" font-weight="normal" text-anchor="middle" fill="#4a4af2">na</text>
<text x="572.4" y="365.9" font-size="6.8" font-weight="normal" text-anchor="middle" fill="#4a4af2">na</text>
<text x="592.6" y="365.9" font-size="6.8" font-weight="normal" text-anchor="middle" fill="#4a4af2">na</text>
<text x="612.8" y="365.9" font-size="6.8" font-weight="normal" text-anchor="middle" fill="#4a4af2">na</text>
<text x="622.7" y="365.9" font-size="6.8" font-weight="normal" text-anchor="middle" fill="#e8097a">na</text>
<text x="630.7" y="365.9" font-size="6.8" font-weight="normal" text-anchor="middle" fill="#4a4af2">na</text>
<text x="486" y="241.2" font-size="11.1" font-weight="bold">EC<tspan font-size="7.6" dy="2.2" font-weight="normal">50</tspan><tspan dy="-2.2"> (Potency)</tspan></text>
<text font-size="9.6" font-weight="bold" transform="translate(664.8 311.5) rotate(90)" text-anchor="middle">Specific potency EC<tspan font-size="6.6" dy="1.8" font-weight="normal">50</tspan><tspan dy="-1.8"> [pM]</tspan></text>
<rect x="204.2" y="425.3" width="12.1" height="5.7" fill="#000" stroke="none" stroke-width="0"/>
<text x="222.8" y="431.8" font-size="8.7" font-weight="bold" text-anchor="start" fill="#000">SABC</text>
<circle cx="262.3" cy="428.3" r="2" fill="#e8097a" stroke="none" stroke-width="0"/>
<text x="275.4" y="431.8" font-size="8.7" font-weight="bold" text-anchor="start" fill="#000">AFM28</text>
<circle cx="321" cy="428.3" r="2" fill="#4a4af2" stroke="none" stroke-width="0"/>
<text x="334.2" y="431.8" font-size="8.7" font-weight="bold" text-anchor="start" fill="#000">anti-CD123 Fc-enhanced IgG1</text>
<rect x="17.4" y="496.5" width="109.1" height="108.4" fill="#fff" stroke="#9a9a9a" stroke-width="0.7"/>
<line x1="17.4" y1="522.3" x2="126.5" y2="522.3" stroke="#c4c4c4" stroke-width="0.6"/>
<line x1="17.4" y1="534.5" x2="126.5" y2="534.5" stroke="#c4c4c4" stroke-width="0.6"/>
<line x1="17.4" y1="546.3" x2="126.5" y2="546.3" stroke="#c4c4c4" stroke-width="0.6"/>
<line x1="17.4" y1="558.1" x2="126.5" y2="558.1" stroke="#c4c4c4" stroke-width="0.6"/>
<line x1="17.4" y1="569.4" x2="126.5" y2="569.4" stroke="#c4c4c4" stroke-width="0.6"/>
<line x1="17.4" y1="581.5" x2="126.5" y2="581.5" stroke="#c4c4c4" stroke-width="0.6"/>
<line x1="17.4" y1="593.4" x2="126.5" y2="593.4" stroke="#c4c4c4" stroke-width="0.6"/>
<path d="M78.61,522.18 L79.03,522.13 L79.45,522.07 L79.86,521.99 L80.28,521.89 L80.7,521.76 L81.11,521.6 L81.53,521.4 L81.95,521.17 L82.36,520.89 L82.78,520.57 L83.2,520.21 L83.61,519.8 L84.03,519.35 L84.45,518.86 L84.86,518.33 L85.28,517.78 L85.7,517.2 L86.11,516.6 L86.53,515.98 L86.95,515.35 L87.36,514.7 L87.78,514.03 L88.19,513.33 L88.61,512.59 L89.03,511.81 L89.44,510.98 L89.86,510.09 L90.28,509.15 L90.69,508.17 L91.11,507.16 L91.53,506.15 L91.94,505.17 L92.36,504.25 L92.78,503.44 L93.19,502.78 L93.61,502.31 L94.03,502.05 L94.44,502.03 L94.86,502.25 L95.28,502.71 L95.69,503.38 L96.11,504.24 L96.53,505.25 L96.94,506.37 L97.36,507.56 L97.78,508.78 L98.19,510 L98.61,511.19 L99.02,512.34 L99.44,513.44 L99.86,514.48 L100.27,515.46 L100.69,516.37 L101.11,517.23 L101.52,518.02 L101.94,518.74 L102.36,519.39 L102.77,519.97 L103.19,520.47 L103.61,520.89 L104.02,521.24 L104.44,521.52 L104.86,521.74 L105.27,521.9 L105.69,522.03 L106.11,522.12 L106.52,522.18 L106.94,522.23" stroke="#262626" stroke-width="0.8" fill="none"/>
<path d="M67.37,534.35 L67.78,534.32 L68.2,534.28 L68.62,534.25 L69.03,534.21 L69.45,534.16 L69.87,534.11 L70.28,534.05 L70.7,533.98 L71.12,533.91 L71.53,533.83 L71.95,533.74 L72.37,533.65 L72.78,533.54 L73.2,533.43 L73.62,533.32 L74.03,533.19 L74.45,533.06 L74.87,532.92 L75.28,532.77 L75.7,532.62 L76.12,532.45 L76.53,532.29 L76.95,532.12 L77.36,531.94 L77.78,531.76 L78.2,531.57 L78.61,531.38 L79.03,531.18 L79.45,530.98 L79.86,530.77 L80.28,530.56 L80.7,530.35 L81.11,530.13 L81.53,529.9 L81.95,529.67 L82.36,529.43 L82.78,529.18 L83.2,528.93 L83.61,528.67 L84.03,528.4 L84.45,528.12 L84.86,527.84 L85.28,527.54 L85.7,527.25 L86.11,526.95 L86.53,526.65 L86.95,526.34 L87.36,526.04 L87.78,525.73 L88.19,525.43 L88.61,525.13 L89.03,524.83 L89.44,524.54 L89.86,524.24 L90.28,523.95 L90.69,523.64 L91.11,523.31 L91.53,522.96 L91.94,522.58 L92.36,522.16 L92.78,521.7 L93.19,521.18 L93.61,520.6 L94.03,519.97 L94.44,519.29 L94.86,518.58 L95.28,517.85 L95.69,517.12 L96.11,516.44 L96.53,515.83 L96.94,515.32 L97.36,514.96 L97.78,514.77 L98.19,514.78 L98.61,515 L99.02,515.44 L99.44,516.1 L99.86,516.95 L100.27,517.99 L100.69,519.16 L101.11,520.44 L101.52,521.79 L101.94,523.16 L102.36,524.52 L102.77,525.83 L103.19,527.06 L103.61,528.19 L104.02,529.22 L104.44,530.12 L104.86,530.91 L105.27,531.58 L105.69,532.15 L106.11,532.62 L106.52,533 L106.94,533.31 L107.36,533.56 L107.77,533.76 L108.19,533.92 L108.61,534.04 L109.02,534.14 L109.44,534.21 L109.85,534.27 L110.27,534.32 L110.69,534.36" stroke="#262626" stroke-width="0.8" fill="none"/>
<path d="M44.46,546.16 L44.88,546.12 L45.29,546.06 L45.71,546 L46.12,545.91 L46.54,545.81 L46.96,545.7 L47.37,545.56 L47.79,545.4 L48.21,545.21 L48.62,545 L49.04,544.76 L49.46,544.49 L49.87,544.2 L50.29,543.87 L50.71,543.52 L51.12,543.14 L51.54,542.72 L51.96,542.28 L52.37,541.8 L52.79,541.28 L53.21,540.71 L53.62,540.1 L54.04,539.44 L54.46,538.72 L54.87,537.94 L55.29,537.1 L55.7,536.19 L56.12,535.22 L56.54,534.2 L56.95,533.14 L57.37,532.05 L57.79,530.97 L58.2,529.91 L58.62,528.91 L59.04,528 L59.45,527.22 L59.87,526.6 L60.29,526.16 L60.7,525.93 L61.12,525.93 L61.54,526.16 L61.95,526.62 L62.37,527.3 L62.79,528.18 L63.2,529.23 L63.62,530.42 L64.04,531.71 L64.45,533.07 L64.87,534.46 L65.29,535.84 L65.7,537.18 L66.12,538.45 L66.53,539.63 L66.95,540.71 L67.37,541.67 L67.78,542.52 L68.2,543.26 L68.62,543.88 L69.03,544.4 L69.45,544.83 L69.87,545.18 L70.28,545.45 L70.7,545.67 L71.12,545.84 L71.53,545.96 L71.95,546.06 L72.37,546.13 L72.78,546.18" stroke="#262626" stroke-width="0.8" fill="none"/>
<path d="M30.71,557.92 L31.13,557.89 L31.55,557.85 L31.96,557.81 L32.38,557.76 L32.8,557.7 L33.21,557.63 L33.63,557.56 L34.05,557.48 L34.46,557.39 L34.88,557.29 L35.29,557.18 L35.71,557.05 L36.13,556.92 L36.54,556.78 L36.96,556.63 L37.38,556.46 L37.79,556.29 L38.21,556.11 L38.63,555.91 L39.04,555.71 L39.46,555.5 L39.88,555.28 L40.29,555.05 L40.71,554.81 L41.13,554.57 L41.54,554.32 L41.96,554.07 L42.38,553.8 L42.79,553.54 L43.21,553.26 L43.63,552.97 L44.04,552.68 L44.46,552.37 L44.88,552.06 L45.29,551.73 L45.71,551.38 L46.12,551.02 L46.54,550.63 L46.96,550.23 L47.37,549.8 L47.79,549.35 L48.21,548.88 L48.62,548.38 L49.04,547.86 L49.46,547.32 L49.87,546.75 L50.29,546.18 L50.71,545.59 L51.12,545 L51.54,544.4 L51.96,543.82 L52.37,543.24 L52.79,542.7 L53.21,542.18 L53.62,541.71 L54.04,541.28 L54.46,540.91 L54.87,540.61 L55.29,540.37 L55.7,540.22 L56.12,540.14 L56.54,540.16 L56.95,540.26 L57.37,540.44 L57.79,540.72 L58.2,541.08 L58.62,541.51 L59.04,542.03 L59.45,542.6 L59.87,543.24 L60.29,543.93 L60.7,544.66 L61.12,545.42 L61.54,546.21 L61.95,547.01 L62.37,547.81 L62.79,548.61 L63.2,549.39 L63.62,550.16 L64.04,550.9 L64.45,551.6 L64.87,552.27 L65.29,552.9 L65.7,553.49 L66.12,554.04 L66.53,554.54 L66.95,554.99 L67.37,555.41 L67.78,555.78 L68.2,556.11 L68.62,556.41 L69.03,556.66 L69.45,556.89 L69.87,557.09 L70.28,557.26 L70.7,557.4 L71.12,557.53 L71.53,557.63 L71.95,557.72 L72.37,557.79 L72.78,557.85 L73.2,557.9 L73.62,557.94" stroke="#262626" stroke-width="0.8" fill="none"/>
<path d="M17.8,569.4 L18.22,569.4 L18.63,569.4 L19.05,569.4 L19.47,569.39 L19.88,569.39 L20.3,569.39 L20.72,569.39 L21.13,569.38 L21.55,569.38 L21.97,569.37 L22.38,569.36 L22.8,569.35 L23.21,569.34 L23.63,569.32 L24.05,569.3 L24.46,569.27 L24.88,569.24 L25.3,569.2 L25.71,569.16 L26.13,569.1 L26.55,569.04 L26.96,568.96 L27.38,568.87 L27.8,568.78 L28.21,568.66 L28.63,568.53 L29.05,568.39 L29.46,568.23 L29.88,568.05 L30.3,567.86 L30.71,567.64 L31.13,567.42 L31.55,567.17 L31.96,566.91 L32.38,566.63 L32.8,566.34 L33.21,566.03 L33.63,565.71 L34.05,565.37 L34.46,565.01 L34.88,564.63 L35.29,564.24 L35.71,563.82 L36.13,563.37 L36.54,562.89 L36.96,562.38 L37.38,561.84 L37.79,561.25 L38.21,560.62 L38.63,559.94 L39.04,559.23 L39.46,558.48 L39.88,557.7 L40.29,556.89 L40.71,556.08 L41.13,555.28 L41.54,554.5 L41.96,553.76 L42.38,553.09 L42.79,552.5 L43.21,552.02 L43.63,551.66 L44.04,551.44 L44.46,551.37 L44.88,551.47 L45.29,551.72 L45.71,552.13 L46.12,552.68 L46.54,553.38 L46.96,554.2 L47.37,555.12 L47.79,556.12 L48.21,557.18 L48.62,558.26 L49.04,559.36 L49.46,560.44 L49.87,561.48 L50.29,562.48 L50.71,563.42 L51.12,564.28 L51.54,565.07 L51.96,565.77 L52.37,566.39 L52.79,566.93 L53.21,567.4 L53.62,567.79 L54.04,568.13 L54.46,568.4 L54.87,568.62 L55.29,568.8 L55.7,568.95 L56.12,569.06 L56.54,569.15 L56.95,569.21 L57.37,569.26 L57.79,569.3 L58.2,569.33 L58.62,569.35 L59.04,569.37 L59.45,569.38 L59.87,569.38 L60.29,569.39 L60.7,569.39 L61.12,569.4 L61.54,569.4 L61.95,569.4 L62.37,569.4 L62.79,569.4 L63.2,569.4 L63.62,569.4 L64.04,569.4 L64.45,569.4 L64.87,569.4 L65.29,569.4 L65.7,569.4 L66.12,569.4 L66.53,569.4 L66.95,569.4 L67.37,569.4 L67.78,569.4 L68.2,569.4 L68.62,569.4 L69.03,569.4 L69.45,569.4 L69.87,569.4 L70.28,569.4 L70.7,569.4 L71.12,569.4 L71.53,569.4 L71.95,569.4 L72.37,569.4 L72.78,569.4 L73.2,569.4 L73.62,569.4 L74.03,569.4 L74.45,569.4 L74.87,569.4 L75.28,569.4 L75.7,569.4 L76.12,569.4 L76.53,569.4 L76.95,569.4 L77.36,569.4 L77.78,569.4 L78.2,569.4 L78.61,569.4 L79.03,569.4 L79.45,569.4 L79.86,569.4 L80.28,569.4 L80.7,569.4 L81.11,569.4 L81.53,569.4 L81.95,569.4 L82.36,569.4 L82.78,569.4 L83.2,569.4 L83.61,569.4 L84.03,569.4 L84.45,569.4 L84.86,569.4 L85.28,569.4 L85.7,569.4 L86.11,569.4 L86.53,569.4 L86.95,569.4 L87.36,569.4 L87.78,569.4 L88.19,569.4 L88.61,569.4 L89.03,569.4 L89.44,569.4 L89.86,569.4 L90.28,569.4 L90.69,569.4 L91.11,569.4 L91.53,569.4 L91.94,569.4 L92.36,569.4 L92.78,569.4 L93.19,569.4 L93.61,569.4 L94.03,569.4 L94.44,569.4 L94.86,569.4 L95.28,569.4 L95.69,569.4 L96.11,569.4 L96.53,569.4 L96.94,569.4 L97.36,569.4 L97.78,569.4 L98.19,569.4 L98.61,569.4 L99.02,569.4 L99.44,569.4 L99.86,569.4 L100.27,569.4 L100.69,569.4 L101.11,569.4 L101.52,569.4 L101.94,569.4 L102.36,569.4 L102.77,569.4 L103.19,569.4 L103.61,569.4 L104.02,569.4 L104.44,569.4 L104.86,569.4 L105.27,569.4 L105.69,569.4 L106.11,569.4 L106.52,569.4 L106.94,569.4 L107.36,569.4 L107.77,569.4 L108.19,569.4 L108.61,569.4 L109.02,569.4 L109.44,569.4 L109.85,569.4 L110.27,569.4 L110.69,569.4 L111.1,569.4 L111.52,569.4 L111.94,569.4 L112.35,569.4 L112.77,569.4 L113.19,569.4 L113.6,569.4 L114.02,569.4 L114.44,569.4 L114.85,569.4 L115.27,569.4 L115.69,569.4 L116.1,569.4 L116.52,569.4 L116.94,569.4 L117.35,569.4 L117.77,569.4 L118.19,569.4 L118.6,569.4 L119.02,569.4 L119.44,569.4 L119.85,569.4 L120.27,569.4 L120.68,569.4 L121.1,569.4 L121.52,569.4 L121.93,569.4 L122.35,569.4 L122.77,569.4 L123.18,569.4 L123.6,569.4 L124.02,569.4 L124.43,569.4 L124.85,569.4 L125.27,569.4 L125.68,569.4 L126.1,569.4 L126.1,569.4 L17.8,569.4 Z" stroke="#b0b0b0" stroke-width="0.6" fill="#c8c8c8" fill-opacity="0.6"/>
<path d="M17.8,581.5 L18.22,581.5 L18.63,581.5 L19.05,581.5 L19.47,581.5 L19.88,581.49 L20.3,581.49 L20.72,581.49 L21.13,581.49 L21.55,581.48 L21.97,581.47 L22.38,581.46 L22.8,581.45 L23.21,581.44 L23.63,581.42 L24.05,581.39 L24.46,581.36 L24.88,581.32 L25.3,581.27 L25.71,581.21 L26.13,581.14 L26.55,581.06 L26.96,580.96 L27.38,580.84 L27.8,580.71 L28.21,580.55 L28.63,580.37 L29.05,580.17 L29.46,579.94 L29.88,579.69 L30.3,579.41 L30.71,579.1 L31.13,578.76 L31.55,578.39 L31.96,578 L32.38,577.57 L32.8,577.1 L33.21,576.61 L33.63,576.08 L34.05,575.52 L34.46,574.91 L34.88,574.27 L35.29,573.59 L35.71,572.86 L36.13,572.1 L36.54,571.29 L36.96,570.44 L37.38,569.56 L37.79,568.66 L38.21,567.73 L38.63,566.8 L39.04,565.87 L39.46,564.96 L39.88,564.1 L40.29,563.29 L40.71,562.56 L41.13,561.93 L41.54,561.42 L41.96,561.05 L42.38,560.82 L42.79,560.76 L43.21,560.86 L43.63,561.13 L44.04,561.57 L44.46,562.16 L44.88,562.91 L45.29,563.78 L45.71,564.76 L46.12,565.84 L46.54,566.98 L46.96,568.16 L47.37,569.36 L47.79,570.56 L48.21,571.73 L48.62,572.86 L49.04,573.93 L49.46,574.93 L49.87,575.86 L50.29,576.7 L50.71,577.45 L51.12,578.12 L51.54,578.71 L51.96,579.21 L52.37,579.65 L52.79,580.01 L53.21,580.32 L53.62,580.57 L54.04,580.77 L54.46,580.94 L54.87,581.07 L55.29,581.18 L55.7,581.26 L56.12,581.32 L56.54,581.37 L56.95,581.4 L57.37,581.43 L57.79,581.45 L58.2,581.46 L58.62,581.48 L59.04,581.48 L59.45,581.49 L59.87,581.49 L60.29,581.49 L60.7,581.5 L61.12,581.5 L61.54,581.5 L61.95,581.5 L62.37,581.5 L62.79,581.5 L63.2,581.5 L63.62,581.5 L64.04,581.5 L64.45,581.5 L64.87,581.5 L65.29,581.5 L65.7,581.5 L66.12,581.5 L66.53,581.5 L66.95,581.5 L67.37,581.5 L67.78,581.5 L68.2,581.5 L68.62,581.5 L69.03,581.5 L69.45,581.5 L69.87,581.5 L70.28,581.5 L70.7,581.5 L71.12,581.5 L71.53,581.5 L71.95,581.5 L72.37,581.5 L72.78,581.5 L73.2,581.5 L73.62,581.5 L74.03,581.5 L74.45,581.5 L74.87,581.5 L75.28,581.5 L75.7,581.5 L76.12,581.5 L76.53,581.5 L76.95,581.5 L77.36,581.5 L77.78,581.5 L78.2,581.5 L78.61,581.5 L79.03,581.5 L79.45,581.5 L79.86,581.5 L80.28,581.5 L80.7,581.5 L81.11,581.5 L81.53,581.5 L81.95,581.5 L82.36,581.5 L82.78,581.5 L83.2,581.5 L83.61,581.5 L84.03,581.5 L84.45,581.5 L84.86,581.5 L85.28,581.5 L85.7,581.5 L86.11,581.5 L86.53,581.5 L86.95,581.5 L87.36,581.5 L87.78,581.5 L88.19,581.5 L88.61,581.5 L89.03,581.5 L89.44,581.5 L89.86,581.5 L90.28,581.5 L90.69,581.5 L91.11,581.5 L91.53,581.5 L91.94,581.5 L92.36,581.5 L92.78,581.5 L93.19,581.5 L93.61,581.5 L94.03,581.5 L94.44,581.5 L94.86,581.5 L95.28,581.5 L95.69,581.5 L96.11,581.5 L96.53,581.5 L96.94,581.5 L97.36,581.5 L97.78,581.5 L98.19,581.5 L98.61,581.5 L99.02,581.5 L99.44,581.5 L99.86,581.5 L100.27,581.5 L100.69,581.5 L101.11,581.5 L101.52,581.5 L101.94,581.5 L102.36,581.5 L102.77,581.5 L103.19,581.5 L103.61,581.5 L104.02,581.5 L104.44,581.5 L104.86,581.5 L105.27,581.5 L105.69,581.5 L106.11,581.5 L106.52,581.5 L106.94,581.5 L107.36,581.5 L107.77,581.5 L108.19,581.5 L108.61,581.5 L109.02,581.5 L109.44,581.5 L109.85,581.5 L110.27,581.5 L110.69,581.5 L111.1,581.5 L111.52,581.5 L111.94,581.5 L112.35,581.5 L112.77,581.5 L113.19,581.5 L113.6,581.5 L114.02,581.5 L114.44,581.5 L114.85,581.5 L115.27,581.5 L115.69,581.5 L116.1,581.5 L116.52,581.5 L116.94,581.5 L117.35,581.5 L117.77,581.5 L118.19,581.5 L118.6,581.5 L119.02,581.5 L119.44,581.5 L119.85,581.5 L120.27,581.5 L120.68,581.5 L121.1,581.5 L121.52,581.5 L121.93,581.5 L122.35,581.5 L122.77,581.5 L123.18,581.5 L123.6,581.5 L124.02,581.5 L124.43,581.5 L124.85,581.5 L125.27,581.5 L125.68,581.5 L126.1,581.5 L126.1,581.5 L17.8,581.5 Z" stroke="#b0b0b0" stroke-width="0.6" fill="#c8c8c8" fill-opacity="0.6"/>
<path d="M17.8,593.4 L18.22,593.4 L18.63,593.4 L19.05,593.4 L19.47,593.4 L19.88,593.4 L20.3,593.4 L20.72,593.4 L21.13,593.4 L21.55,593.4 L21.97,593.4 L22.38,593.4 L22.8,593.4 L23.21,593.4 L23.63,593.4 L24.05,593.4 L24.46,593.4 L24.88,593.4 L25.3,593.4 L25.71,593.4 L26.13,593.4 L26.55,593.4 L26.96,593.4 L27.38,593.4 L27.8,593.4 L28.21,593.4 L28.63,593.4 L29.05,593.4 L29.46,593.4 L29.88,593.4 L30.3,593.4 L30.71,593.4 L31.13,593.4 L31.55,593.4 L31.96,593.39 L32.38,593.39 L32.8,593.39 L33.21,593.39 L33.63,593.38 L34.05,593.38 L34.46,593.37 L34.88,593.36 L35.29,593.35 L35.71,593.33 L36.13,593.31 L36.54,593.29 L36.96,593.27 L37.38,593.23 L37.79,593.2 L38.21,593.15 L38.63,593.1 L39.04,593.04 L39.46,592.97 L39.88,592.88 L40.29,592.79 L40.71,592.69 L41.13,592.57 L41.54,592.44 L41.96,592.3 L42.38,592.15 L42.79,591.98 L43.21,591.81 L43.63,591.62 L44.04,591.42 L44.46,591.22 L44.88,591.01 L45.29,590.79 L45.71,590.57 L46.12,590.35 L46.54,590.11 L46.96,589.87 L47.37,589.62 L47.79,589.36 L48.21,589.06 L48.62,588.74 L49.04,588.38 L49.46,587.96 L49.87,587.48 L50.29,586.93 L50.71,586.29 L51.12,585.57 L51.54,584.76 L51.96,583.86 L52.37,582.88 L52.79,581.85 L53.21,580.77 L53.62,579.69 L54.04,578.63 L54.46,577.63 L54.87,576.72 L55.29,575.92 L55.7,575.28 L56.12,574.8 L56.54,574.48 L56.95,574.34 L57.37,574.36 L57.79,574.51 L58.2,574.78 L58.62,575.14 L59.04,575.56 L59.45,576.02 L59.87,576.48 L60.29,576.94 L60.7,577.39 L61.12,577.81 L61.54,578.23 L61.95,578.63 L62.37,579.04 L62.79,579.47 L63.2,579.93 L63.62,580.42 L64.04,580.96 L64.45,581.56 L64.87,582.2 L65.29,582.9 L65.7,583.63 L66.12,584.4 L66.53,585.18 L66.95,585.97 L67.37,586.74 L67.78,587.5 L68.2,588.23 L68.62,588.91 L69.03,589.55 L69.45,590.13 L69.87,590.65 L70.28,591.11 L70.7,591.52 L71.12,591.87 L71.53,592.17 L71.95,592.42 L72.37,592.63 L72.78,592.8 L73.2,592.94 L73.62,593.05 L74.03,593.13 L74.45,593.2 L74.87,593.25 L75.28,593.29 L75.7,593.32 L76.12,593.34 L76.53,593.36 L76.95,593.37 L77.36,593.38 L77.78,593.39 L78.2,593.39 L78.61,593.39 L79.03,593.4 L79.45,593.4 L79.86,593.4 L80.28,593.4 L80.7,593.4 L81.11,593.4 L81.53,593.4 L81.95,593.4 L82.36,593.4 L82.78,593.4 L83.2,593.4 L83.61,593.4 L84.03,593.4 L84.45,593.4 L84.86,593.4 L85.28,593.4 L85.7,593.4 L86.11,593.4 L86.53,593.4 L86.95,593.4 L87.36,593.4 L87.78,593.4 L88.19,593.4 L88.61,593.4 L89.03,593.4 L89.44,593.4 L89.86,593.4 L90.28,593.4 L90.69,593.4 L91.11,593.4 L91.53,593.4 L91.94,593.4 L92.36,593.4 L92.78,593.4 L93.19,593.4 L93.61,593.4 L94.03,593.4 L94.44,593.4 L94.86,593.4 L95.28,593.4 L95.69,593.4 L96.11,593.4 L96.53,593.4 L96.94,593.4 L97.36,593.4 L97.78,593.4 L98.19,593.4 L98.61,593.4 L99.02,593.4 L99.44,593.4 L99.86,593.4 L100.27,593.4 L100.69,593.4 L101.11,593.4 L101.52,593.4 L101.94,593.4 L102.36,593.4 L102.77,593.4 L103.19,593.4 L103.61,593.4 L104.02,593.4 L104.44,593.4 L104.86,593.4 L105.27,593.4 L105.69,593.4 L106.11,593.4 L106.52,593.4 L106.94,593.4 L107.36,593.4 L107.77,593.4 L108.19,593.4 L108.61,593.4 L109.02,593.4 L109.44,593.4 L109.85,593.4 L110.27,593.4 L110.69,593.4 L111.1,593.4 L111.52,593.4 L111.94,593.4 L112.35,593.4 L112.77,593.4 L113.19,593.4 L113.6,593.4 L114.02,593.4 L114.44,593.4 L114.85,593.4 L115.27,593.4 L115.69,593.4 L116.1,593.4 L116.52,593.4 L116.94,593.4 L117.35,593.4 L117.77,593.4 L118.19,593.4 L118.6,593.4 L119.02,593.4 L119.44,593.4 L119.85,593.4 L120.27,593.4 L120.68,593.4 L121.1,593.4 L121.52,593.4 L121.93,593.4 L122.35,593.4 L122.77,593.4 L123.18,593.4 L123.6,593.4 L124.02,593.4 L124.43,593.4 L124.85,593.4 L125.27,593.4 L125.68,593.4 L126.1,593.4 L126.1,593.4 L17.8,593.4 Z" stroke="#b0b0b0" stroke-width="0.6" fill="#c8c8c8" fill-opacity="0.6"/>
<path d="M17.8,604.9 L18.22,604.9 L18.63,604.9 L19.05,604.9 L19.47,604.9 L19.88,604.9 L20.3,604.9 L20.72,604.9 L21.13,604.9 L21.55,604.9 L21.97,604.9 L22.38,604.9 L22.8,604.9 L23.21,604.9 L23.63,604.9 L24.05,604.9 L24.46,604.9 L24.88,604.9 L25.3,604.9 L25.71,604.9 L26.13,604.9 L26.55,604.9 L26.96,604.9 L27.38,604.9 L27.8,604.9 L28.21,604.9 L28.63,604.9 L29.05,604.9 L29.46,604.9 L29.88,604.9 L30.3,604.89 L30.71,604.89 L31.13,604.89 L31.55,604.89 L31.96,604.88 L32.38,604.88 L32.8,604.87 L33.21,604.87 L33.63,604.86 L34.05,604.85 L34.46,604.84 L34.88,604.82 L35.29,604.8 L35.71,604.78 L36.13,604.75 L36.54,604.72 L36.96,604.68 L37.38,604.63 L37.79,604.58 L38.21,604.52 L38.63,604.44 L39.04,604.35 L39.46,604.25 L39.88,604.14 L40.29,604 L40.71,603.85 L41.13,603.68 L41.54,603.48 L41.96,603.26 L42.38,603.02 L42.79,602.74 L43.21,602.44 L43.63,602.1 L44.04,601.73 L44.46,601.33 L44.88,600.89 L45.29,600.42 L45.71,599.91 L46.12,599.37 L46.54,598.79 L46.96,598.18 L47.37,597.54 L47.79,596.87 L48.21,596.18 L48.62,595.46 L49.04,594.73 L49.46,593.99 L49.87,593.24 L50.29,592.49 L50.71,591.75 L51.12,591.02 L51.54,590.31 L51.96,589.62 L52.37,588.97 L52.79,588.36 L53.21,587.8 L53.62,587.28 L54.04,586.83 L54.46,586.44 L54.87,586.13 L55.29,585.88 L55.7,585.71 L56.12,585.62 L56.54,585.6 L56.95,585.67 L57.37,585.81 L57.79,586.03 L58.2,586.33 L58.62,586.69 L59.04,587.13 L59.45,587.62 L59.87,588.16 L60.29,588.76 L60.7,589.4 L61.12,590.07 L61.54,590.78 L61.95,591.5 L62.37,592.24 L62.79,592.99 L63.2,593.74 L63.62,594.48 L64.04,595.22 L64.45,595.94 L64.87,596.64 L65.29,597.32 L65.7,597.97 L66.12,598.59 L66.53,599.18 L66.95,599.73 L67.37,600.25 L67.78,600.74 L68.2,601.19 L68.62,601.6 L69.03,601.98 L69.45,602.33 L69.87,602.64 L70.28,602.93 L70.7,603.18 L71.12,603.41 L71.53,603.62 L71.95,603.8 L72.37,603.96 L72.78,604.09 L73.2,604.22 L73.62,604.32 L74.03,604.41 L74.45,604.49 L74.87,604.56 L75.28,604.62 L75.7,604.66 L76.12,604.71 L76.53,604.74 L76.95,604.77 L77.36,604.79 L77.78,604.81 L78.2,604.83 L78.61,604.84 L79.03,604.85 L79.45,604.86 L79.86,604.87 L80.28,604.88 L80.7,604.88 L81.11,604.89 L81.53,604.89 L81.95,604.89 L82.36,604.89 L82.78,604.89 L83.2,604.9 L83.61,604.9 L84.03,604.9 L84.45,604.9 L84.86,604.9 L85.28,604.9 L85.7,604.9 L86.11,604.9 L86.53,604.9 L86.95,604.9 L87.36,604.9 L87.78,604.9 L88.19,604.9 L88.61,604.9 L89.03,604.9 L89.44,604.9 L89.86,604.9 L90.28,604.9 L90.69,604.9 L91.11,604.9 L91.53,604.9 L91.94,604.9 L92.36,604.9 L92.78,604.9 L93.19,604.9 L93.61,604.9 L94.03,604.9 L94.44,604.9 L94.86,604.9 L95.28,604.9 L95.69,604.9 L96.11,604.9 L96.53,604.9 L96.94,604.9 L97.36,604.9 L97.78,604.9 L98.19,604.9 L98.61,604.9 L99.02,604.9 L99.44,604.9 L99.86,604.9 L100.27,604.9 L100.69,604.9 L101.11,604.9 L101.52,604.9 L101.94,604.9 L102.36,604.9 L102.77,604.9 L103.19,604.9 L103.61,604.9 L104.02,604.9 L104.44,604.9 L104.86,604.9 L105.27,604.9 L105.69,604.9 L106.11,604.9 L106.52,604.9 L106.94,604.9 L107.36,604.9 L107.77,604.9 L108.19,604.9 L108.61,604.9 L109.02,604.9 L109.44,604.9 L109.85,604.9 L110.27,604.9 L110.69,604.9 L111.1,604.9 L111.52,604.9 L111.94,604.9 L112.35,604.9 L112.77,604.9 L113.19,604.9 L113.6,604.9 L114.02,604.9 L114.44,604.9 L114.85,604.9 L115.27,604.9 L115.69,604.9 L116.1,604.9 L116.52,604.9 L116.94,604.9 L117.35,604.9 L117.77,604.9 L118.19,604.9 L118.6,604.9 L119.02,604.9 L119.44,604.9 L119.85,604.9 L120.27,604.9 L120.68,604.9 L121.1,604.9 L121.52,604.9 L121.93,604.9 L122.35,604.9 L122.77,604.9 L123.18,604.9 L123.6,604.9 L124.02,604.9 L124.43,604.9 L124.85,604.9 L125.27,604.9 L125.68,604.9 L126.1,604.9 L126.1,604.9 L17.8,604.9 Z" stroke="#b0b0b0" stroke-width="0.6" fill="#c8c8c8" fill-opacity="0.6"/>
<text x="124.6" y="520" font-size="6.2" font-weight="normal" text-anchor="end" fill="#2a2a2a" textLength="16.5" lengthAdjust="spacingAndGlyphs">SKM-1</text>
<text x="23.1" y="531.9" font-size="6.2" font-weight="normal" text-anchor="start" fill="#2a2a2a" textLength="27.8" lengthAdjust="spacingAndGlyphs">OCI-AML-3</text>
<text x="124.6" y="544" font-size="6.2" font-weight="normal" text-anchor="end" fill="#2a2a2a" textLength="11.8" lengthAdjust="spacingAndGlyphs">TF-1</text>
<text x="124.6" y="555.8" font-size="6.2" font-weight="normal" text-anchor="end" fill="#2a2a2a" textLength="19.8" lengthAdjust="spacingAndGlyphs">HNT-34</text>
<text x="124.6" y="567.1" font-size="6.2" font-weight="normal" text-anchor="end" fill="#2a2a2a" textLength="25.2" lengthAdjust="spacingAndGlyphs">Iso SKM-1</text>
<text x="124.6" y="579.2" font-size="6.2" font-weight="normal" text-anchor="end" fill="#2a2a2a" textLength="36" lengthAdjust="spacingAndGlyphs">Iso OCI-AML-3</text>
<text x="124.6" y="591.1" font-size="6.2" font-weight="normal" text-anchor="end" fill="#2a2a2a" textLength="20" lengthAdjust="spacingAndGlyphs">Iso TF-1</text>
<text x="124.6" y="602.6" font-size="6.2" font-weight="normal" text-anchor="end" fill="#2a2a2a" textLength="28.8" lengthAdjust="spacingAndGlyphs">Iso HNT-34</text>
<line x1="17.4" y1="604.9" x2="126.5" y2="604.9" stroke="#555" stroke-width="0.9"/>
<line x1="21.6" y1="604.9" x2="21.6" y2="607.7" stroke="#222" stroke-width="0.8"/>
<line x1="47.5" y1="604.9" x2="47.5" y2="607.7" stroke="#222" stroke-width="0.8"/>
<line x1="67.7" y1="604.9" x2="67.7" y2="607.7" stroke="#222" stroke-width="0.8"/>
<line x1="87.1" y1="604.9" x2="87.1" y2="607.7" stroke="#222" stroke-width="0.8"/>
<line x1="104.5" y1="604.9" x2="104.5" y2="607.7" stroke="#222" stroke-width="0.8"/>
<line x1="121.8" y1="604.9" x2="121.8" y2="607.7" stroke="#222" stroke-width="0.8"/>
<line x1="27.7" y1="604.9" x2="27.7" y2="606.7" stroke="#222" stroke-width="0.6"/>
<line x1="30.4" y1="604.9" x2="30.4" y2="606.7" stroke="#222" stroke-width="0.6"/>
<line x1="41.3" y1="604.9" x2="41.3" y2="606.7" stroke="#222" stroke-width="0.6"/>
<line x1="54" y1="604.9" x2="54" y2="606.7" stroke="#222" stroke-width="0.6"/>
<line x1="58" y1="604.9" x2="58" y2="606.7" stroke="#222" stroke-width="0.6"/>
<line x1="60.6" y1="604.9" x2="60.6" y2="606.7" stroke="#222" stroke-width="0.6"/>
<line x1="62.4" y1="604.9" x2="62.4" y2="606.7" stroke="#222" stroke-width="0.6"/>
<line x1="73.54" y1="604.9" x2="73.54" y2="606.7" stroke="#222" stroke-width="0.6"/>
<line x1="76.96" y1="604.9" x2="76.96" y2="606.7" stroke="#222" stroke-width="0.6"/>
<line x1="79.38" y1="604.9" x2="79.38" y2="606.7" stroke="#222" stroke-width="0.6"/>
<line x1="81.26" y1="604.9" x2="81.26" y2="606.7" stroke="#222" stroke-width="0.6"/>
<line x1="82.8" y1="604.9" x2="82.8" y2="606.7" stroke="#222" stroke-width="0.6"/>
<line x1="84.09" y1="604.9" x2="84.09" y2="606.7" stroke="#222" stroke-width="0.6"/>
<line x1="85.22" y1="604.9" x2="85.22" y2="606.7" stroke="#222" stroke-width="0.6"/>
<line x1="86.21" y1="604.9" x2="86.21" y2="606.7" stroke="#222" stroke-width="0.6"/>
<line x1="92.34" y1="604.9" x2="92.34" y2="606.7" stroke="#222" stroke-width="0.6"/>
<line x1="95.4" y1="604.9" x2="95.4" y2="606.7" stroke="#222" stroke-width="0.6"/>
<line x1="97.58" y1="604.9" x2="97.58" y2="606.7" stroke="#222" stroke-width="0.6"/>
<line x1="99.26" y1="604.9" x2="99.26" y2="606.7" stroke="#222" stroke-width="0.6"/>
<line x1="100.64" y1="604.9" x2="100.64" y2="606.7" stroke="#222" stroke-width="0.6"/>
<line x1="101.8" y1="604.9" x2="101.8" y2="606.7" stroke="#222" stroke-width="0.6"/>
<line x1="102.81" y1="604.9" x2="102.81" y2="606.7" stroke="#222" stroke-width="0.6"/>
<line x1="103.7" y1="604.9" x2="103.7" y2="606.7" stroke="#222" stroke-width="0.6"/>
<line x1="109.71" y1="604.9" x2="109.71" y2="606.7" stroke="#222" stroke-width="0.6"/>
<line x1="112.75" y1="604.9" x2="112.75" y2="606.7" stroke="#222" stroke-width="0.6"/>
<line x1="114.92" y1="604.9" x2="114.92" y2="606.7" stroke="#222" stroke-width="0.6"/>
<line x1="116.59" y1="604.9" x2="116.59" y2="606.7" stroke="#222" stroke-width="0.6"/>
<line x1="117.96" y1="604.9" x2="117.96" y2="606.7" stroke="#222" stroke-width="0.6"/>
<line x1="119.12" y1="604.9" x2="119.12" y2="606.7" stroke="#222" stroke-width="0.6"/>
<line x1="120.12" y1="604.9" x2="120.12" y2="606.7" stroke="#222" stroke-width="0.6"/>
<line x1="121.01" y1="604.9" x2="121.01" y2="606.7" stroke="#222" stroke-width="0.6"/>
<rect x="33" y="604.9" width="3.6" height="3" fill="#111" stroke="none" stroke-width="0"/>
<text x="72.25" y="625" font-size="7.8" font-weight="bold" text-anchor="middle" fill="#222" textLength="17.4" lengthAdjust="spacingAndGlyphs">CD64</text>
<rect x="137.9" y="496.5" width="108.6" height="108.4" fill="#fff" stroke="#9a9a9a" stroke-width="0.7"/>
<line x1="137.9" y1="522.3" x2="246.5" y2="522.3" stroke="#c4c4c4" stroke-width="0.6"/>
<line x1="137.9" y1="534.5" x2="246.5" y2="534.5" stroke="#c4c4c4" stroke-width="0.6"/>
<line x1="137.9" y1="546.3" x2="246.5" y2="546.3" stroke="#c4c4c4" stroke-width="0.6"/>
<line x1="137.9" y1="558.1" x2="246.5" y2="558.1" stroke="#c4c4c4" stroke-width="0.6"/>
<line x1="137.9" y1="569.4" x2="246.5" y2="569.4" stroke="#c4c4c4" stroke-width="0.6"/>
<line x1="137.9" y1="581.5" x2="246.5" y2="581.5" stroke="#c4c4c4" stroke-width="0.6"/>
<line x1="137.9" y1="593.4" x2="246.5" y2="593.4" stroke="#c4c4c4" stroke-width="0.6"/>
<path d="M177.69,522.12 L178.1,522.09 L178.52,522.05 L178.93,522.01 L179.35,521.96 L179.76,521.91 L180.18,521.86 L180.59,521.8 L181.01,521.73 L181.42,521.66 L181.83,521.58 L182.25,521.5 L182.66,521.41 L183.08,521.31 L183.49,521.19 L183.91,521.06 L184.32,520.91 L184.74,520.73 L185.15,520.51 L185.57,520.24 L185.98,519.91 L186.4,519.5 L186.81,518.99 L187.22,518.38 L187.64,517.63 L188.05,516.75 L188.47,515.72 L188.88,514.53 L189.3,513.21 L189.71,511.75 L190.13,510.2 L190.54,508.59 L190.96,506.96 L191.37,505.37 L191.79,503.89 L192.2,502.58 L192.61,501.49 L193.03,500.68 L193.44,500.19 L193.86,500.05 L194.27,500.26 L194.69,500.83 L195.1,501.72 L195.52,502.89 L195.93,504.3 L196.35,505.87 L196.76,507.56 L197.18,509.29 L197.59,511 L198,512.65 L198.42,514.2 L198.83,515.61 L199.25,516.86 L199.66,517.95 L200.08,518.88 L200.49,519.66 L200.91,520.29 L201.32,520.8 L201.74,521.19 L202.15,521.5 L202.57,521.73 L202.98,521.9 L203.39,522.02 L203.81,522.11 L204.22,522.17 L204.64,522.22" stroke="#262626" stroke-width="0.8" fill="none"/>
<path d="M185.15,534.42 L185.57,534.37 L185.98,534.28 L186.4,534.15 L186.81,533.95 L187.22,533.67 L187.64,533.26 L188.05,532.7 L188.47,531.96 L188.88,531 L189.3,529.8 L189.71,528.35 L190.13,526.65 L190.54,524.73 L190.96,522.65 L191.37,520.48 L191.79,518.34 L192.2,516.33 L192.61,514.59 L193.03,513.23 L193.44,512.34 L193.86,512 L194.27,512.23 L194.69,513.01 L195.1,514.28 L195.52,515.96 L195.93,517.92 L196.35,520.05 L196.76,522.22 L197.18,524.32 L197.59,526.28 L198,528.03 L198.42,529.53 L198.83,530.78 L199.25,531.79 L199.66,532.57 L200.08,533.16 L200.49,533.6 L200.91,533.9 L201.32,534.12 L201.74,534.26 L202.15,534.35 L202.57,534.41" stroke="#262626" stroke-width="0.8" fill="none"/>
<path d="M187.64,546.22 L188.05,546.18 L188.47,546.11 L188.88,546.01 L189.3,545.86 L189.71,545.64 L190.13,545.35 L190.54,544.96 L190.96,544.44 L191.37,543.77 L191.79,542.92 L192.2,541.89 L192.61,540.66 L193.03,539.23 L193.44,537.62 L193.86,535.86 L194.27,534 L194.69,532.09 L195.1,530.23 L195.52,528.48 L195.93,526.95 L196.35,525.71 L196.76,524.83 L197.18,524.37 L197.59,524.35 L198,524.77 L198.42,525.62 L198.83,526.83 L199.25,528.34 L199.66,530.08 L200.08,531.94 L200.49,533.84 L200.91,535.71 L201.32,537.48 L201.74,539.11 L202.15,540.55 L202.57,541.8 L202.98,542.84 L203.39,543.7 L203.81,544.39 L204.22,544.92 L204.64,545.32 L205.05,545.62 L205.47,545.84 L205.88,545.99 L206.3,546.1 L206.71,546.17 L207.13,546.22" stroke="#262626" stroke-width="0.8" fill="none"/>
<path d="M161.93,557.91 L162.35,557.89 L162.76,557.86 L163.18,557.84 L163.59,557.82 L164.01,557.79 L164.42,557.76 L164.84,557.73 L165.25,557.69 L165.66,557.66 L166.08,557.62 L166.49,557.58 L166.91,557.53 L167.32,557.49 L167.74,557.44 L168.15,557.39 L168.57,557.33 L168.98,557.28 L169.4,557.22 L169.81,557.16 L170.23,557.09 L170.64,557.02 L171.05,556.95 L171.47,556.88 L171.88,556.81 L172.3,556.73 L172.71,556.65 L173.13,556.57 L173.54,556.49 L173.96,556.41 L174.37,556.32 L174.79,556.23 L175.2,556.15 L175.62,556.06 L176.03,555.97 L176.44,555.88 L176.86,555.8 L177.27,555.71 L177.69,555.62 L178.1,555.54 L178.52,555.45 L178.93,555.37 L179.35,555.29 L179.76,555.22 L180.18,555.15 L180.59,555.08 L181.01,555.01 L181.42,554.95 L181.83,554.89 L182.25,554.84 L182.66,554.79 L183.08,554.74 L183.49,554.7 L183.91,554.67 L184.32,554.64 L184.74,554.61 L185.15,554.59 L185.57,554.57 L185.98,554.55 L186.4,554.54 L186.81,554.52 L187.22,554.49 L187.64,554.46 L188.05,554.41 L188.47,554.34 L188.88,554.25 L189.3,554.13 L189.71,553.97 L190.13,553.76 L190.54,553.49 L190.96,553.15 L191.37,552.74 L191.79,552.23 L192.2,551.64 L192.61,550.94 L193.03,550.15 L193.44,549.26 L193.86,548.27 L194.27,547.2 L194.69,546.07 L195.1,544.88 L195.52,543.68 L195.93,542.49 L196.35,541.34 L196.76,540.27 L197.18,539.31 L197.59,538.49 L198,537.84 L198.42,537.39 L198.83,537.15 L199.25,537.15 L199.66,537.37 L200.08,537.81 L200.49,538.47 L200.91,539.32 L201.32,540.33 L201.74,541.48 L202.15,542.73 L202.57,544.04 L202.98,545.38 L203.39,546.73 L203.81,548.04 L204.22,549.3 L204.64,550.48 L205.05,551.58 L205.47,552.57 L205.88,553.46 L206.3,554.24 L206.71,554.93 L207.13,555.51 L207.54,556 L207.96,556.41 L208.37,556.75 L208.78,557.03 L209.2,557.25 L209.61,557.43 L210.03,557.57 L210.44,557.68 L210.86,557.76 L211.27,557.83 L211.69,557.88 L212.1,557.92 L212.52,557.95" stroke="#262626" stroke-width="0.8" fill="none"/>
<path d="M138.3,569.4 L138.71,569.4 L139.13,569.4 L139.54,569.4 L139.96,569.4 L140.37,569.4 L140.79,569.4 L141.2,569.4 L141.62,569.4 L142.03,569.4 L142.45,569.4 L142.86,569.4 L143.28,569.4 L143.69,569.4 L144.1,569.4 L144.52,569.4 L144.93,569.4 L145.35,569.4 L145.76,569.4 L146.18,569.4 L146.59,569.4 L147.01,569.4 L147.42,569.4 L147.84,569.4 L148.25,569.4 L148.67,569.4 L149.08,569.4 L149.49,569.4 L149.91,569.4 L150.32,569.4 L150.74,569.4 L151.15,569.4 L151.57,569.4 L151.98,569.4 L152.4,569.4 L152.81,569.4 L153.23,569.4 L153.64,569.4 L154.06,569.4 L154.47,569.4 L154.88,569.4 L155.3,569.4 L155.71,569.4 L156.13,569.4 L156.54,569.4 L156.96,569.4 L157.37,569.4 L157.79,569.4 L158.2,569.4 L158.62,569.4 L159.03,569.4 L159.45,569.4 L159.86,569.39 L160.27,569.39 L160.69,569.39 L161.1,569.39 L161.52,569.38 L161.93,569.38 L162.35,569.37 L162.76,569.36 L163.18,569.35 L163.59,569.34 L164.01,569.32 L164.42,569.3 L164.84,569.28 L165.25,569.25 L165.66,569.21 L166.08,569.17 L166.49,569.12 L166.91,569.06 L167.32,568.99 L167.74,568.91 L168.15,568.82 L168.57,568.73 L168.98,568.61 L169.4,568.49 L169.81,568.35 L170.23,568.21 L170.64,568.05 L171.05,567.87 L171.47,567.69 L171.88,567.5 L172.3,567.31 L172.71,567.1 L173.13,566.9 L173.54,566.69 L173.96,566.48 L174.37,566.27 L174.79,566.06 L175.2,565.86 L175.62,565.64 L176.03,565.43 L176.44,565.2 L176.86,564.95 L177.27,564.67 L177.69,564.36 L178.1,563.99 L178.52,563.56 L178.93,563.04 L179.35,562.44 L179.76,561.74 L180.18,560.94 L180.59,560.04 L181.01,559.04 L181.42,557.97 L181.83,556.85 L182.25,555.71 L182.66,554.58 L183.08,553.5 L183.49,552.51 L183.91,551.64 L184.32,550.92 L184.74,550.38 L185.15,550.01 L185.57,549.83 L185.98,549.82 L186.4,549.96 L186.81,550.24 L187.22,550.62 L187.64,551.1 L188.05,551.64 L188.47,552.24 L188.88,552.9 L189.3,553.61 L189.71,554.39 L190.13,555.22 L190.54,556.13 L190.96,557.11 L191.37,558.14 L191.79,559.23 L192.2,560.34 L192.61,561.45 L193.03,562.54 L193.44,563.59 L193.86,564.57 L194.27,565.45 L194.69,566.24 L195.1,566.92 L195.52,567.49 L195.93,567.96 L196.35,568.34 L196.76,568.63 L197.18,568.86 L197.59,569.02 L198,569.15 L198.42,569.23 L198.83,569.29 L199.25,569.33 L199.66,569.36 L200.08,569.37 L200.49,569.38 L200.91,569.39 L201.32,569.39 L201.74,569.4 L202.15,569.4 L202.57,569.4 L202.98,569.4 L203.39,569.4 L203.81,569.4 L204.22,569.4 L204.64,569.4 L205.05,569.4 L205.47,569.4 L205.88,569.4 L206.3,569.4 L206.71,569.4 L207.13,569.4 L207.54,569.4 L207.96,569.4 L208.37,569.4 L208.78,569.4 L209.2,569.4 L209.61,569.4 L210.03,569.4 L210.44,569.4 L210.86,569.4 L211.27,569.4 L211.69,569.4 L212.1,569.4 L212.52,569.4 L212.93,569.4 L213.35,569.4 L213.76,569.4 L214.17,569.4 L214.59,569.4 L215,569.4 L215.42,569.4 L215.83,569.4 L216.25,569.4 L216.66,569.4 L217.08,569.4 L217.49,569.4 L217.91,569.4 L218.32,569.4 L218.74,569.4 L219.15,569.4 L219.56,569.4 L219.98,569.4 L220.39,569.4 L220.81,569.4 L221.22,569.4 L221.64,569.4 L222.05,569.4 L222.47,569.4 L222.88,569.4 L223.3,569.4 L223.71,569.4 L224.13,569.4 L224.54,569.4 L224.95,569.4 L225.37,569.4 L225.78,569.4 L226.2,569.4 L226.61,569.4 L227.03,569.4 L227.44,569.4 L227.86,569.4 L228.27,569.4 L228.69,569.4 L229.1,569.4 L229.52,569.4 L229.93,569.4 L230.34,569.4 L230.76,569.4 L231.17,569.4 L231.59,569.4 L232,569.4 L232.42,569.4 L232.83,569.4 L233.25,569.4 L233.66,569.4 L234.08,569.4 L234.49,569.4 L234.91,569.4 L235.32,569.4 L235.73,569.4 L236.15,569.4 L236.56,569.4 L236.98,569.4 L237.39,569.4 L237.81,569.4 L238.22,569.4 L238.64,569.4 L239.05,569.4 L239.47,569.4 L239.88,569.4 L240.3,569.4 L240.71,569.4 L241.12,569.4 L241.54,569.4 L241.95,569.4 L242.37,569.4 L242.78,569.4 L243.2,569.4 L243.61,569.4 L244.03,569.4 L244.44,569.4 L244.86,569.4 L245.27,569.4 L245.69,569.4 L246.1,569.4 L246.1,569.4 L138.3,569.4 Z" stroke="#b0b0b0" stroke-width="0.6" fill="#c8c8c8" fill-opacity="0.6"/>
<path d="M138.3,581.5 L138.71,581.5 L139.13,581.5 L139.54,581.5 L139.96,581.5 L140.37,581.5 L140.79,581.5 L141.2,581.5 L141.62,581.5 L142.03,581.5 L142.45,581.5 L142.86,581.5 L143.28,581.5 L143.69,581.5 L144.1,581.5 L144.52,581.5 L144.93,581.5 L145.35,581.5 L145.76,581.5 L146.18,581.5 L146.59,581.5 L147.01,581.5 L147.42,581.5 L147.84,581.5 L148.25,581.5 L148.67,581.49 L149.08,581.49 L149.49,581.49 L149.91,581.49 L150.32,581.49 L150.74,581.48 L151.15,581.48 L151.57,581.48 L151.98,581.47 L152.4,581.46 L152.81,581.45 L153.23,581.45 L153.64,581.43 L154.06,581.42 L154.47,581.4 L154.88,581.39 L155.3,581.36 L155.71,581.34 L156.13,581.31 L156.54,581.28 L156.96,581.24 L157.37,581.2 L157.79,581.15 L158.2,581.1 L158.62,581.04 L159.03,580.97 L159.45,580.9 L159.86,580.81 L160.27,580.72 L160.69,580.63 L161.1,580.52 L161.52,580.41 L161.93,580.28 L162.35,580.15 L162.76,580.01 L163.18,579.86 L163.59,579.7 L164.01,579.53 L164.42,579.35 L164.84,579.17 L165.25,578.98 L165.66,578.78 L166.08,578.57 L166.49,578.36 L166.91,578.15 L167.32,577.92 L167.74,577.7 L168.15,577.47 L168.57,577.24 L168.98,577 L169.4,576.76 L169.81,576.53 L170.23,576.29 L170.64,576.05 L171.05,575.8 L171.47,575.56 L171.88,575.33 L172.3,575.09 L172.71,574.85 L173.13,574.62 L173.54,574.39 L173.96,574.16 L174.37,573.94 L174.79,573.72 L175.2,573.51 L175.62,573.3 L176.03,573.1 L176.44,572.91 L176.86,572.73 L177.27,572.56 L177.69,572.4 L178.1,572.25 L178.52,572.11 L178.93,571.98 L179.35,571.87 L179.76,571.76 L180.18,571.67 L180.59,571.58 L181.01,571.5 L181.42,571.41 L181.83,571.32 L182.25,571.21 L182.66,571.08 L183.08,570.92 L183.49,570.72 L183.91,570.46 L184.32,570.15 L184.74,569.77 L185.15,569.31 L185.57,568.78 L185.98,568.16 L186.4,567.48 L186.81,566.72 L187.22,565.92 L187.64,565.09 L188.05,564.26 L188.47,563.46 L188.88,562.71 L189.3,562.06 L189.71,561.54 L190.13,561.17 L190.54,560.98 L190.96,560.99 L191.37,561.22 L191.79,561.65 L192.2,562.29 L192.61,563.11 L193.03,564.11 L193.44,565.24 L193.86,566.47 L194.27,567.77 L194.69,569.1 L195.1,570.42 L195.52,571.72 L195.93,572.96 L196.35,574.11 L196.76,575.18 L197.18,576.14 L197.59,576.99 L198,577.74 L198.42,578.39 L198.83,578.93 L199.25,579.39 L199.66,579.78 L200.08,580.09 L200.49,580.35 L200.91,580.56 L201.32,580.73 L201.74,580.87 L202.15,580.98 L202.57,581.06 L202.98,581.14 L203.39,581.19 L203.81,581.24 L204.22,581.28 L204.64,581.32 L205.05,581.34 L205.47,581.37 L205.88,581.39 L206.3,581.4 L206.71,581.42 L207.13,581.43 L207.54,581.44 L207.96,581.45 L208.37,581.46 L208.78,581.46 L209.2,581.47 L209.61,581.48 L210.03,581.48 L210.44,581.48 L210.86,581.49 L211.27,581.49 L211.69,581.49 L212.1,581.49 L212.52,581.49 L212.93,581.49 L213.35,581.5 L213.76,581.5 L214.17,581.5 L214.59,581.5 L215,581.5 L215.42,581.5 L215.83,581.5 L216.25,581.5 L216.66,581.5 L217.08,581.5 L217.49,581.5 L217.91,581.5 L218.32,581.5 L218.74,581.5 L219.15,581.5 L219.56,581.5 L219.98,581.5 L220.39,581.5 L220.81,581.5 L221.22,581.5 L221.64,581.5 L222.05,581.5 L222.47,581.5 L222.88,581.5 L223.3,581.5 L223.71,581.5 L224.13,581.5 L224.54,581.5 L224.95,581.5 L225.37,581.5 L225.78,581.5 L226.2,581.5 L226.61,581.5 L227.03,581.5 L227.44,581.5 L227.86,581.5 L228.27,581.5 L228.69,581.5 L229.1,581.5 L229.52,581.5 L229.93,581.5 L230.34,581.5 L230.76,581.5 L231.17,581.5 L231.59,581.5 L232,581.5 L232.42,581.5 L232.83,581.5 L233.25,581.5 L233.66,581.5 L234.08,581.5 L234.49,581.5 L234.91,581.5 L235.32,581.5 L235.73,581.5 L236.15,581.5 L236.56,581.5 L236.98,581.5 L237.39,581.5 L237.81,581.5 L238.22,581.5 L238.64,581.5 L239.05,581.5 L239.47,581.5 L239.88,581.5 L240.3,581.5 L240.71,581.5 L241.12,581.5 L241.54,581.5 L241.95,581.5 L242.37,581.5 L242.78,581.5 L243.2,581.5 L243.61,581.5 L244.03,581.5 L244.44,581.5 L244.86,581.5 L245.27,581.5 L245.69,581.5 L246.1,581.5 L246.1,581.5 L138.3,581.5 Z" stroke="#b0b0b0" stroke-width="0.6" fill="#c8c8c8" fill-opacity="0.6"/>
<path d="M138.3,593.4 L138.71,593.4 L139.13,593.4 L139.54,593.4 L139.96,593.4 L140.37,593.4 L140.79,593.4 L141.2,593.4 L141.62,593.4 L142.03,593.4 L142.45,593.4 L142.86,593.4 L143.28,593.4 L143.69,593.4 L144.1,593.4 L144.52,593.4 L144.93,593.4 L145.35,593.4 L145.76,593.4 L146.18,593.4 L146.59,593.4 L147.01,593.4 L147.42,593.4 L147.84,593.4 L148.25,593.4 L148.67,593.4 L149.08,593.4 L149.49,593.4 L149.91,593.4 L150.32,593.4 L150.74,593.4 L151.15,593.4 L151.57,593.4 L151.98,593.4 L152.4,593.4 L152.81,593.4 L153.23,593.4 L153.64,593.4 L154.06,593.39 L154.47,593.39 L154.88,593.38 L155.3,593.37 L155.71,593.36 L156.13,593.33 L156.54,593.29 L156.96,593.23 L157.37,593.14 L157.79,593.01 L158.2,592.82 L158.62,592.57 L159.03,592.23 L159.45,591.78 L159.86,591.2 L160.27,590.47 L160.69,589.57 L161.1,588.49 L161.52,587.22 L161.93,585.77 L162.35,584.16 L162.76,582.42 L163.18,580.6 L163.59,578.76 L164.01,576.98 L164.42,575.32 L164.84,573.87 L165.25,572.71 L165.66,571.89 L166.08,571.46 L166.49,571.45 L166.91,571.85 L167.32,572.64 L167.74,573.79 L168.15,575.22 L168.57,576.86 L168.98,578.65 L169.4,580.48 L169.81,582.31 L170.23,584.05 L170.64,585.67 L171.05,587.13 L171.47,588.41 L171.88,589.51 L172.3,590.42 L172.71,591.16 L173.13,591.75 L173.54,592.21 L173.96,592.55 L174.37,592.81 L174.79,593 L175.2,593.13 L175.62,593.22 L176.03,593.29 L176.44,593.33 L176.86,593.36 L177.27,593.37 L177.69,593.38 L178.1,593.39 L178.52,593.39 L178.93,593.4 L179.35,593.4 L179.76,593.4 L180.18,593.4 L180.59,593.4 L181.01,593.4 L181.42,593.4 L181.83,593.4 L182.25,593.4 L182.66,593.4 L183.08,593.4 L183.49,593.4 L183.91,593.4 L184.32,593.4 L184.74,593.4 L185.15,593.4 L185.57,593.4 L185.98,593.4 L186.4,593.4 L186.81,593.4 L187.22,593.4 L187.64,593.4 L188.05,593.4 L188.47,593.4 L188.88,593.4 L189.3,593.4 L189.71,593.4 L190.13,593.4 L190.54,593.4 L190.96,593.4 L191.37,593.4 L191.79,593.4 L192.2,593.4 L192.61,593.4 L193.03,593.4 L193.44,593.4 L193.86,593.4 L194.27,593.4 L194.69,593.4 L195.1,593.4 L195.52,593.4 L195.93,593.4 L196.35,593.4 L196.76,593.4 L197.18,593.4 L197.59,593.4 L198,593.4 L198.42,593.4 L198.83,593.4 L199.25,593.4 L199.66,593.4 L200.08,593.4 L200.49,593.4 L200.91,593.4 L201.32,593.4 L201.74,593.4 L202.15,593.4 L202.57,593.4 L202.98,593.4 L203.39,593.4 L203.81,593.4 L204.22,593.4 L204.64,593.4 L205.05,593.4 L205.47,593.4 L205.88,593.4 L206.3,593.4 L206.71,593.4 L207.13,593.4 L207.54,593.4 L207.96,593.4 L208.37,593.4 L208.78,593.4 L209.2,593.4 L209.61,593.4 L210.03,593.4 L210.44,593.4 L210.86,593.4 L211.27,593.4 L211.69,593.4 L212.1,593.4 L212.52,593.4 L212.93,593.4 L213.35,593.4 L213.76,593.4 L214.17,593.4 L214.59,593.4 L215,593.4 L215.42,593.4 L215.83,593.4 L216.25,593.4 L216.66,593.4 L217.08,593.4 L217.49,593.4 L217.91,593.4 L218.32,593.4 L218.74,593.4 L219.15,593.4 L219.56,593.4 L219.98,593.4 L220.39,593.4 L220.81,593.4 L221.22,593.4 L221.64,593.4 L222.05,593.4 L222.47,593.4 L222.88,593.4 L223.3,593.4 L223.71,593.4 L224.13,593.4 L224.54,593.4 L224.95,593.4 L225.37,593.4 L225.78,593.4 L226.2,593.4 L226.61,593.4 L227.03,593.4 L227.44,593.4 L227.86,593.4 L228.27,593.4 L228.69,593.4 L229.1,593.4 L229.52,593.4 L229.93,593.4 L230.34,593.4 L230.76,593.4 L231.17,593.4 L231.59,593.4 L232,593.4 L232.42,593.4 L232.83,593.4 L233.25,593.4 L233.66,593.4 L234.08,593.4 L234.49,593.4 L234.91,593.4 L235.32,593.4 L235.73,593.4 L236.15,593.4 L236.56,593.4 L236.98,593.4 L237.39,593.4 L237.81,593.4 L238.22,593.4 L238.64,593.4 L239.05,593.4 L239.47,593.4 L239.88,593.4 L240.3,593.4 L240.71,593.4 L241.12,593.4 L241.54,593.4 L241.95,593.4 L242.37,593.4 L242.78,593.4 L243.2,593.4 L243.61,593.4 L244.03,593.4 L244.44,593.4 L244.86,593.4 L245.27,593.4 L245.69,593.4 L246.1,593.4 L246.1,593.4 L138.3,593.4 Z" stroke="#b0b0b0" stroke-width="0.6" fill="#c8c8c8" fill-opacity="0.6"/>
<path d="M138.3,604.9 L138.71,604.9 L139.13,604.9 L139.54,604.9 L139.96,604.9 L140.37,604.9 L140.79,604.9 L141.2,604.9 L141.62,604.9 L142.03,604.9 L142.45,604.9 L142.86,604.9 L143.28,604.9 L143.69,604.9 L144.1,604.9 L144.52,604.9 L144.93,604.9 L145.35,604.9 L145.76,604.9 L146.18,604.9 L146.59,604.9 L147.01,604.9 L147.42,604.9 L147.84,604.9 L148.25,604.9 L148.67,604.9 L149.08,604.9 L149.49,604.9 L149.91,604.89 L150.32,604.89 L150.74,604.88 L151.15,604.86 L151.57,604.84 L151.98,604.8 L152.4,604.74 L152.81,604.65 L153.23,604.51 L153.64,604.32 L154.06,604.04 L154.47,603.66 L154.88,603.15 L155.3,602.48 L155.71,601.63 L156.13,600.58 L156.54,599.31 L156.96,597.82 L157.37,596.14 L157.79,594.29 L158.2,592.33 L158.62,590.33 L159.03,588.38 L159.45,586.58 L159.86,585.01 L160.27,583.79 L160.69,582.97 L161.1,582.61 L161.52,582.74 L161.93,583.35 L162.35,584.4 L162.76,585.81 L163.18,587.52 L163.59,589.42 L164.01,591.4 L164.42,593.39 L164.84,595.3 L165.25,597.07 L165.66,598.65 L166.08,600.01 L166.49,601.17 L166.91,602.11 L167.32,602.86 L167.74,603.44 L168.15,603.88 L168.57,604.2 L168.98,604.43 L169.4,604.59 L169.81,604.7 L170.23,604.78 L170.64,604.82 L171.05,604.85 L171.47,604.87 L171.88,604.88 L172.3,604.89 L172.71,604.9 L173.13,604.9 L173.54,604.9 L173.96,604.9 L174.37,604.9 L174.79,604.9 L175.2,604.9 L175.62,604.9 L176.03,604.9 L176.44,604.9 L176.86,604.9 L177.27,604.9 L177.69,604.9 L178.1,604.9 L178.52,604.9 L178.93,604.9 L179.35,604.9 L179.76,604.9 L180.18,604.9 L180.59,604.9 L181.01,604.9 L181.42,604.9 L181.83,604.9 L182.25,604.9 L182.66,604.9 L183.08,604.9 L183.49,604.9 L183.91,604.9 L184.32,604.9 L184.74,604.9 L185.15,604.9 L185.57,604.9 L185.98,604.9 L186.4,604.9 L186.81,604.9 L187.22,604.9 L187.64,604.9 L188.05,604.9 L188.47,604.9 L188.88,604.9 L189.3,604.9 L189.71,604.9 L190.13,604.9 L190.54,604.9 L190.96,604.9 L191.37,604.9 L191.79,604.9 L192.2,604.9 L192.61,604.9 L193.03,604.9 L193.44,604.9 L193.86,604.9 L194.27,604.9 L194.69,604.9 L195.1,604.9 L195.52,604.9 L195.93,604.9 L196.35,604.9 L196.76,604.9 L197.18,604.9 L197.59,604.9 L198,604.9 L198.42,604.9 L198.83,604.9 L199.25,604.9 L199.66,604.9 L200.08,604.9 L200.49,604.9 L200.91,604.9 L201.32,604.9 L201.74,604.9 L202.15,604.9 L202.57,604.9 L202.98,604.9 L203.39,604.9 L203.81,604.9 L204.22,604.9 L204.64,604.9 L205.05,604.9 L205.47,604.9 L205.88,604.9 L206.3,604.9 L206.71,604.9 L207.13,604.9 L207.54,604.9 L207.96,604.9 L208.37,604.9 L208.78,604.9 L209.2,604.9 L209.61,604.9 L210.03,604.9 L210.44,604.9 L210.86,604.9 L211.27,604.9 L211.69,604.9 L212.1,604.9 L212.52,604.9 L212.93,604.9 L213.35,604.9 L213.76,604.9 L214.17,604.9 L214.59,604.9 L215,604.9 L215.42,604.9 L215.83,604.9 L216.25,604.9 L216.66,604.9 L217.08,604.9 L217.49,604.9 L217.91,604.9 L218.32,604.9 L218.74,604.9 L219.15,604.9 L219.56,604.9 L219.98,604.9 L220.39,604.9 L220.81,604.9 L221.22,604.9 L221.64,604.9 L222.05,604.9 L222.47,604.9 L222.88,604.9 L223.3,604.9 L223.71,604.9 L224.13,604.9 L224.54,604.9 L224.95,604.9 L225.37,604.9 L225.78,604.9 L226.2,604.9 L226.61,604.9 L227.03,604.9 L227.44,604.9 L227.86,604.9 L228.27,604.9 L228.69,604.9 L229.1,604.9 L229.52,604.9 L229.93,604.9 L230.34,604.9 L230.76,604.9 L231.17,604.9 L231.59,604.9 L232,604.9 L232.42,604.9 L232.83,604.9 L233.25,604.9 L233.66,604.9 L234.08,604.9 L234.49,604.9 L234.91,604.9 L235.32,604.9 L235.73,604.9 L236.15,604.9 L236.56,604.9 L236.98,604.9 L237.39,604.9 L237.81,604.9 L238.22,604.9 L238.64,604.9 L239.05,604.9 L239.47,604.9 L239.88,604.9 L240.3,604.9 L240.71,604.9 L241.12,604.9 L241.54,604.9 L241.95,604.9 L242.37,604.9 L242.78,604.9 L243.2,604.9 L243.61,604.9 L244.03,604.9 L244.44,604.9 L244.86,604.9 L245.27,604.9 L245.69,604.9 L246.1,604.9 L246.1,604.9 L138.3,604.9 Z" stroke="#b0b0b0" stroke-width="0.6" fill="#c8c8c8" fill-opacity="0.6"/>
<text x="244.6" y="520" font-size="6.2" font-weight="normal" text-anchor="end" fill="#2a2a2a" textLength="16.5" lengthAdjust="spacingAndGlyphs">SKM-1</text>
<text x="143.6" y="531.9" font-size="6.2" font-weight="normal" text-anchor="start" fill="#2a2a2a" textLength="27.8" lengthAdjust="spacingAndGlyphs">OCI-AML-3</text>
<text x="244.6" y="544" font-size="6.2" font-weight="normal" text-anchor="end" fill="#2a2a2a" textLength="11.8" lengthAdjust="spacingAndGlyphs">TF-1</text>
<text x="244.6" y="555.8" font-size="6.2" font-weight="normal" text-anchor="end" fill="#2a2a2a" textLength="19.8" lengthAdjust="spacingAndGlyphs">HNT-34</text>
<text x="244.6" y="567.1" font-size="6.2" font-weight="normal" text-anchor="end" fill="#2a2a2a" textLength="25.2" lengthAdjust="spacingAndGlyphs">Iso SKM-1</text>
<text x="244.6" y="579.2" font-size="6.2" font-weight="normal" text-anchor="end" fill="#2a2a2a" textLength="36" lengthAdjust="spacingAndGlyphs">Iso OCI-AML-3</text>
<text x="244.6" y="591.1" font-size="6.2" font-weight="normal" text-anchor="end" fill="#2a2a2a" textLength="20" lengthAdjust="spacingAndGlyphs">Iso TF-1</text>
<text x="244.6" y="602.6" font-size="6.2" font-weight="normal" text-anchor="end" fill="#2a2a2a" textLength="28.8" lengthAdjust="spacingAndGlyphs">Iso HNT-34</text>
<line x1="137.9" y1="604.9" x2="246.5" y2="604.9" stroke="#555" stroke-width="0.9"/>
<line x1="142.1" y1="604.9" x2="142.1" y2="607.7" stroke="#222" stroke-width="0.8"/>
<line x1="168" y1="604.9" x2="168" y2="607.7" stroke="#222" stroke-width="0.8"/>
<line x1="188.2" y1="604.9" x2="188.2" y2="607.7" stroke="#222" stroke-width="0.8"/>
<line x1="207.6" y1="604.9" x2="207.6" y2="607.7" stroke="#222" stroke-width="0.8"/>
<line x1="225" y1="604.9" x2="225" y2="607.7" stroke="#222" stroke-width="0.8"/>
<line x1="242.3" y1="604.9" x2="242.3" y2="607.7" stroke="#222" stroke-width="0.8"/>
<line x1="148.2" y1="604.9" x2="148.2" y2="606.7" stroke="#222" stroke-width="0.6"/>
<line x1="150.9" y1="604.9" x2="150.9" y2="606.7" stroke="#222" stroke-width="0.6"/>
<line x1="161.8" y1="604.9" x2="161.8" y2="606.7" stroke="#222" stroke-width="0.6"/>
<line x1="174.5" y1="604.9" x2="174.5" y2="606.7" stroke="#222" stroke-width="0.6"/>
<line x1="178.5" y1="604.9" x2="178.5" y2="606.7" stroke="#222" stroke-width="0.6"/>
<line x1="181.1" y1="604.9" x2="181.1" y2="606.7" stroke="#222" stroke-width="0.6"/>
<line x1="182.9" y1="604.9" x2="182.9" y2="606.7" stroke="#222" stroke-width="0.6"/>
<line x1="194.04" y1="604.9" x2="194.04" y2="606.7" stroke="#222" stroke-width="0.6"/>
<line x1="197.46" y1="604.9" x2="197.46" y2="606.7" stroke="#222" stroke-width="0.6"/>
<line x1="199.88" y1="604.9" x2="199.88" y2="606.7" stroke="#222" stroke-width="0.6"/>
<line x1="201.76" y1="604.9" x2="201.76" y2="606.7" stroke="#222" stroke-width="0.6"/>
<line x1="203.3" y1="604.9" x2="203.3" y2="606.7" stroke="#222" stroke-width="0.6"/>
<line x1="204.59" y1="604.9" x2="204.59" y2="606.7" stroke="#222" stroke-width="0.6"/>
<line x1="205.72" y1="604.9" x2="205.72" y2="606.7" stroke="#222" stroke-width="0.6"/>
<line x1="206.71" y1="604.9" x2="206.71" y2="606.7" stroke="#222" stroke-width="0.6"/>
<line x1="212.84" y1="604.9" x2="212.84" y2="606.7" stroke="#222" stroke-width="0.6"/>
<line x1="215.9" y1="604.9" x2="215.9" y2="606.7" stroke="#222" stroke-width="0.6"/>
<line x1="218.08" y1="604.9" x2="218.08" y2="606.7" stroke="#222" stroke-width="0.6"/>
<line x1="219.76" y1="604.9" x2="219.76" y2="606.7" stroke="#222" stroke-width="0.6"/>
<line x1="221.14" y1="604.9" x2="221.14" y2="606.7" stroke="#222" stroke-width="0.6"/>
<line x1="222.3" y1="604.9" x2="222.3" y2="606.7" stroke="#222" stroke-width="0.6"/>
<line x1="223.31" y1="604.9" x2="223.31" y2="606.7" stroke="#222" stroke-width="0.6"/>
<line x1="224.2" y1="604.9" x2="224.2" y2="606.7" stroke="#222" stroke-width="0.6"/>
<line x1="230.21" y1="604.9" x2="230.21" y2="606.7" stroke="#222" stroke-width="0.6"/>
<line x1="233.25" y1="604.9" x2="233.25" y2="606.7" stroke="#222" stroke-width="0.6"/>
<line x1="235.42" y1="604.9" x2="235.42" y2="606.7" stroke="#222" stroke-width="0.6"/>
<line x1="237.09" y1="604.9" x2="237.09" y2="606.7" stroke="#222" stroke-width="0.6"/>
<line x1="238.46" y1="604.9" x2="238.46" y2="606.7" stroke="#222" stroke-width="0.6"/>
<line x1="239.62" y1="604.9" x2="239.62" y2="606.7" stroke="#222" stroke-width="0.6"/>
<line x1="240.62" y1="604.9" x2="240.62" y2="606.7" stroke="#222" stroke-width="0.6"/>
<line x1="241.51" y1="604.9" x2="241.51" y2="606.7" stroke="#222" stroke-width="0.6"/>
<rect x="153.5" y="604.9" width="3.6" height="3" fill="#111" stroke="none" stroke-width="0"/>
<text x="192.5" y="625" font-size="7.8" font-weight="bold" text-anchor="middle" fill="#222" textLength="17.4" lengthAdjust="spacingAndGlyphs">CD32</text>
<text x="37.4" y="614.6" font-size="4.8" font-weight="normal" text-anchor="middle" fill="#666">0</text>
<text x="72.3" y="615.0" font-size="4.8" text-anchor="middle" fill="#666">10<tspan font-size="3.6" dy="-2.2">4</tspan></text>
<text x="90.3" y="615.0" font-size="4.8" text-anchor="middle" fill="#666">10<tspan font-size="3.6" dy="-2.2">5</tspan></text>
<text x="107.6" y="615.0" font-size="4.8" text-anchor="middle" fill="#666">10<tspan font-size="3.6" dy="-2.2">6</tspan></text>
<text x="122.6" y="615.0" font-size="4.8" text-anchor="middle" fill="#666">10<tspan font-size="3.6" dy="-2.2">7</tspan></text>
<text x="157.9" y="614.6" font-size="4.8" font-weight="normal" text-anchor="middle" fill="#666">0</text>
<text x="192.8" y="615.0" font-size="4.8" text-anchor="middle" fill="#666">10<tspan font-size="3.6" dy="-2.2">4</tspan></text>
<text x="210.8" y="615.0" font-size="4.8" text-anchor="middle" fill="#666">10<tspan font-size="3.6" dy="-2.2">5</tspan></text>
<text x="228.1" y="615.0" font-size="4.8" text-anchor="middle" fill="#666">10<tspan font-size="3.6" dy="-2.2">6</tspan></text>
<text x="243.1" y="615.0" font-size="4.8" text-anchor="middle" fill="#666">10<tspan font-size="3.6" dy="-2.2">7</tspan></text>
<line x1="372.4" y1="504.2" x2="372.4" y2="556.3" stroke="#000" stroke-width="1.1"/>
<line x1="369.7" y1="556.3" x2="375.1" y2="556.3" stroke="#000" stroke-width="1.1"/>
<line x1="372.4" y1="564.7" x2="372.4" y2="616.4" stroke="#000" stroke-width="1.1"/>
<line x1="369.7" y1="564.7" x2="375.1" y2="564.7" stroke="#000" stroke-width="1.1"/>
<line x1="372.4" y1="616.4" x2="485.3" y2="616.4" stroke="#000" stroke-width="1.1"/>
<line x1="368.9" y1="504.2" x2="372.4" y2="504.2" stroke="#000" stroke-width="1"/>
<text x="366.4" y="507.3" font-size="8.7" font-weight="bold" text-anchor="end" fill="#000">300000</text>
<line x1="368.9" y1="522.4" x2="372.4" y2="522.4" stroke="#000" stroke-width="1"/>
<text x="366.4" y="525.5" font-size="8.7" font-weight="bold" text-anchor="end" fill="#000">200000</text>
<line x1="368.9" y1="540.4" x2="372.4" y2="540.4" stroke="#000" stroke-width="1"/>
<text x="366.4" y="543.5" font-size="8.7" font-weight="bold" text-anchor="end" fill="#000">100000</text>
<line x1="368.9" y1="616.4" x2="372.4" y2="616.4" stroke="#000" stroke-width="1"/>
<text x="366.4" y="619.5" font-size="8.7" font-weight="bold" text-anchor="end" fill="#000">0</text>
<line x1="368.9" y1="606.08" x2="372.4" y2="606.08" stroke="#000" stroke-width="1"/>
<text x="366.4" y="609.18" font-size="8.7" font-weight="bold" text-anchor="end" fill="#000">1000</text>
<line x1="368.9" y1="595.76" x2="372.4" y2="595.76" stroke="#000" stroke-width="1"/>
<text x="366.4" y="598.86" font-size="8.7" font-weight="bold" text-anchor="end" fill="#000">2000</text>
<line x1="368.9" y1="585.44" x2="372.4" y2="585.44" stroke="#000" stroke-width="1"/>
<text x="366.4" y="588.54" font-size="8.7" font-weight="bold" text-anchor="end" fill="#000">3000</text>
<line x1="368.9" y1="575.12" x2="372.4" y2="575.12" stroke="#000" stroke-width="1"/>
<text x="366.4" y="578.22" font-size="8.7" font-weight="bold" text-anchor="end" fill="#000">4000</text>
<line x1="368.9" y1="564.8" x2="372.4" y2="564.8" stroke="#000" stroke-width="1"/>
<text x="366.4" y="567.9" font-size="8.7" font-weight="bold" text-anchor="end" fill="#000">5000</text>
<path d="M381.9,616.4 L381.9,512.3 L397.7,512.3 L397.7,616.4" stroke="#111" stroke-width="1.2" fill="#e3e3e3"/>
<path d="M407.8,616.4 L407.8,518.2 L424.1,518.2 L424.1,616.4" stroke="#111" stroke-width="1.2" fill="#e3e3e3"/>
<rect x="379" y="556.3" width="48" height="7.8" fill="#fff" stroke="none" stroke-width="0"/>
<path d="M433.5,616.4 L433.5,602.9 L449.8,602.9 L449.8,616.4" stroke="#111" stroke-width="1.2" fill="#e3e3e3"/>
<path d="M459.5,616.4 L459.5,613 L475.7,613 L475.7,616.4" stroke="#111" stroke-width="1.2" fill="#e3e3e3"/>
<line x1="389.8" y1="508.5" x2="389.8" y2="512.3" stroke="#222" stroke-width="0.8"/>
<line x1="386.3" y1="508.5" x2="393.3" y2="508.5" stroke="#222" stroke-width="0.8"/>
<line x1="386.3" y1="512.3" x2="393.3" y2="512.3" stroke="#222" stroke-width="0.8"/>
<line x1="415.9" y1="507.2" x2="415.9" y2="529.4" stroke="#222" stroke-width="0.8"/>
<line x1="412.4" y1="507.2" x2="419.4" y2="507.2" stroke="#222" stroke-width="0.8"/>
<line x1="412.4" y1="529.4" x2="419.4" y2="529.4" stroke="#222" stroke-width="0.8"/>
<line x1="441.6" y1="602.9" x2="441.6" y2="601.2" stroke="#222" stroke-width="0.8"/>
<rect x="462" y="611.6" width="11.5" height="2.2" fill="#fff" stroke="none" stroke-width="0"/>
<line x1="462" y1="611.6" x2="473.5" y2="611.6" stroke="#222" stroke-width="0.7"/>
<line x1="462" y1="613.8" x2="473.5" y2="613.8" stroke="#222" stroke-width="0.7"/>
<circle cx="383.6" cy="510.1" r="2.45" fill="#4f7fe8" stroke="#111" stroke-width="0.8"/>
<circle cx="396.2" cy="510.1" r="2.45" fill="#4f7fe8" stroke="#111" stroke-width="0.8"/>
<circle cx="389.6" cy="516" r="2.45" fill="#4f7fe8" stroke="#111" stroke-width="0.8"/>
<circle cx="409.6" cy="510" r="2.45" fill="#f05a1a" stroke="#111" stroke-width="0.8"/>
<circle cx="422.3" cy="513.4" r="2.45" fill="#f05a1a" stroke="#111" stroke-width="0.8"/>
<circle cx="415.8" cy="530.1" r="2.45" fill="#f05a1a" stroke="#111" stroke-width="0.8"/>
<circle cx="435.7" cy="601.8" r="2.45" fill="#3cc6e4" stroke="#111" stroke-width="0.8"/>
<circle cx="441.7" cy="601.2" r="2.45" fill="#3cc6e4" stroke="#111" stroke-width="0.8"/>
<circle cx="447.8" cy="601.8" r="2.45" fill="#3cc6e4" stroke="#111" stroke-width="0.8"/>
<circle cx="462" cy="614.1" r="2.45" fill="#f4ac1c" stroke="#111" stroke-width="0.8"/>
<circle cx="474.4" cy="612.2" r="2.45" fill="#f4ac1c" stroke="#111" stroke-width="0.8"/>
<line x1="389.8" y1="616.4" x2="389.8" y2="621" stroke="#000" stroke-width="1"/>
<text x="391" y="629.6" font-size="8.2" font-weight="bold" text-anchor="end" fill="#000" transform="rotate(-45 391 629.6)">SKM-1</text>
<line x1="415.9" y1="616.4" x2="415.9" y2="621" stroke="#000" stroke-width="1"/>
<text x="417.1" y="629.6" font-size="8.2" font-weight="bold" text-anchor="end" fill="#000" transform="rotate(-45 417.1 629.6)">OCI-AML-3</text>
<line x1="441.6" y1="616.4" x2="441.6" y2="621" stroke="#000" stroke-width="1"/>
<text x="442.8" y="629.6" font-size="8.2" font-weight="bold" text-anchor="end" fill="#000" transform="rotate(-45 442.8 629.6)">TF-1</text>
<line x1="467.6" y1="616.4" x2="467.6" y2="621" stroke="#000" stroke-width="1"/>
<text x="468.8" y="629.6" font-size="8.2" font-weight="bold" text-anchor="end" fill="#000" transform="rotate(-45 468.8 629.6)">HNT-34</text>
<text x="428.5" y="489" font-size="11" font-weight="bold" text-anchor="middle" fill="#000">CD64</text>
<text font-size="9.45" font-weight="bold" text-anchor="middle" transform="translate(321.7 559.8) rotate(-90)"><tspan x="0" y="0">Median fluorescence intensity</tspan><tspan x="0" y="11">- isotype</tspan></text>
<line x1="562.4" y1="504.2" x2="562.4" y2="616.4" stroke="#000" stroke-width="1.1"/>
<line x1="562.4" y1="615.9" x2="675.6" y2="615.9" stroke="#000" stroke-width="1.1"/>
<line x1="558.9" y1="615.9" x2="562.4" y2="615.9" stroke="#000" stroke-width="1"/>
<text x="556.4" y="619" font-size="8.7" font-weight="bold" text-anchor="end" fill="#000">0</text>
<line x1="558.9" y1="587.97" x2="562.4" y2="587.97" stroke="#000" stroke-width="1"/>
<text x="556.4" y="591.07" font-size="8.7" font-weight="bold" text-anchor="end" fill="#000">10000</text>
<line x1="558.9" y1="560.04" x2="562.4" y2="560.04" stroke="#000" stroke-width="1"/>
<text x="556.4" y="563.14" font-size="8.7" font-weight="bold" text-anchor="end" fill="#000">20000</text>
<line x1="558.9" y1="532.11" x2="562.4" y2="532.11" stroke="#000" stroke-width="1"/>
<text x="556.4" y="535.21" font-size="8.7" font-weight="bold" text-anchor="end" fill="#000">30000</text>
<line x1="558.9" y1="504.18" x2="562.4" y2="504.18" stroke="#000" stroke-width="1"/>
<text x="556.4" y="507.28" font-size="8.7" font-weight="bold" text-anchor="end" fill="#000">40000</text>
<path d="M571.2,615.9 L571.2,585.4 L587.6,585.4 L587.6,615.9" stroke="#111" stroke-width="1.2" fill="#e3e3e3"/>
<path d="M597.2,615.9 L597.2,580.4 L613.5,580.4 L613.5,615.9" stroke="#111" stroke-width="1.2" fill="#e3e3e3"/>
<path d="M623.1,615.9 L623.1,539.9 L639.5,539.9 L639.5,615.9" stroke="#111" stroke-width="1.2" fill="#e3e3e3"/>
<path d="M649.3,615.9 L649.3,540.5 L665.8,540.5 L665.8,615.9" stroke="#111" stroke-width="1.2" fill="#e3e3e3"/>
<line x1="605.3" y1="572.6" x2="605.3" y2="587" stroke="#222" stroke-width="0.8"/>
<line x1="601.8" y1="572.6" x2="608.8" y2="572.6" stroke="#222" stroke-width="0.8"/>
<line x1="601.8" y1="587" x2="608.8" y2="587" stroke="#222" stroke-width="0.8"/>
<line x1="657.3" y1="532.7" x2="657.3" y2="546.5" stroke="#222" stroke-width="0.8"/>
<line x1="653.8" y1="532.7" x2="660.8" y2="532.7" stroke="#222" stroke-width="0.8"/>
<line x1="653.8" y1="546.5" x2="660.8" y2="546.5" stroke="#222" stroke-width="0.8"/>
<line x1="631.3" y1="539.9" x2="631.3" y2="537.5" stroke="#222" stroke-width="0.8"/>
<circle cx="573.4" cy="585.2" r="2.45" fill="#4f7fe8" stroke="#111" stroke-width="0.8"/>
<circle cx="579.4" cy="582.6" r="2.45" fill="#4f7fe8" stroke="#111" stroke-width="0.8"/>
<circle cx="585.8" cy="584.5" r="2.45" fill="#4f7fe8" stroke="#111" stroke-width="0.8"/>
<circle cx="599" cy="584.3" r="2.45" fill="#f05a1a" stroke="#111" stroke-width="0.8"/>
<circle cx="605.3" cy="574.3" r="2.45" fill="#f05a1a" stroke="#111" stroke-width="0.8"/>
<circle cx="611.7" cy="580.4" r="2.45" fill="#f05a1a" stroke="#111" stroke-width="0.8"/>
<circle cx="625.4" cy="539.9" r="2.45" fill="#3cc6e4" stroke="#111" stroke-width="0.8"/>
<circle cx="631.3" cy="536.2" r="2.45" fill="#3cc6e4" stroke="#111" stroke-width="0.8"/>
<circle cx="637.5" cy="537.7" r="2.45" fill="#3cc6e4" stroke="#111" stroke-width="0.8"/>
<circle cx="651.3" cy="543.6" r="2.45" fill="#f4ac1c" stroke="#111" stroke-width="0.8"/>
<circle cx="657.3" cy="532.7" r="2.45" fill="#f4ac1c" stroke="#111" stroke-width="0.8"/>
<circle cx="663.4" cy="543.6" r="2.45" fill="#f4ac1c" stroke="#111" stroke-width="0.8"/>
<line x1="579.4" y1="615.9" x2="579.4" y2="620.5" stroke="#000" stroke-width="1"/>
<text x="580.6" y="629.1" font-size="8.2" font-weight="bold" text-anchor="end" fill="#000" transform="rotate(-45 580.6 629.1)">SKM-1</text>
<line x1="605.3" y1="615.9" x2="605.3" y2="620.5" stroke="#000" stroke-width="1"/>
<text x="606.5" y="629.1" font-size="8.2" font-weight="bold" text-anchor="end" fill="#000" transform="rotate(-45 606.5 629.1)">OCI-AML-3</text>
<line x1="631.3" y1="615.9" x2="631.3" y2="620.5" stroke="#000" stroke-width="1"/>
<text x="632.5" y="629.1" font-size="8.2" font-weight="bold" text-anchor="end" fill="#000" transform="rotate(-45 632.5 629.1)">TF-1</text>
<line x1="657.3" y1="615.9" x2="657.3" y2="620.5" stroke="#000" stroke-width="1"/>
<text x="658.5" y="629.1" font-size="8.2" font-weight="bold" text-anchor="end" fill="#000" transform="rotate(-45 658.5 629.1)">HNT-34</text>
<text x="618.5" y="489" font-size="11" font-weight="bold" text-anchor="middle" fill="#000">CD32</text>
<text font-size="9.45" font-weight="bold" text-anchor="middle" transform="translate(514.8 559.8) rotate(-90)"><tspan x="0" y="0">Median fluorescence intensity</tspan><tspan x="0" y="11">- isotype</tspan></text>
</svg>
</body></html>
